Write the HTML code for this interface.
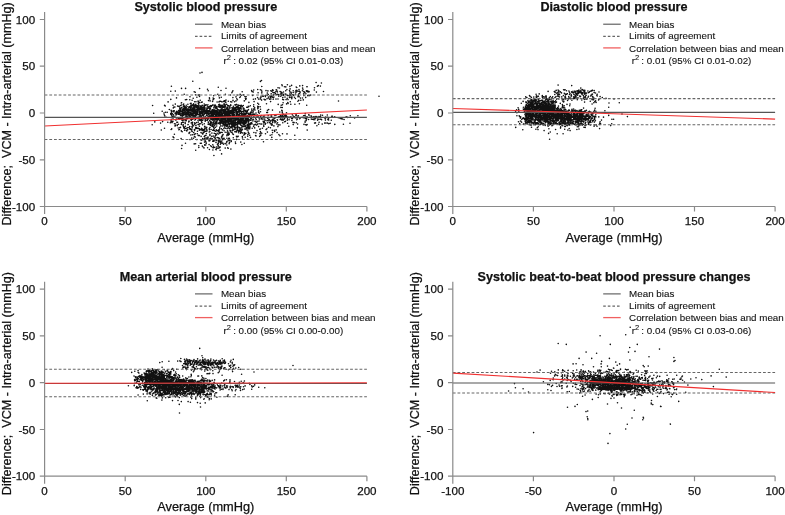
<!DOCTYPE html>
<html><head><meta charset="utf-8"><style>
html,body{margin:0;padding:0;background:#fff;}
svg{display:block;}
text{font-family:"Liberation Sans",Arial,sans-serif;fill:#111;stroke:#111;stroke-width:0.25px;}
.t{font-size:11.6px;}
.al{font-size:12.8px;}
.ti{font-size:12.6px;font-weight:bold;}
.lg{font-size:9.8px;stroke-width:0.1px;}
.yl{font-size:12.57px;}
</style></head><body>
<svg width="785" height="515" viewBox="0 0 785 515">
<rect width="785" height="515" fill="#fff"/>
<g transform="translate(0,0)">
<path d="M260.4 81.4h0M261.5 80.5h0M316.1 82.5h0M321.4 83.0h0M171.4 86.3h0M185.6 88.4h0M181.5 88.4h0M199.6 88.5h0M207.5 89.3h0M218.3 87.3h0M226.0 88.3h0M251.6 90.6h0M261.8 86.5h0M260.4 89.7h0M278.0 87.8h0M285.8 86.9h0M284.4 86.7h0M287.4 84.7h0M282.2 85.7h0M281.9 84.8h0M279.5 88.0h0M290.1 88.9h0M299.0 89.6h0M289.9 86.4h0M296.2 87.0h0M296.8 87.5h0M291.6 85.4h0M303.0 89.2h0M306.9 86.7h0M302.6 88.1h0M299.8 85.9h0M307.1 86.7h0M302.6 85.6h0M314.5 87.7h0M320.4 86.1h0M314.3 90.0h0M317.4 86.3h0M318.3 85.5h0M318.3 85.7h0M175.3 91.1h0M170.8 91.2h0M184.2 94.2h0M194.2 91.8h0M195.3 92.3h0M208.2 90.7h0M217.8 94.2h0M225.4 94.2h0M221.0 90.5h0M231.8 92.8h0M232.9 90.7h0M232.4 91.8h0M236.0 96.9h0M240.1 94.2h0M237.1 95.1h0M242.2 91.8h0M241.2 95.3h0M253.3 92.0h0M257.7 89.5h0M251.8 91.2h0M253.7 90.0h0M252.1 91.6h0M258.1 92.7h0M267.3 93.1h0M261.8 93.0h0M261.9 91.9h0M261.6 90.3h0M267.9 90.9h0M266.0 90.6h0M275.9 91.5h0M273.6 92.7h0M277.7 94.2h0M273.9 94.7h0M277.4 91.9h0M276.9 90.2h0M272.5 90.8h0M273.1 90.4h0M276.2 89.7h0M270.8 90.7h0M272.6 89.8h0M271.7 91.3h0M274.8 92.6h0M275.3 93.5h0M271.2 93.8h0M272.9 92.5h0M275.4 93.7h0M281.1 93.7h0M286.9 89.6h0M280.6 91.7h0M285.2 94.1h0M289.5 90.6h0M280.1 91.5h0M280.5 91.7h0M281.6 94.7h0M291.1 95.0h0M288.1 95.6h0M282.2 93.0h0M281.4 92.3h0M286.0 94.3h0M280.5 94.1h0M283.5 92.0h0M281.2 93.3h0M285.7 90.8h0M291.0 92.3h0M299.3 93.5h0M293.2 90.7h0M298.9 93.7h0M291.3 93.3h0M295.3 92.0h0M291.2 92.9h0M298.0 91.3h0M293.2 92.5h0M295.9 90.5h0M293.5 95.0h0M296.5 92.0h0M290.0 91.9h0M296.8 90.4h0M299.9 93.0h0M292.9 94.8h0M293.0 94.7h0M307.8 91.2h0M306.3 91.0h0M307.2 90.7h0M304.2 92.8h0M305.9 93.7h0M304.9 92.5h0M309.2 91.8h0M308.1 92.0h0M306.6 90.7h0M303.6 93.9h0M302.4 90.7h0M304.2 91.8h0M299.4 91.3h0M303.8 91.5h0M308.7 91.3h0M300.2 92.1h0M306.9 91.5h0M310.7 95.0h0M316.4 92.1h0M323.5 91.5h0M176.5 97.9h0M170.8 99.4h0M190.0 96.8h0M186.7 99.5h0M199.5 96.4h0M196.9 97.2h0M198.5 95.0h0M193.2 98.2h0M199.1 94.9h0M195.5 94.8h0M209.6 99.0h0M214.0 98.7h0M219.4 97.9h0M213.1 98.0h0M218.9 95.8h0M209.4 97.9h0M213.6 95.8h0M221.3 97.3h0M232.9 97.6h0M230.5 95.0h0M240.4 96.7h0M236.8 98.8h0M237.4 99.7h0M239.8 97.5h0M243.5 94.9h0M246.2 96.7h0M245.7 99.6h0M244.9 96.5h0M246.2 98.7h0M245.4 98.3h0M255.4 98.9h0M252.7 95.4h0M261.0 96.3h0M253.4 99.2h0M258.6 99.0h0M257.6 97.6h0M265.4 96.6h0M263.4 96.3h0M261.0 97.3h0M267.1 98.6h0M261.6 100.1h0M269.9 96.0h0M265.2 95.5h0M264.6 99.7h0M267.1 95.3h0M260.9 99.2h0M268.4 97.1h0M265.6 99.7h0M268.3 94.5h0M262.6 96.1h0M264.1 99.3h0M258.9 99.2h0M260.3 98.0h0M273.9 97.1h0M273.7 95.1h0M273.3 97.6h0M270.5 97.4h0M269.6 99.3h0M278.0 99.0h0M272.3 97.1h0M276.0 99.1h0M270.9 98.9h0M273.2 99.2h0M278.8 94.9h0M271.9 96.1h0M278.8 96.2h0M276.5 94.5h0M268.9 98.2h0M271.2 96.2h0M272.0 96.9h0M283.4 95.4h0M288.0 99.6h0M281.7 95.3h0M282.7 99.4h0M287.3 95.5h0M280.8 96.2h0M285.0 97.1h0M286.1 99.6h0M287.2 98.3h0M289.5 97.5h0M283.3 94.4h0M287.4 95.3h0M283.6 99.8h0M282.8 97.5h0M289.8 94.0h0M290.5 95.1h0M290.0 97.4h0M298.2 95.1h0M290.0 95.2h0M291.6 97.6h0M291.9 96.9h0M298.3 95.6h0M295.6 94.0h0M293.4 95.5h0M299.2 96.8h0M294.5 97.2h0M291.9 97.9h0M290.2 94.7h0M300.5 98.1h0M295.4 98.5h0M300.8 100.2h0M289.8 95.9h0M291.8 98.7h0M297.9 96.8h0M308.2 95.6h0M303.9 95.6h0M307.7 95.6h0M305.7 97.4h0M302.5 98.0h0M309.7 95.6h0M168.1 101.9h0M175.3 104.1h0M185.4 99.7h0M181.3 103.0h0M181.6 102.7h0M183.5 104.8h0M183.7 104.0h0M187.9 104.2h0M199.2 102.3h0M189.8 99.7h0M193.6 103.9h0M198.1 101.1h0M198.1 101.8h0M198.7 104.8h0M194.6 101.7h0M191.1 103.4h0M194.5 105.2h0M200.2 100.3h0M192.1 100.3h0M199.7 102.8h0M190.4 103.5h0M199.0 102.2h0M195.9 104.3h0M198.3 103.4h0M196.0 101.8h0M210.1 100.9h0M202.5 105.7h0M201.4 102.3h0M204.8 105.5h0M208.5 100.6h0M202.2 102.1h0M218.8 104.6h0M221.1 105.3h0M212.6 101.4h0M217.1 102.0h0M219.8 101.3h0M213.1 99.7h0M224.1 103.7h0M224.4 104.1h0M224.1 100.9h0M228.3 101.3h0M225.2 105.7h0M226.0 100.0h0M224.7 100.9h0M223.9 104.8h0M222.0 101.9h0M225.7 101.1h0M219.0 101.9h0M223.6 101.5h0M219.4 104.4h0M224.2 101.7h0M225.8 102.5h0M224.3 101.1h0M220.7 101.3h0M238.1 105.0h0M231.8 102.0h0M236.0 100.9h0M233.0 100.4h0M234.5 101.8h0M230.7 101.8h0M244.3 100.9h0M248.9 102.4h0M253.7 104.7h0M254.1 101.6h0M266.5 103.8h0M270.6 101.6h0M286.6 103.9h0M287.8 102.5h0M288.1 103.4h0M283.1 102.7h0M281.2 105.2h0M282.5 104.7h0M299.4 103.8h0M290.3 101.8h0M297.9 101.2h0M298.8 100.2h0M294.9 104.3h0M290.8 104.2h0M306.7 105.2h0M303.3 99.9h0M152.6 105.5h0M165.2 105.9h0M164.6 105.4h0M173.3 107.9h0M177.6 106.1h0M174.9 107.0h0M178.9 106.4h0M173.0 105.3h0M173.9 107.0h0M186.3 107.7h0M185.8 107.4h0M181.6 111.0h0M189.1 106.7h0M184.5 108.7h0M183.9 109.5h0M188.2 108.9h0M184.7 106.9h0M188.3 110.3h0M181.7 105.0h0M179.5 106.8h0M185.0 108.6h0M184.5 109.1h0M179.8 108.4h0M183.1 109.4h0M185.3 109.4h0M184.1 107.6h0M189.6 110.1h0M182.0 107.3h0M184.1 105.5h0M183.4 104.5h0M187.7 109.2h0M185.1 108.0h0M187.1 106.6h0M188.7 107.3h0M180.8 109.4h0M180.9 108.9h0M181.2 107.9h0M184.1 106.6h0M187.2 109.1h0M180.4 105.5h0M181.0 108.0h0M190.2 108.0h0M186.8 110.6h0M186.0 108.7h0M183.0 108.8h0M185.3 106.8h0M188.2 110.2h0M184.2 109.3h0M183.6 106.4h0M186.2 105.3h0M183.7 108.6h0M197.7 108.2h0M198.8 109.4h0M190.1 107.8h0M194.2 107.2h0M194.1 109.0h0M192.7 105.2h0M193.7 109.3h0M197.8 109.5h0M190.7 109.0h0M194.7 106.6h0M200.1 108.7h0M197.3 106.6h0M195.2 106.8h0M192.2 105.0h0M199.1 106.0h0M193.9 104.7h0M196.6 109.3h0M192.4 110.3h0M198.2 107.3h0M197.1 110.6h0M195.6 107.0h0M195.2 105.5h0M199.5 109.2h0M193.8 108.8h0M196.7 107.4h0M194.9 108.3h0M194.2 106.9h0M196.9 105.7h0M198.6 106.1h0M196.9 106.0h0M197.8 106.8h0M195.8 105.1h0M194.6 107.2h0M199.4 109.5h0M191.1 106.8h0M197.9 110.3h0M193.1 108.9h0M194.0 110.4h0M194.1 105.4h0M198.1 107.7h0M197.1 106.5h0M195.0 105.4h0M193.6 108.0h0M193.2 106.8h0M191.5 106.0h0M193.7 105.6h0M195.5 105.2h0M198.1 108.1h0M194.9 108.8h0M197.7 109.0h0M195.5 106.5h0M196.8 109.8h0M192.3 108.1h0M199.5 107.8h0M195.7 106.8h0M195.5 106.2h0M194.5 108.4h0M194.9 109.8h0M199.3 109.8h0M199.1 108.3h0M192.5 105.0h0M195.5 106.4h0M190.7 107.8h0M190.0 106.5h0M197.5 108.2h0M196.2 105.6h0M197.0 107.2h0M192.9 110.1h0M197.6 108.9h0M197.0 105.6h0M197.8 106.0h0M195.8 105.2h0M191.1 105.1h0M194.5 109.2h0M190.9 109.5h0M190.9 105.6h0M192.9 109.2h0M193.5 108.2h0M192.8 109.0h0M191.4 106.7h0M195.1 106.0h0M193.9 108.2h0M191.2 107.9h0M195.0 110.2h0M198.8 106.2h0M200.2 109.6h0M200.1 105.9h0M203.0 108.0h0M202.3 107.8h0M208.5 106.8h0M209.6 110.2h0M201.2 107.7h0M204.2 106.9h0M209.6 106.6h0M201.9 107.3h0M205.3 105.2h0M200.7 106.7h0M200.3 108.2h0M204.3 106.6h0M201.4 106.4h0M202.2 105.3h0M203.7 106.1h0M207.9 108.3h0M207.3 106.1h0M205.7 105.3h0M204.7 108.6h0M208.1 107.5h0M206.9 109.4h0M206.8 108.1h0M207.9 104.7h0M204.2 104.0h0M202.1 108.7h0M205.2 108.1h0M209.2 107.0h0M206.2 104.7h0M205.4 105.0h0M204.3 107.1h0M205.4 105.5h0M203.0 107.9h0M201.4 108.9h0M203.9 108.5h0M201.5 106.2h0M204.1 109.7h0M207.8 108.2h0M209.8 106.3h0M200.4 109.4h0M209.6 106.7h0M213.8 107.7h0M215.7 107.6h0M220.3 106.6h0M213.9 107.8h0M216.9 107.6h0M219.7 107.2h0M219.1 106.5h0M209.0 107.4h0M215.9 107.0h0M212.2 105.5h0M217.5 109.4h0M215.2 105.1h0M218.8 110.1h0M219.8 104.9h0M217.3 108.7h0M216.6 106.5h0M215.8 110.2h0M215.5 105.7h0M210.2 108.6h0M211.3 106.4h0M211.0 105.6h0M218.2 106.2h0M214.3 106.6h0M210.1 106.1h0M213.7 107.8h0M214.6 105.9h0M210.1 109.2h0M209.9 108.5h0M214.4 105.4h0M216.3 108.2h0M220.4 106.8h0M214.7 105.5h0M213.9 109.6h0M212.9 104.9h0M210.5 108.1h0M210.4 108.9h0M218.5 106.7h0M209.2 108.3h0M215.3 108.1h0M209.9 109.3h0M220.8 106.7h0M219.2 104.8h0M225.6 109.3h0M220.8 107.7h0M223.7 109.8h0M228.5 105.9h0M221.9 109.6h0M228.0 106.1h0M222.0 109.0h0M219.2 105.8h0M226.2 108.8h0M224.5 106.6h0M222.4 105.4h0M229.9 106.7h0M223.4 106.8h0M222.6 107.6h0M225.6 110.1h0M227.0 108.5h0M222.8 105.6h0M227.9 109.0h0M222.4 110.2h0M229.2 107.7h0M224.7 109.0h0M227.6 109.5h0M227.5 107.4h0M230.1 108.0h0M220.1 106.2h0M223.2 107.4h0M224.9 105.8h0M221.7 109.4h0M228.8 109.3h0M226.5 104.3h0M225.7 106.9h0M229.1 109.3h0M225.8 109.5h0M223.6 110.7h0M222.3 106.4h0M226.3 109.0h0M227.6 105.4h0M221.6 108.3h0M224.5 107.3h0M225.2 105.0h0M221.3 106.4h0M226.5 108.4h0M233.4 108.4h0M230.0 105.9h0M230.2 105.8h0M239.6 109.2h0M234.1 107.5h0M235.7 108.0h0M238.0 107.0h0M235.1 108.2h0M238.4 108.6h0M232.9 107.8h0M238.3 106.1h0M240.6 106.3h0M237.4 109.2h0M236.9 107.4h0M236.2 104.5h0M234.7 109.2h0M236.1 109.1h0M236.1 109.3h0M236.6 104.5h0M237.8 109.0h0M234.0 107.7h0M233.3 106.2h0M233.9 110.2h0M232.4 108.8h0M235.2 105.2h0M233.4 108.4h0M235.0 104.8h0M231.9 107.7h0M230.7 104.9h0M241.1 107.0h0M233.2 109.3h0M230.0 105.8h0M234.6 109.0h0M239.1 105.5h0M237.0 106.3h0M230.9 105.2h0M237.6 107.7h0M235.7 107.4h0M238.8 107.7h0M238.9 107.9h0M232.2 109.5h0M236.2 107.0h0M248.3 106.2h0M239.9 107.9h0M248.8 106.6h0M240.8 108.2h0M242.3 106.4h0M241.3 105.3h0M243.3 105.5h0M246.7 107.3h0M248.3 106.5h0M243.1 108.1h0M240.1 105.6h0M244.2 109.0h0M247.7 107.3h0M243.4 109.7h0M241.4 109.0h0M248.5 106.8h0M243.8 108.4h0M260.5 109.3h0M257.7 106.2h0M258.7 104.3h0M257.7 107.7h0M257.7 103.3h0M253.7 106.5h0M258.5 106.9h0M253.9 109.5h0M258.2 107.3h0M258.0 108.6h0M255.0 110.0h0M253.7 109.1h0M250.3 105.8h0M251.8 109.1h0M254.7 107.9h0M257.7 108.7h0M255.0 110.0h0M260.2 106.8h0M278.2 104.4h0M282.3 107.5h0M280.9 107.4h0M153.7 113.2h0M162.2 111.2h0M169.3 109.5h0M165.5 112.3h0M164.0 113.1h0M167.2 112.2h0M164.2 114.7h0M176.0 113.6h0M176.3 111.9h0M173.5 114.8h0M180.0 111.4h0M174.3 110.8h0M179.9 111.3h0M175.2 113.5h0M171.6 114.4h0M171.5 111.4h0M176.8 111.3h0M172.2 113.5h0M178.8 112.0h0M170.8 114.4h0M178.6 110.5h0M180.1 112.8h0M178.9 111.1h0M177.9 112.7h0M176.5 114.3h0M171.7 111.4h0M179.5 113.5h0M171.7 111.8h0M179.3 110.1h0M180.7 109.5h0M177.7 112.8h0M173.5 111.7h0M171.5 111.8h0M178.2 113.9h0M176.8 113.1h0M176.1 114.9h0M178.1 114.2h0M171.9 111.0h0M172.4 113.7h0M174.0 111.4h0M178.6 112.5h0M175.1 113.1h0M173.6 110.8h0M171.1 110.3h0M171.2 113.0h0M179.2 112.3h0M170.7 113.5h0M177.4 111.7h0M171.3 114.5h0M188.7 113.5h0M182.0 113.2h0M185.9 112.6h0M183.9 114.4h0M185.4 110.9h0M184.7 110.4h0M183.3 112.9h0M181.6 111.8h0M182.7 114.3h0M180.1 113.8h0M189.2 110.8h0M181.5 111.2h0M187.8 110.7h0M184.2 112.5h0M180.5 110.7h0M182.9 113.7h0M186.4 113.7h0M184.9 113.6h0M188.8 114.7h0M183.2 112.2h0M186.4 114.5h0M188.6 115.0h0M187.6 109.5h0M182.7 111.1h0M187.8 112.0h0M186.8 109.9h0M183.1 113.3h0M189.3 110.6h0M190.1 112.2h0M181.9 111.7h0M188.7 112.8h0M179.7 111.9h0M187.2 113.9h0M188.9 113.8h0M187.4 114.9h0M183.2 110.9h0M183.0 113.6h0M182.9 111.6h0M185.1 114.3h0M182.4 114.3h0M180.5 109.5h0M188.6 113.9h0M187.8 113.1h0M182.6 110.3h0M188.3 111.4h0M186.1 112.8h0M180.7 113.7h0M186.9 110.9h0M184.7 114.2h0M181.1 115.3h0M181.0 114.1h0M181.6 111.2h0M188.1 111.8h0M188.5 112.6h0M179.9 109.6h0M182.7 111.0h0M185.9 114.9h0M182.7 114.2h0M183.2 115.4h0M190.8 113.4h0M180.9 115.5h0M187.3 114.4h0M185.6 110.8h0M181.5 113.7h0M184.3 110.7h0M186.7 112.6h0M184.1 114.5h0M187.9 111.6h0M188.6 114.9h0M187.9 114.9h0M183.1 112.3h0M181.8 111.5h0M187.7 111.9h0M182.5 113.0h0M189.4 112.6h0M184.9 110.3h0M187.3 110.3h0M179.6 114.4h0M179.8 113.4h0M181.5 111.8h0M182.7 109.4h0M185.0 114.0h0M186.7 109.2h0M184.7 113.0h0M185.1 111.5h0M197.2 113.7h0M191.0 112.3h0M194.2 109.4h0M194.1 112.6h0M193.8 112.5h0M191.7 113.6h0M194.4 110.6h0M191.5 113.9h0M193.8 112.9h0M196.0 112.4h0M188.9 111.9h0M198.8 114.5h0M194.7 111.2h0M190.4 110.1h0M195.7 114.4h0M190.5 113.6h0M193.6 112.4h0M195.6 113.3h0M198.0 110.7h0M192.9 112.5h0M189.4 109.3h0M194.1 111.8h0M190.7 113.1h0M196.1 113.9h0M197.4 111.0h0M191.7 114.6h0M197.2 114.4h0M199.7 111.4h0M195.9 112.2h0M190.7 114.1h0M194.2 111.9h0M192.8 115.6h0M199.3 110.1h0M193.1 114.6h0M195.1 113.9h0M194.6 110.6h0M193.1 113.3h0M196.4 111.4h0M194.2 111.9h0M191.0 113.2h0M197.6 113.6h0M195.5 110.1h0M197.0 112.5h0M196.8 114.3h0M193.8 112.1h0M196.1 114.6h0M194.3 110.9h0M197.3 111.5h0M199.9 113.2h0M194.3 112.7h0M192.5 110.6h0M191.6 113.0h0M200.0 112.3h0M197.4 110.6h0M197.1 114.4h0M191.6 109.9h0M192.9 112.8h0M195.5 112.2h0M199.0 114.3h0M197.1 113.6h0M192.5 115.0h0M199.3 114.0h0M200.3 112.0h0M195.5 112.1h0M189.7 114.9h0M192.4 113.2h0M197.8 112.2h0M197.7 112.6h0M197.7 110.5h0M199.7 112.9h0M198.7 114.8h0M194.3 113.2h0M195.7 111.7h0M193.4 111.6h0M191.6 111.1h0M192.7 111.4h0M190.6 110.7h0M192.3 115.5h0M192.7 111.3h0M196.7 112.0h0M192.6 114.3h0M196.9 114.9h0M197.9 110.6h0M194.0 113.0h0M198.9 114.7h0M205.5 112.2h0M207.3 110.5h0M206.5 109.8h0M204.0 112.7h0M200.1 113.0h0M206.8 111.7h0M203.5 110.5h0M201.6 113.0h0M203.2 112.6h0M207.0 114.0h0M205.1 112.4h0M205.2 112.7h0M205.1 112.6h0M202.7 115.0h0M209.1 113.4h0M206.4 113.1h0M203.1 111.7h0M208.1 110.9h0M202.7 109.6h0M201.3 112.3h0M200.9 112.6h0M203.7 114.7h0M207.4 112.4h0M208.9 114.0h0M201.8 114.0h0M208.8 113.0h0M206.6 113.1h0M206.1 110.6h0M206.6 113.9h0M201.1 113.5h0M203.1 112.8h0M202.0 113.4h0M209.0 110.5h0M207.6 113.9h0M201.9 111.0h0M207.6 111.6h0M206.3 112.3h0M209.0 112.0h0M208.6 111.1h0M209.0 113.8h0M200.0 114.1h0M210.4 111.5h0M204.8 111.1h0M201.4 112.1h0M204.3 114.3h0M204.6 111.5h0M208.7 114.3h0M208.2 114.3h0M201.0 113.3h0M209.9 113.2h0M204.0 110.4h0M206.5 110.0h0M201.6 110.0h0M206.4 111.1h0M207.1 111.1h0M206.0 111.3h0M207.8 115.7h0M209.1 113.3h0M200.3 113.9h0M201.2 111.3h0M207.4 112.1h0M205.8 111.5h0M200.6 111.8h0M205.7 112.9h0M202.7 112.6h0M199.1 111.8h0M205.1 110.0h0M199.8 111.3h0M205.8 110.8h0M207.7 113.8h0M205.1 113.5h0M202.7 112.2h0M203.4 111.1h0M202.8 113.3h0M208.4 111.1h0M207.9 114.1h0M207.5 110.3h0M204.3 114.0h0M206.1 111.5h0M207.4 112.8h0M200.2 114.6h0M206.7 114.0h0M203.3 110.6h0M202.6 114.3h0M205.9 112.5h0M210.4 111.2h0M213.2 110.6h0M219.6 113.5h0M217.8 112.2h0M218.3 114.3h0M212.9 113.9h0M215.7 114.1h0M215.6 111.4h0M218.4 114.4h0M216.3 115.4h0M216.2 113.9h0M213.7 113.4h0M213.1 113.3h0M216.6 113.9h0M214.1 113.3h0M219.3 113.8h0M211.8 110.7h0M214.1 113.8h0M216.4 112.7h0M211.0 114.4h0M215.9 111.8h0M211.7 114.1h0M214.2 111.9h0M217.1 111.2h0M212.7 112.3h0M212.5 111.3h0M215.1 112.2h0M212.7 112.1h0M217.4 113.4h0M209.3 113.7h0M212.3 114.2h0M210.8 112.7h0M213.6 112.5h0M218.9 109.9h0M212.8 111.6h0M216.8 110.3h0M216.4 111.8h0M210.8 111.6h0M218.6 112.0h0M217.1 114.4h0M211.7 113.5h0M217.6 109.6h0M213.2 110.7h0M213.0 110.6h0M214.9 114.3h0M213.7 114.9h0M213.4 110.2h0M218.9 112.5h0M213.2 112.8h0M215.0 113.7h0M216.1 114.4h0M216.6 114.2h0M212.8 112.8h0M214.8 112.5h0M214.9 111.8h0M215.7 111.0h0M212.1 110.3h0M213.9 114.1h0M213.6 111.1h0M211.6 112.9h0M219.0 112.5h0M210.9 113.1h0M217.3 112.9h0M219.8 111.7h0M212.3 109.9h0M210.1 113.2h0M218.5 113.3h0M211.5 111.6h0M215.8 111.5h0M216.6 113.9h0M211.0 115.3h0M214.5 113.2h0M219.4 113.1h0M212.2 109.7h0M215.9 114.3h0M217.6 111.5h0M218.5 114.9h0M217.8 111.5h0M214.9 112.7h0M211.9 115.0h0M217.3 113.4h0M214.9 110.4h0M209.9 110.9h0M211.6 111.0h0M217.6 111.0h0M222.5 113.7h0M227.6 113.1h0M227.0 113.1h0M225.3 110.8h0M227.4 115.0h0M228.1 111.9h0M222.1 115.1h0M221.0 110.5h0M225.4 112.7h0M228.4 111.2h0M226.9 112.5h0M224.2 110.6h0M218.7 112.2h0M228.2 114.0h0M228.5 114.7h0M223.3 112.5h0M219.9 113.8h0M228.1 113.1h0M223.3 112.1h0M224.4 113.1h0M225.1 111.3h0M224.8 110.1h0M227.9 111.4h0M223.4 110.7h0M221.2 110.6h0M224.9 109.9h0M227.8 112.0h0M223.9 113.7h0M220.3 112.6h0M229.8 112.9h0M226.2 111.6h0M226.4 113.1h0M220.7 111.9h0M221.6 112.2h0M227.2 111.4h0M225.2 110.5h0M225.9 114.9h0M227.0 115.2h0M222.4 113.6h0M228.8 110.4h0M221.4 113.5h0M226.8 113.8h0M230.5 112.2h0M225.7 110.9h0M220.9 112.4h0M227.7 114.3h0M222.0 111.1h0M224.7 116.2h0M228.0 113.0h0M227.7 111.9h0M220.5 112.0h0M228.6 112.7h0M231.2 110.6h0M225.5 114.7h0M224.2 114.0h0M225.5 114.1h0M220.5 114.7h0M229.9 112.8h0M222.4 114.4h0M220.1 110.4h0M224.7 112.2h0M226.7 114.2h0M228.9 113.4h0M225.4 110.9h0M227.3 110.9h0M223.5 112.9h0M226.6 112.4h0M220.2 111.7h0M230.4 110.5h0M221.1 114.6h0M224.7 113.9h0M223.3 109.9h0M227.5 111.9h0M222.4 111.0h0M219.7 111.1h0M226.2 114.2h0M221.7 113.1h0M221.6 114.1h0M223.3 112.1h0M223.3 110.1h0M229.5 111.6h0M224.8 114.7h0M228.3 113.9h0M221.0 109.5h0M224.1 111.3h0M233.9 113.3h0M236.4 113.4h0M233.1 112.7h0M233.8 113.7h0M234.6 112.1h0M229.9 115.7h0M233.0 109.9h0M229.4 113.6h0M237.6 113.9h0M232.7 113.4h0M230.7 111.6h0M233.4 111.6h0M237.0 112.4h0M231.8 113.0h0M240.1 115.7h0M235.1 110.6h0M231.5 111.2h0M238.8 110.2h0M236.4 112.0h0M236.2 115.0h0M232.3 112.6h0M233.6 114.2h0M236.0 111.3h0M230.0 114.9h0M233.2 112.5h0M233.9 112.9h0M239.2 114.2h0M236.1 110.5h0M236.5 110.4h0M230.1 111.6h0M236.5 111.7h0M240.6 111.4h0M234.1 114.9h0M236.9 113.4h0M236.7 113.7h0M233.0 115.3h0M232.0 111.3h0M229.8 112.2h0M233.2 112.2h0M234.8 110.2h0M231.1 113.4h0M234.5 114.5h0M240.3 110.3h0M232.2 114.5h0M231.9 114.2h0M239.2 111.3h0M240.0 113.6h0M230.0 113.2h0M236.5 114.9h0M239.1 110.4h0M238.2 111.4h0M236.9 114.0h0M237.5 111.9h0M236.9 114.1h0M228.9 110.7h0M229.4 111.8h0M239.7 114.1h0M232.8 111.4h0M237.7 114.0h0M237.9 114.8h0M232.0 111.5h0M231.5 112.2h0M233.6 110.2h0M236.7 110.7h0M235.8 113.0h0M233.5 112.6h0M238.4 111.5h0M231.8 110.4h0M235.6 110.0h0M229.9 115.2h0M233.7 112.7h0M237.9 114.5h0M232.6 111.0h0M239.3 111.2h0M233.4 110.8h0M234.2 112.7h0M233.2 114.8h0M237.7 113.0h0M234.0 110.0h0M229.4 112.0h0M238.2 112.1h0M229.1 110.8h0M237.6 114.4h0M231.7 111.5h0M233.9 110.0h0M247.3 111.6h0M246.0 113.2h0M245.9 110.7h0M246.8 111.9h0M248.4 109.8h0M247.0 113.1h0M248.4 114.2h0M250.0 113.5h0M241.8 114.6h0M250.5 113.1h0M244.6 110.6h0M239.5 112.7h0M249.4 114.3h0M240.0 113.8h0M241.6 112.6h0M250.1 113.0h0M241.8 112.9h0M243.8 111.3h0M247.8 110.2h0M245.6 111.7h0M244.6 113.6h0M241.6 111.4h0M248.5 109.6h0M242.9 111.5h0M245.1 114.6h0M243.9 115.0h0M243.8 114.6h0M247.3 111.0h0M248.3 113.4h0M246.6 112.4h0M238.9 109.7h0M241.8 113.4h0M240.8 113.5h0M246.1 114.1h0M243.1 113.9h0M245.7 113.9h0M243.6 111.8h0M243.9 112.5h0M249.3 114.8h0M250.8 114.4h0M246.9 112.2h0M245.9 110.2h0M255.0 114.9h0M251.4 112.3h0M254.6 114.3h0M249.5 114.1h0M252.1 114.0h0M253.3 111.1h0M251.9 110.4h0M252.9 114.6h0M258.6 110.9h0M253.0 112.2h0M258.5 112.3h0M256.0 113.1h0M259.3 113.3h0M253.7 114.1h0M257.1 114.9h0M251.7 112.0h0M250.9 112.1h0M267.4 110.3h0M260.5 111.7h0M268.7 109.6h0M267.5 112.4h0M266.7 112.5h0M261.2 115.6h0M271.5 115.1h0M272.5 110.1h0M282.2 110.9h0M282.2 112.3h0M286.5 112.8h0M279.8 112.1h0M282.4 113.0h0M281.8 110.4h0M296.1 114.6h0M305.2 113.5h0M166.1 117.2h0M164.8 115.9h0M180.7 115.6h0M176.0 117.8h0M176.6 119.6h0M178.8 118.3h0M179.2 114.3h0M172.1 117.0h0M178.8 119.0h0M173.3 116.3h0M171.3 119.3h0M171.8 115.8h0M176.7 117.7h0M173.0 117.1h0M172.3 116.3h0M177.9 117.9h0M174.9 116.3h0M179.5 119.1h0M173.0 118.2h0M186.9 117.2h0M185.4 114.7h0M185.7 116.9h0M185.9 115.2h0M189.8 115.0h0M181.3 117.9h0M184.1 117.7h0M185.6 120.3h0M190.0 117.1h0M184.7 119.7h0M183.4 114.9h0M183.3 120.1h0M184.8 117.5h0M180.4 118.4h0M187.4 118.5h0M186.4 118.8h0M186.4 116.3h0M187.2 117.1h0M182.2 117.4h0M186.5 114.7h0M187.3 116.8h0M189.0 116.4h0M182.6 118.8h0M183.7 119.8h0M182.2 116.8h0M183.1 118.1h0M184.7 114.8h0M181.7 119.0h0M186.4 116.9h0M186.7 118.9h0M189.1 118.2h0M187.1 118.2h0M187.8 118.0h0M182.4 115.9h0M189.7 116.6h0M182.0 118.8h0M182.7 117.9h0M185.9 119.0h0M186.6 116.9h0M186.2 116.8h0M189.5 114.8h0M180.9 117.7h0M195.5 115.7h0M199.3 118.7h0M197.6 118.0h0M200.0 120.0h0M191.8 119.5h0M193.4 115.1h0M193.4 117.0h0M196.0 117.3h0M195.9 115.4h0M192.9 116.6h0M197.8 117.2h0M198.6 118.6h0M195.8 118.6h0M195.6 116.7h0M194.3 117.4h0M195.2 115.5h0M198.7 117.2h0M192.9 114.4h0M190.9 116.0h0M194.9 120.1h0M199.5 116.3h0M190.6 116.4h0M194.7 115.4h0M193.8 116.0h0M190.3 116.2h0M195.3 118.1h0M191.7 115.0h0M193.7 118.5h0M194.8 117.3h0M191.6 119.0h0M194.1 116.5h0M196.6 117.9h0M192.9 119.1h0M189.9 115.8h0M195.7 119.3h0M192.7 115.8h0M198.3 117.6h0M197.2 114.6h0M190.8 119.2h0M200.1 115.4h0M194.6 116.4h0M194.5 116.1h0M209.6 116.6h0M207.2 118.1h0M209.2 115.0h0M208.0 119.2h0M207.3 120.5h0M202.6 114.8h0M207.8 118.7h0M205.3 119.1h0M203.1 118.8h0M202.8 118.3h0M208.2 116.9h0M202.0 115.8h0M201.3 117.0h0M203.6 116.1h0M200.4 119.7h0M208.9 116.7h0M208.3 114.3h0M200.0 117.5h0M206.8 118.7h0M207.0 117.6h0M208.5 118.7h0M201.5 119.1h0M206.4 115.5h0M199.6 120.3h0M206.4 117.8h0M200.3 115.7h0M208.5 117.4h0M201.1 119.9h0M205.8 117.6h0M200.8 115.5h0M207.0 118.0h0M210.3 118.9h0M205.0 117.3h0M208.2 118.4h0M208.9 117.7h0M208.0 117.7h0M200.9 116.8h0M202.9 120.0h0M201.4 118.4h0M200.2 115.2h0M207.7 119.4h0M205.3 116.7h0M210.6 115.9h0M210.5 118.8h0M219.7 115.3h0M212.2 116.6h0M216.7 115.9h0M213.3 117.9h0M211.1 115.7h0M213.5 119.5h0M210.8 116.1h0M212.0 115.9h0M213.9 116.1h0M210.8 119.0h0M214.4 118.7h0M213.2 119.5h0M215.7 115.5h0M215.4 117.8h0M212.3 117.7h0M213.1 117.3h0M216.9 117.0h0M215.4 118.2h0M217.4 115.9h0M219.2 120.1h0M217.3 118.9h0M215.6 119.0h0M210.6 116.5h0M210.8 115.7h0M221.7 117.9h0M214.4 117.0h0M216.2 115.7h0M214.0 116.9h0M219.4 116.6h0M216.4 115.9h0M214.7 116.9h0M216.2 119.2h0M219.3 116.5h0M216.8 118.4h0M218.0 117.2h0M217.1 119.5h0M212.6 117.0h0M220.2 115.9h0M211.4 118.6h0M213.8 116.9h0M218.9 116.5h0M217.0 119.2h0M210.9 115.5h0M211.0 119.1h0M211.5 117.9h0M213.2 118.2h0M216.3 121.0h0M214.9 117.7h0M218.8 119.6h0M216.1 115.2h0M211.3 119.4h0M212.5 119.0h0M215.0 116.8h0M217.9 115.8h0M218.6 119.5h0M218.9 119.2h0M220.5 119.9h0M212.1 118.8h0M216.2 116.5h0M210.4 115.7h0M211.4 117.4h0M218.4 117.6h0M212.6 115.4h0M218.0 118.6h0M215.9 118.3h0M219.4 117.9h0M217.8 117.1h0M215.9 114.8h0M215.7 119.2h0M216.1 119.3h0M214.7 117.4h0M215.1 116.7h0M213.2 119.3h0M211.3 119.2h0M212.7 117.1h0M216.8 115.1h0M218.3 117.8h0M215.4 117.1h0M211.4 115.9h0M213.1 116.2h0M217.0 115.4h0M213.4 117.6h0M216.6 118.5h0M223.3 117.8h0M229.5 115.7h0M221.6 115.8h0M224.2 115.5h0M223.5 117.4h0M225.2 116.0h0M228.2 120.1h0M226.1 117.3h0M220.6 118.2h0M224.0 117.8h0M223.5 119.6h0M228.1 115.7h0M224.3 117.1h0M224.9 118.7h0M219.5 117.9h0M221.3 114.6h0M228.3 114.5h0M222.1 120.3h0M218.1 116.5h0M228.7 118.1h0M219.6 115.3h0M226.0 115.5h0M222.6 118.6h0M224.1 116.7h0M225.2 119.9h0M230.4 119.0h0M227.5 115.6h0M227.2 116.3h0M220.8 120.0h0M229.7 119.9h0M223.2 118.1h0M228.0 117.6h0M223.2 116.5h0M229.5 118.6h0M221.2 118.9h0M221.4 117.1h0M227.9 117.4h0M222.6 115.4h0M219.6 117.9h0M227.3 120.2h0M228.2 118.0h0M228.8 115.6h0M220.9 118.9h0M225.4 115.9h0M220.5 117.4h0M221.9 118.1h0M223.2 116.1h0M224.7 118.6h0M221.3 116.9h0M227.3 118.6h0M227.7 114.3h0M222.7 116.9h0M226.0 118.1h0M225.4 118.5h0M222.4 117.4h0M227.4 119.5h0M220.3 116.1h0M224.4 119.8h0M228.1 116.8h0M229.4 116.9h0M219.4 117.3h0M225.2 116.4h0M221.3 117.1h0M224.5 119.8h0M224.9 115.7h0M226.2 117.9h0M221.9 119.6h0M229.5 120.1h0M225.7 115.5h0M222.9 117.7h0M219.1 116.2h0M227.9 115.2h0M221.6 115.2h0M231.3 118.0h0M230.0 118.4h0M228.2 118.2h0M222.1 115.5h0M223.0 120.1h0M223.3 118.8h0M221.6 115.8h0M220.2 115.7h0M222.2 117.5h0M221.3 117.6h0M229.6 116.7h0M225.9 120.5h0M236.7 118.9h0M231.6 121.3h0M230.8 115.9h0M238.9 116.0h0M232.0 120.0h0M239.0 114.8h0M238.3 119.2h0M230.1 118.9h0M238.3 114.2h0M234.5 118.8h0M234.3 115.6h0M236.7 118.2h0M236.8 119.1h0M235.9 117.9h0M238.5 118.6h0M239.2 119.4h0M232.8 117.7h0M235.8 117.0h0M233.4 120.0h0M239.6 115.5h0M235.3 116.7h0M231.1 118.1h0M237.0 116.6h0M234.0 119.0h0M236.0 117.7h0M233.1 115.7h0M240.5 116.4h0M230.8 118.8h0M234.2 118.5h0M235.2 120.0h0M231.1 118.4h0M231.9 119.1h0M235.0 116.7h0M233.0 116.9h0M238.4 118.6h0M231.4 117.6h0M238.6 117.6h0M233.3 115.9h0M238.1 115.3h0M234.4 118.0h0M237.3 116.4h0M233.9 115.4h0M239.7 114.3h0M238.4 116.2h0M234.0 117.6h0M236.0 115.4h0M233.7 117.2h0M233.7 117.5h0M233.7 118.7h0M235.6 116.6h0M231.8 117.9h0M236.7 114.9h0M233.8 117.1h0M232.9 118.1h0M238.1 119.1h0M233.5 115.3h0M232.2 115.7h0M237.1 116.8h0M237.8 117.1h0M234.0 116.4h0M236.5 117.5h0M236.8 119.4h0M230.2 119.9h0M237.1 119.6h0M233.3 115.4h0M237.2 119.3h0M232.5 117.2h0M235.6 120.6h0M235.6 119.5h0M239.4 116.6h0M235.3 118.5h0M239.4 120.2h0M231.2 120.0h0M233.9 117.4h0M239.3 116.5h0M237.2 118.0h0M239.2 114.6h0M236.3 117.9h0M229.0 119.2h0M238.9 116.6h0M238.9 120.4h0M234.8 119.1h0M233.4 117.1h0M232.6 116.1h0M238.1 116.1h0M240.2 118.4h0M247.8 119.2h0M245.1 116.7h0M241.7 118.9h0M240.3 116.7h0M242.5 118.3h0M248.1 118.5h0M243.1 117.5h0M243.3 117.5h0M242.4 115.6h0M242.3 116.1h0M245.6 120.5h0M247.9 117.4h0M244.8 117.4h0M241.5 116.9h0M242.5 118.5h0M244.9 115.4h0M249.9 117.1h0M245.8 116.2h0M246.0 118.9h0M244.0 116.3h0M239.3 117.0h0M243.4 115.9h0M248.9 116.8h0M248.5 117.4h0M246.9 116.8h0M245.7 116.8h0M240.2 115.8h0M247.8 115.7h0M240.2 118.0h0M240.5 117.0h0M243.6 119.0h0M248.7 117.0h0M243.6 118.0h0M246.5 119.9h0M247.2 117.0h0M246.1 120.2h0M245.6 120.1h0M243.2 119.2h0M242.5 116.7h0M241.1 116.9h0M240.4 116.6h0M244.1 120.3h0M248.9 117.7h0M244.2 114.7h0M242.5 118.5h0M243.4 117.7h0M248.2 118.9h0M247.4 120.3h0M247.2 118.2h0M244.9 115.7h0M242.2 120.3h0M246.3 116.2h0M246.9 116.0h0M247.6 117.9h0M250.8 118.5h0M244.1 117.0h0M243.7 118.8h0M248.3 117.4h0M241.8 115.4h0M249.8 117.3h0M247.9 120.6h0M243.3 118.0h0M246.5 120.5h0M241.5 117.7h0M243.1 120.2h0M242.7 117.0h0M246.5 117.2h0M246.9 118.0h0M243.1 117.5h0M245.6 118.0h0M244.6 117.3h0M246.8 117.1h0M248.4 116.3h0M251.0 115.6h0M247.3 115.6h0M248.0 119.3h0M246.5 116.3h0M243.0 115.5h0M245.0 114.1h0M244.0 120.5h0M245.1 115.9h0M247.1 118.0h0M242.0 118.6h0M247.9 119.1h0M253.5 119.3h0M256.2 115.9h0M251.1 118.9h0M251.6 115.9h0M252.9 119.6h0M253.9 116.8h0M251.1 119.0h0M256.2 119.5h0M258.4 117.6h0M257.1 115.1h0M258.0 116.5h0M255.7 118.3h0M252.0 115.7h0M251.0 119.9h0M251.8 117.9h0M249.5 115.8h0M250.8 118.5h0M268.2 115.6h0M261.4 118.8h0M267.6 118.3h0M262.7 119.1h0M270.2 120.5h0M259.8 117.5h0M267.1 120.5h0M259.4 119.1h0M263.1 119.0h0M264.7 119.1h0M271.8 120.2h0M267.8 117.6h0M260.7 116.2h0M261.2 118.9h0M269.0 119.3h0M264.5 116.0h0M263.3 116.2h0M280.1 116.8h0M279.0 116.5h0M273.3 119.0h0M276.2 115.0h0M274.9 115.5h0M272.7 120.1h0M276.5 114.8h0M272.1 117.2h0M274.3 118.7h0M271.3 115.3h0M275.0 118.1h0M271.2 116.2h0M277.3 119.7h0M277.5 120.1h0M272.5 119.6h0M278.2 117.4h0M275.2 117.8h0M282.9 119.8h0M283.5 116.6h0M279.9 116.9h0M284.1 119.3h0M286.2 115.3h0M283.0 120.0h0M284.4 118.5h0M284.7 118.2h0M281.5 116.2h0M281.8 116.5h0M283.5 117.3h0M285.8 116.3h0M289.4 117.5h0M285.1 114.9h0M282.8 114.9h0M281.4 119.9h0M287.7 117.2h0M286.7 116.2h0M283.0 120.5h0M289.1 119.8h0M282.5 115.2h0M283.4 114.4h0M286.0 116.1h0M283.5 117.1h0M283.9 117.6h0M284.6 115.9h0M280.8 117.4h0M285.6 117.0h0M282.5 116.9h0M280.5 115.6h0M280.2 119.3h0M285.1 115.8h0M287.5 118.9h0M280.7 116.8h0M282.4 119.0h0M280.9 119.1h0M282.2 116.0h0M288.6 117.2h0M289.7 117.7h0M286.5 117.1h0M280.4 116.4h0M280.2 116.5h0M292.3 114.7h0M293.2 116.1h0M289.9 117.3h0M297.9 116.1h0M298.4 115.9h0M294.5 116.7h0M296.7 119.7h0M295.2 117.7h0M295.9 115.4h0M300.2 118.1h0M296.3 115.8h0M296.4 117.7h0M290.9 116.9h0M297.4 119.1h0M291.7 118.5h0M299.6 118.8h0M292.5 118.6h0M308.7 114.9h0M305.1 121.2h0M303.6 115.8h0M306.7 118.3h0M306.5 119.3h0M304.5 115.5h0M302.2 117.4h0M304.7 115.5h0M305.9 118.7h0M309.2 115.1h0M303.6 117.7h0M305.2 118.4h0M306.3 117.1h0M308.6 119.5h0M307.3 117.0h0M305.3 117.3h0M305.1 115.4h0M310.0 117.2h0M315.7 118.2h0M318.9 116.5h0M315.2 116.6h0M311.1 115.7h0M314.8 119.8h0M317.6 120.3h0M313.6 116.8h0M311.3 119.1h0M316.8 116.6h0M313.8 117.2h0M314.2 118.3h0M311.6 116.6h0M316.0 117.2h0M317.8 119.0h0M319.1 119.2h0M312.3 119.2h0M322.5 115.3h0M325.8 117.0h0M328.3 119.5h0M328.2 118.8h0M320.4 116.5h0M328.6 120.0h0M327.9 119.6h0M320.7 119.3h0M327.7 117.2h0M320.7 115.1h0M325.1 118.4h0M328.7 117.9h0M325.4 120.1h0M321.6 119.7h0M325.6 117.9h0M321.1 117.6h0M327.3 115.0h0M331.8 116.4h0M340.9 118.6h0M338.3 117.7h0M339.7 118.0h0M334.7 116.8h0M332.4 116.3h0M344.1 119.5h0M346.2 116.8h0M341.7 118.7h0M350.3 115.7h0M347.6 117.4h0M342.6 119.0h0M354.6 118.0h0M357.9 115.7h0M152.2 124.8h0M154.8 121.9h0M160.6 123.1h0M162.6 121.6h0M177.6 122.3h0M172.6 121.7h0M170.9 121.7h0M171.1 120.5h0M177.3 125.1h0M175.6 124.0h0M174.5 123.8h0M170.3 122.8h0M172.0 122.6h0M171.3 121.6h0M167.8 122.2h0M178.5 124.3h0M175.6 119.9h0M176.8 122.2h0M173.0 121.3h0M172.3 121.6h0M177.3 125.6h0M188.1 124.5h0M182.6 122.2h0M181.6 122.7h0M186.3 120.7h0M189.1 121.6h0M189.0 121.1h0M188.0 124.7h0M185.2 122.3h0M182.0 120.3h0M183.5 122.2h0M181.3 124.4h0M182.5 120.5h0M191.2 120.4h0M181.5 123.1h0M185.2 123.6h0M183.2 124.6h0M188.7 121.9h0M192.6 125.7h0M199.0 124.6h0M191.6 123.0h0M194.3 124.2h0M196.7 122.6h0M195.3 123.3h0M195.9 125.4h0M191.4 120.1h0M191.2 123.0h0M192.6 122.2h0M198.3 122.1h0M191.5 122.9h0M198.0 120.2h0M192.3 123.3h0M194.7 122.9h0M192.3 124.4h0M198.1 124.5h0M201.6 122.3h0M208.4 122.7h0M209.8 123.9h0M205.2 121.3h0M209.2 124.4h0M202.1 122.8h0M205.1 120.1h0M208.4 122.0h0M200.9 120.6h0M201.5 120.9h0M208.1 124.2h0M200.7 123.8h0M202.4 120.4h0M204.5 118.3h0M204.3 123.7h0M205.8 120.2h0M202.6 124.8h0M220.3 124.1h0M214.5 123.2h0M210.6 124.7h0M219.3 122.3h0M215.3 122.6h0M210.4 125.0h0M214.9 124.0h0M216.0 122.0h0M215.0 120.0h0M218.4 123.4h0M210.3 124.4h0M213.0 124.2h0M210.6 122.9h0M210.7 125.4h0M216.0 123.3h0M211.3 119.4h0M213.3 122.2h0M212.4 124.7h0M213.2 122.9h0M216.9 122.6h0M216.8 124.1h0M216.9 121.6h0M221.0 121.2h0M216.7 123.2h0M217.5 119.9h0M210.4 121.8h0M213.7 121.0h0M212.4 120.1h0M216.8 121.8h0M216.0 121.5h0M210.1 121.0h0M213.3 122.8h0M209.6 120.6h0M212.1 124.2h0M213.4 124.7h0M211.6 123.0h0M211.5 122.1h0M215.2 124.7h0M217.1 120.8h0M213.1 123.1h0M214.2 125.6h0M214.4 121.1h0M220.6 121.7h0M225.8 121.7h0M230.6 123.0h0M226.6 120.3h0M229.3 121.1h0M221.8 121.7h0M226.8 121.8h0M223.5 124.9h0M220.1 121.0h0M226.3 124.1h0M227.0 124.6h0M220.4 121.5h0M229.2 121.8h0M223.5 124.9h0M223.9 123.1h0M228.1 120.8h0M228.0 124.1h0M223.4 122.7h0M225.8 121.7h0M224.9 124.6h0M223.3 123.7h0M223.1 123.3h0M220.9 122.9h0M224.5 121.3h0M223.3 121.7h0M228.9 122.6h0M229.5 124.2h0M225.0 124.2h0M228.1 121.4h0M228.7 122.6h0M226.3 124.5h0M225.2 125.1h0M226.3 120.3h0M224.2 122.6h0M225.7 123.2h0M227.0 120.8h0M224.8 121.8h0M220.4 122.7h0M224.8 124.2h0M221.8 122.5h0M224.4 121.5h0M222.6 120.9h0M224.3 121.6h0M225.5 123.0h0M220.3 122.9h0M222.7 122.8h0M225.6 119.3h0M227.6 122.3h0M224.6 119.0h0M224.2 121.6h0M221.9 119.8h0M220.2 123.6h0M226.1 121.8h0M224.3 121.8h0M229.4 123.5h0M219.9 124.0h0M219.5 122.7h0M230.1 123.7h0M223.1 123.9h0M226.4 121.8h0M225.8 125.2h0M223.6 119.9h0M226.1 122.5h0M231.3 122.5h0M227.9 125.1h0M223.0 120.6h0M223.4 124.8h0M225.9 120.5h0M225.0 120.7h0M220.8 125.9h0M220.1 124.2h0M224.7 122.0h0M225.6 121.4h0M221.2 121.3h0M224.1 121.7h0M224.8 125.5h0M228.3 121.2h0M229.5 124.7h0M227.1 125.0h0M223.2 119.9h0M221.5 122.9h0M229.1 123.4h0M222.5 123.8h0M228.1 123.4h0M226.0 124.5h0M240.0 122.6h0M233.6 124.3h0M237.6 119.2h0M230.9 121.9h0M238.3 122.7h0M239.0 123.0h0M233.0 121.2h0M237.7 121.2h0M234.7 123.1h0M233.9 123.9h0M236.4 124.1h0M233.5 122.6h0M230.9 123.2h0M230.6 121.5h0M231.2 120.6h0M234.9 126.0h0M234.5 122.6h0M232.8 124.5h0M235.6 119.9h0M239.6 121.3h0M230.5 121.2h0M238.8 123.7h0M230.1 123.9h0M233.6 122.3h0M234.4 120.8h0M232.0 120.7h0M232.1 123.8h0M239.2 120.9h0M238.7 123.0h0M230.3 124.0h0M237.5 124.9h0M233.7 123.7h0M238.8 122.0h0M232.6 125.1h0M240.4 123.6h0M233.3 122.9h0M236.1 124.4h0M239.3 120.2h0M233.5 123.7h0M235.1 123.3h0M233.7 121.3h0M229.1 121.5h0M239.6 120.3h0M230.8 121.3h0M237.6 121.8h0M237.3 119.6h0M237.6 123.3h0M235.1 120.9h0M232.7 122.2h0M238.3 123.5h0M240.3 124.5h0M238.6 120.5h0M236.6 119.9h0M232.2 123.3h0M233.2 121.5h0M235.8 125.0h0M237.1 122.2h0M230.5 121.4h0M233.2 123.1h0M231.7 124.0h0M229.0 123.7h0M234.9 124.5h0M232.0 119.6h0M232.9 122.4h0M238.8 121.3h0M230.3 120.3h0M236.1 122.8h0M240.6 122.3h0M233.8 124.2h0M238.1 120.9h0M231.5 123.5h0M235.3 122.0h0M231.1 123.5h0M231.7 124.5h0M231.7 120.7h0M233.2 121.5h0M233.4 123.6h0M230.4 120.5h0M240.7 123.4h0M237.2 122.3h0M232.4 122.8h0M232.8 122.3h0M237.4 121.9h0M238.5 120.8h0M230.4 121.6h0M246.1 122.8h0M248.8 121.7h0M241.9 123.0h0M244.4 121.1h0M248.7 121.1h0M250.6 124.0h0M244.0 125.2h0M242.8 123.4h0M249.6 123.9h0M248.2 122.9h0M241.2 121.1h0M250.3 124.8h0M244.1 122.8h0M250.9 123.3h0M241.3 119.9h0M244.7 124.6h0M245.5 122.3h0M246.2 122.4h0M251.0 120.2h0M247.1 125.0h0M243.3 122.2h0M244.5 120.7h0M245.4 119.1h0M246.3 122.3h0M247.5 120.8h0M240.8 121.0h0M245.9 121.7h0M246.5 122.3h0M246.1 120.3h0M243.5 121.4h0M241.8 121.0h0M246.5 121.7h0M242.2 122.0h0M241.6 122.5h0M249.3 119.9h0M244.3 121.3h0M242.5 120.1h0M241.5 120.3h0M248.9 123.9h0M245.9 121.8h0M244.0 123.8h0M244.4 122.9h0M241.6 120.1h0M246.2 122.9h0M248.1 121.2h0M247.2 125.3h0M241.9 120.9h0M240.6 122.3h0M240.7 125.1h0M244.1 123.4h0M241.0 119.4h0M240.5 124.1h0M240.5 123.0h0M247.7 120.3h0M240.7 121.4h0M243.7 123.9h0M249.7 123.9h0M241.1 123.3h0M240.9 125.3h0M243.9 123.9h0M240.5 119.7h0M244.6 120.6h0M249.9 123.9h0M242.1 122.4h0M247.2 119.5h0M242.1 120.2h0M244.7 122.9h0M244.1 121.5h0M245.4 120.8h0M244.2 123.4h0M247.4 124.5h0M244.6 121.4h0M244.6 123.9h0M244.0 120.8h0M243.2 123.5h0M244.0 124.3h0M243.2 123.3h0M244.7 123.6h0M250.2 120.3h0M239.9 123.7h0M242.8 122.1h0M245.5 122.2h0M245.4 123.4h0M244.4 120.3h0M243.6 123.8h0M254.0 124.9h0M250.8 120.3h0M252.0 124.0h0M255.5 121.8h0M251.3 122.6h0M257.7 121.2h0M256.0 121.3h0M255.4 124.4h0M252.9 120.9h0M256.7 122.5h0M259.2 123.7h0M250.3 123.2h0M254.9 121.2h0M251.9 123.1h0M250.7 123.5h0M259.1 121.0h0M257.6 124.1h0M263.1 121.2h0M267.0 120.7h0M263.6 122.2h0M263.7 125.1h0M265.7 123.2h0M265.1 120.4h0M263.9 123.1h0M268.4 120.7h0M267.7 122.7h0M261.8 124.0h0M264.2 121.6h0M265.3 124.2h0M268.8 119.4h0M269.6 122.4h0M269.4 119.8h0M260.8 124.0h0M264.4 122.6h0M277.6 122.7h0M274.2 120.7h0M270.4 123.7h0M276.0 121.7h0M274.4 121.2h0M270.6 121.8h0M271.8 123.9h0M279.9 124.7h0M274.9 122.8h0M273.5 120.2h0M275.2 120.9h0M278.3 124.9h0M279.9 125.0h0M271.5 125.1h0M276.8 124.0h0M272.7 122.5h0M272.6 121.2h0M284.7 121.8h0M285.4 121.4h0M287.3 120.3h0M287.6 123.3h0M282.8 119.8h0M282.8 122.7h0M293.2 124.6h0M293.0 122.4h0M296.3 122.7h0M297.7 124.1h0M294.1 122.6h0M291.9 120.5h0M305.1 122.2h0M306.2 120.6h0M306.7 125.1h0M304.0 124.4h0M307.1 124.5h0M305.7 124.7h0M314.6 123.1h0M316.9 125.8h0M313.4 119.6h0M318.6 124.2h0M315.5 122.9h0M319.1 122.3h0M326.0 123.1h0M328.8 123.7h0M327.6 123.1h0M322.2 124.1h0M330.2 123.3h0M324.7 123.1h0M334.8 124.4h0M331.3 120.3h0M343.4 124.3h0M350.0 123.2h0M161.3 130.0h0M164.5 128.2h0M171.7 128.9h0M175.0 125.9h0M171.1 129.5h0M175.5 125.7h0M179.4 129.5h0M178.2 128.0h0M184.6 127.6h0M183.7 127.9h0M190.8 129.4h0M187.7 129.8h0M183.1 124.9h0M183.1 125.8h0M184.5 127.2h0M185.0 128.8h0M185.4 126.2h0M187.5 129.7h0M179.8 127.7h0M186.7 128.2h0M183.3 126.2h0M187.5 127.7h0M189.0 127.5h0M180.5 127.4h0M185.3 128.5h0M191.9 129.8h0M198.4 128.2h0M196.7 127.5h0M189.8 126.6h0M189.6 128.9h0M199.3 128.9h0M192.2 127.4h0M196.0 125.2h0M197.2 128.4h0M192.1 128.0h0M195.7 128.7h0M192.0 126.5h0M190.4 128.7h0M193.6 125.7h0M199.4 126.2h0M195.7 127.5h0M199.4 123.8h0M204.6 126.9h0M202.3 129.1h0M204.8 128.7h0M200.9 129.4h0M209.4 129.7h0M204.8 126.4h0M205.2 127.0h0M209.3 128.8h0M205.1 128.9h0M204.2 129.4h0M202.1 130.4h0M206.8 129.4h0M201.5 128.4h0M206.8 127.3h0M206.4 128.0h0M203.4 129.7h0M202.0 129.6h0M212.9 126.6h0M209.9 127.6h0M212.3 125.7h0M216.7 126.0h0M218.9 129.7h0M213.8 127.9h0M215.1 123.5h0M212.0 126.2h0M215.5 127.2h0M216.3 129.8h0M213.8 126.8h0M211.1 129.5h0M213.8 129.5h0M214.4 128.2h0M219.7 128.9h0M213.8 126.8h0M214.4 130.6h0M222.5 129.9h0M227.1 128.8h0M227.5 126.1h0M229.3 128.6h0M223.9 128.6h0M228.2 127.7h0M226.2 126.4h0M225.6 128.2h0M230.4 127.7h0M222.4 126.0h0M228.0 127.1h0M219.7 127.2h0M224.4 127.1h0M230.0 123.5h0M221.4 128.8h0M228.0 126.5h0M230.0 130.4h0M237.7 129.1h0M235.3 127.4h0M237.4 128.1h0M237.1 127.2h0M234.5 125.8h0M234.6 127.8h0M234.8 126.2h0M239.8 131.0h0M231.0 127.7h0M234.7 127.0h0M237.6 124.6h0M234.3 125.7h0M234.8 125.1h0M235.9 129.1h0M239.9 127.9h0M232.6 129.1h0M234.1 126.9h0M236.1 124.8h0M235.4 128.7h0M240.0 128.9h0M233.3 129.9h0M233.2 129.7h0M232.8 126.6h0M231.2 126.9h0M239.1 130.5h0M230.8 127.4h0M237.7 126.8h0M232.0 127.6h0M236.9 127.6h0M231.8 125.7h0M233.5 125.5h0M237.6 126.8h0M238.0 130.3h0M239.8 128.2h0M237.4 130.3h0M239.1 127.8h0M229.7 126.4h0M237.4 125.8h0M237.1 127.2h0M238.8 127.2h0M237.6 129.8h0M236.7 127.3h0M244.8 129.0h0M247.2 126.9h0M246.7 127.5h0M242.5 129.2h0M245.5 126.8h0M247.6 127.9h0M241.9 125.4h0M249.8 128.8h0M249.0 125.2h0M249.6 127.3h0M244.2 126.4h0M249.0 128.4h0M243.4 124.4h0M249.1 126.6h0M247.8 126.3h0M242.2 126.2h0M248.0 126.4h0M248.8 126.9h0M240.7 129.5h0M240.0 129.6h0M242.0 129.9h0M250.2 127.0h0M248.0 128.1h0M249.4 128.2h0M248.3 127.8h0M240.3 129.2h0M246.2 128.8h0M247.6 125.5h0M249.2 128.7h0M241.4 130.6h0M241.4 128.0h0M246.2 128.4h0M242.1 126.9h0M249.0 125.8h0M245.7 129.1h0M247.1 130.0h0M241.9 126.3h0M246.6 128.5h0M248.5 124.9h0M243.2 126.5h0M245.7 125.7h0M241.6 130.5h0M253.6 126.4h0M259.7 129.3h0M258.6 126.6h0M256.7 125.1h0M252.2 128.3h0M254.7 127.9h0M268.5 127.2h0M263.8 126.4h0M262.4 128.3h0M266.1 129.6h0M260.4 129.0h0M266.9 128.8h0M272.3 130.3h0M272.3 124.9h0M274.3 130.4h0M277.9 126.6h0M273.9 125.9h0M270.4 127.7h0M288.8 126.2h0M297.3 127.9h0M307.2 130.1h0M174.4 134.2h0M178.8 129.8h0M186.8 131.0h0M189.1 132.8h0M184.6 130.3h0M186.4 130.6h0M181.3 130.9h0M182.2 131.8h0M197.5 131.2h0M189.8 132.3h0M191.7 131.0h0M193.7 132.6h0M194.3 134.5h0M200.1 129.9h0M192.2 131.6h0M195.4 133.7h0M194.6 134.2h0M192.4 134.7h0M189.1 133.4h0M194.6 130.6h0M199.4 130.3h0M194.4 129.6h0M194.2 134.8h0M198.2 135.4h0M197.3 133.8h0M204.4 129.6h0M202.8 134.1h0M201.0 132.6h0M202.2 133.3h0M204.2 131.9h0M206.1 131.2h0M204.1 130.6h0M209.9 131.5h0M203.4 130.1h0M204.4 131.9h0M203.0 130.4h0M203.4 132.7h0M206.4 133.5h0M205.5 131.3h0M206.9 130.2h0M207.0 131.0h0M209.2 132.0h0M215.5 133.8h0M220.1 133.1h0M212.7 130.2h0M218.6 134.0h0M219.3 132.9h0M216.6 130.6h0M214.2 133.3h0M216.7 134.8h0M221.0 132.3h0M217.7 130.6h0M215.6 131.2h0M210.0 134.3h0M218.5 131.2h0M214.0 130.5h0M211.9 133.1h0M218.7 130.4h0M217.2 133.2h0M219.2 132.6h0M227.5 130.9h0M222.2 132.5h0M229.1 133.8h0M224.1 130.8h0M228.7 133.9h0M225.2 132.2h0M227.5 134.6h0M228.8 132.2h0M222.3 135.3h0M227.2 132.2h0M227.9 133.8h0M226.8 135.0h0M219.2 130.9h0M228.7 133.8h0M227.0 132.6h0M229.3 134.3h0M233.4 134.5h0M236.4 131.0h0M236.4 131.8h0M230.7 130.7h0M232.8 133.9h0M230.7 131.8h0M235.6 131.7h0M239.4 131.3h0M232.4 130.8h0M238.4 131.3h0M234.4 129.5h0M231.3 132.2h0M236.6 132.0h0M234.8 131.7h0M232.1 132.7h0M241.0 132.6h0M238.7 132.7h0M244.5 134.4h0M249.0 133.4h0M245.8 133.4h0M242.5 133.0h0M248.4 132.8h0M240.7 131.0h0M241.5 132.5h0M248.2 132.0h0M247.9 134.6h0M244.4 132.9h0M243.8 135.1h0M248.0 130.1h0M240.5 133.2h0M240.8 132.3h0M244.2 133.1h0M244.6 133.8h0M241.0 131.1h0M255.9 132.9h0M257.0 130.6h0M256.0 135.9h0M249.7 135.3h0M260.4 131.6h0M253.9 132.5h0M260.9 132.7h0M259.9 133.6h0M260.6 135.2h0M267.4 132.1h0M265.5 133.7h0M261.8 133.2h0M271.9 134.7h0M277.1 132.6h0M274.7 131.4h0M276.1 129.9h0M272.6 132.6h0M270.2 135.2h0M287.0 133.9h0M282.5 133.7h0M294.8 135.3h0M173.1 136.9h0M173.9 137.7h0M181.1 138.5h0M190.8 135.0h0M196.9 139.6h0M194.4 136.8h0M191.7 138.1h0M195.2 137.1h0M193.5 138.3h0M206.4 138.0h0M202.7 138.5h0M205.9 135.4h0M199.4 135.6h0M201.1 136.4h0M204.3 139.1h0M208.0 137.1h0M205.0 138.0h0M206.9 138.9h0M209.4 139.0h0M204.9 135.7h0M207.2 138.4h0M207.1 139.2h0M204.3 136.5h0M208.0 137.9h0M206.7 138.2h0M204.8 138.4h0M210.8 138.4h0M215.8 135.3h0M215.3 138.4h0M212.3 138.9h0M214.2 137.4h0M219.4 138.9h0M210.0 135.6h0M215.2 136.1h0M211.8 136.4h0M214.2 140.3h0M217.3 137.5h0M214.0 140.0h0M213.3 136.0h0M218.4 137.9h0M209.8 135.1h0M216.1 140.4h0M215.6 138.0h0M221.6 136.9h0M219.7 138.2h0M223.2 139.2h0M224.1 138.4h0M221.8 137.9h0M228.7 138.4h0M222.3 135.5h0M229.4 138.4h0M222.6 139.4h0M228.5 135.1h0M226.9 138.2h0M223.2 138.5h0M226.9 135.8h0M228.2 139.5h0M223.1 134.6h0M222.5 135.9h0M223.9 139.4h0M236.5 139.4h0M236.4 136.2h0M236.9 136.9h0M238.1 136.4h0M238.0 136.2h0M233.3 137.8h0M242.5 137.9h0M247.7 136.3h0M245.2 137.2h0M250.5 137.4h0M247.5 139.3h0M242.3 136.5h0M259.7 136.4h0M255.6 135.5h0M260.9 135.0h0M278.9 134.6h0M271.8 137.4h0M279.9 135.8h0M190.0 139.6h0M185.5 143.2h0M195.6 143.7h0M194.2 143.9h0M208.9 140.3h0M204.5 142.1h0M206.1 142.3h0M201.2 140.3h0M201.4 143.3h0M209.1 140.9h0M209.4 139.8h0M205.6 141.3h0M209.1 144.6h0M200.3 143.2h0M209.9 140.6h0M205.0 140.2h0M209.2 139.6h0M204.7 144.7h0M205.7 145.0h0M206.2 143.5h0M202.9 139.7h0M218.3 143.4h0M218.3 140.3h0M216.6 140.2h0M213.9 141.2h0M218.3 140.3h0M213.7 140.6h0M218.2 145.5h0M212.7 141.2h0M219.3 140.9h0M216.0 142.4h0M213.0 140.7h0M213.6 140.6h0M217.9 144.9h0M218.4 141.9h0M217.4 144.3h0M220.0 142.3h0M212.8 144.7h0M220.5 141.1h0M221.9 141.0h0M222.8 143.1h0M226.8 141.6h0M229.7 142.3h0M222.1 143.1h0M229.3 143.0h0M220.4 142.2h0M225.4 143.8h0M226.6 142.7h0M220.7 142.7h0M228.1 140.7h0M223.5 144.2h0M225.1 143.5h0M220.9 142.1h0M229.2 143.8h0M221.1 143.1h0M229.6 140.5h0M231.3 141.4h0M240.8 142.1h0M231.2 140.9h0M235.6 143.5h0M235.4 142.0h0M244.3 143.2h0M241.9 144.5h0M263.5 141.8h0M182.0 145.4h0M181.6 148.5h0M198.8 147.5h0M195.7 150.3h0M207.6 147.8h0M202.9 146.8h0M204.0 147.9h0M204.8 145.2h0M198.8 145.7h0M202.3 146.0h0M216.2 149.8h0M216.8 148.3h0M212.9 147.6h0M220.2 147.1h0M219.5 147.8h0M213.6 147.7h0M218.2 148.3h0M218.9 146.8h0M209.4 149.5h0M212.9 150.0h0M214.9 147.2h0M216.9 146.9h0M210.7 145.8h0M220.4 144.3h0M215.8 149.2h0M213.4 146.2h0M211.4 146.6h0M227.7 147.9h0M226.8 145.0h0M230.9 149.1h0M228.3 148.2h0M225.2 148.1h0M220.1 150.3h0M213.9 155.5h0M221.6 153.9h0M200.0 73.0h0M202.0 72.4h0M192.8 81.2h0M338.5 101.0h0M379.0 96.3h0" stroke="#111" stroke-width="1.6" stroke-linecap="round" fill="none"/>
<path d="M44.6 95.0H366.9M44.6 139.5H366.9" stroke="#666" stroke-width="1.1" stroke-dasharray="2.8 1.9" fill="none"/>
<path d="M44.6 117.4H366.9" stroke="#555" stroke-width="1.1" fill="none"/>
<path d="M44.6 126.0L366.9 110.0" stroke="#f03030" stroke-width="1.1" fill="none"/>
<path d="M44.6 12V214M39.8 206.5H366.9M39.8 19.5H44.6M39.8 66.2H44.6M39.8 113H44.6M39.8 159.8H44.6M125.2 206.5V211.6M205.8 206.5V211.6M286.3 206.5V211.6M366.9 206.5V211.6" stroke="#8a8a8a" stroke-width="1.2" fill="none"/>
<text x="35.2" y="23.6" class="t" text-anchor="end">100</text>
<text x="35.2" y="70.4" class="t" text-anchor="end">50</text>
<text x="35.2" y="117.2" class="t" text-anchor="end">0</text>
<text x="35.2" y="163.9" class="t" text-anchor="end">-50</text>
<text x="35.2" y="210.7" class="t" text-anchor="end">-100</text>
<text x="44.6" y="224.9" class="t" text-anchor="middle">0</text>
<text x="125.2" y="224.9" class="t" text-anchor="middle">50</text>
<text x="205.8" y="224.9" class="t" text-anchor="middle">100</text>
<text x="286.3" y="224.9" class="t" text-anchor="middle">150</text>
<text x="366.9" y="224.9" class="t" text-anchor="middle">200</text>
<text x="205.8" y="241.5" class="al" text-anchor="middle">Average (mmHg)</text>
<text transform="translate(10.6,113.9) rotate(-90)" class="al yl" text-anchor="middle" xml:space="preserve">Difference;  VCM - Intra-arterial (mmHg)</text>
<text x="205.8" y="10.8" class="ti" text-anchor="middle">Systolic blood pressure</text>
<path d="M195 24.2H212.5" stroke="#555" stroke-width="1.1"/>
<path d="M195 36.4H212.5" stroke="#666" stroke-width="1.1" stroke-dasharray="2.6 2"/>
<path d="M195 47.9H212.5" stroke="#f06060" stroke-width="1.3"/>
<text x="220.9" y="27.8" class="lg">Mean bias</text>
<text x="220.9" y="39.3" class="lg">Limits of agreement</text>
<text x="220.9" y="51.5" class="lg">Correlation between bias and mean</text>
<text x="223.6" y="64" class="lg">r<tspan dy="-4" font-size="7.5">2</tspan><tspan dy="4" dx="-0.6"> : 0.02 (95% CI 0.01-0.03)</tspan></text>
</g>
<g transform="translate(408.2,0)">
<path d="M149.9 85.1h0M149.9 90.0h0M163.5 85.6h0M172.6 88.1h0M182.9 90.7h0M139.9 91.4h0M146.7 91.4h0M149.3 94.1h0M156.9 89.7h0M153.3 92.9h0M156.6 93.8h0M150.5 94.3h0M156.1 93.3h0M146.8 92.3h0M151.4 94.8h0M150.9 91.0h0M152.2 91.9h0M149.6 92.5h0M150.3 91.3h0M150.8 93.0h0M146.1 91.6h0M148.1 93.1h0M156.2 90.0h0M148.0 90.4h0M146.6 94.5h0M160.7 91.0h0M165.9 94.5h0M164.8 91.2h0M165.7 94.4h0M161.3 94.5h0M159.1 93.8h0M155.4 89.7h0M161.8 93.5h0M163.9 92.7h0M164.4 92.5h0M157.7 94.4h0M163.4 91.9h0M161.3 92.3h0M158.3 90.8h0M165.4 92.8h0M158.9 93.8h0M167.5 93.7h0M158.5 94.3h0M172.7 90.4h0M174.8 92.7h0M169.8 93.3h0M171.9 92.4h0M167.9 95.0h0M166.9 95.7h0M168.8 94.4h0M174.0 89.6h0M176.4 91.4h0M170.7 90.0h0M170.7 92.8h0M176.3 92.3h0M173.2 93.5h0M170.8 90.9h0M176.1 93.8h0M172.0 91.3h0M173.0 91.8h0M167.3 92.3h0M169.9 91.3h0M167.0 91.6h0M167.9 93.2h0M169.4 95.3h0M176.4 92.2h0M170.0 90.5h0M170.3 93.5h0M167.7 91.9h0M169.6 91.4h0M169.6 92.1h0M175.7 90.3h0M173.0 92.9h0M176.3 94.3h0M175.8 91.6h0M171.0 92.2h0M173.9 94.6h0M166.5 91.9h0M174.0 94.1h0M168.9 93.7h0M170.3 91.6h0M174.4 92.6h0M166.7 91.0h0M168.5 94.4h0M173.2 92.2h0M174.9 90.2h0M168.8 90.8h0M176.2 90.9h0M169.5 95.1h0M170.7 92.8h0M176.6 93.5h0M169.7 92.6h0M169.6 90.9h0M183.0 91.1h0M181.0 92.3h0M181.6 91.5h0M176.6 90.4h0M187.3 93.0h0M186.0 90.6h0M182.9 95.1h0M176.9 92.2h0M184.3 90.4h0M179.7 91.0h0M178.3 93.1h0M177.2 93.7h0M184.2 94.3h0M184.0 90.6h0M180.1 92.7h0M185.9 92.6h0M184.0 94.0h0M184.0 90.2h0M189.0 94.2h0M190.8 92.0h0M121.3 95.5h0M123.2 97.4h0M117.5 96.9h0M121.9 96.4h0M125.6 97.1h0M118.7 97.6h0M135.0 96.7h0M134.6 100.6h0M128.3 95.9h0M129.9 99.2h0M134.2 97.6h0M133.7 100.3h0M131.0 93.9h0M135.8 96.9h0M129.8 96.4h0M138.1 96.9h0M130.2 96.2h0M127.9 97.1h0M127.9 94.3h0M131.4 98.5h0M128.5 97.2h0M134.1 95.6h0M134.0 96.8h0M130.1 99.6h0M138.2 98.4h0M141.4 97.9h0M142.1 96.5h0M143.7 97.9h0M141.4 99.3h0M138.2 98.2h0M139.3 99.3h0M136.3 98.2h0M137.9 99.6h0M137.8 95.7h0M144.5 96.8h0M137.4 96.9h0M140.7 98.2h0M142.9 99.3h0M141.4 99.2h0M141.0 99.8h0M137.5 99.3h0M139.0 99.7h0M155.5 99.5h0M149.5 96.1h0M157.2 96.2h0M148.4 99.3h0M150.0 96.2h0M150.7 99.0h0M155.2 95.6h0M146.8 97.6h0M157.4 98.9h0M157.3 94.6h0M147.8 96.6h0M153.6 96.9h0M149.9 94.9h0M156.9 98.4h0M150.4 96.5h0M156.7 96.9h0M151.3 97.0h0M154.1 99.9h0M159.4 100.4h0M163.3 96.1h0M160.7 98.0h0M160.7 98.7h0M163.7 100.2h0M167.5 95.5h0M165.9 97.1h0M157.4 97.8h0M162.8 96.0h0M165.4 97.1h0M160.5 98.9h0M163.1 94.9h0M161.0 97.8h0M162.4 98.7h0M162.5 98.1h0M165.5 98.8h0M157.1 97.4h0M160.5 96.5h0M165.4 98.6h0M165.6 96.8h0M166.8 97.5h0M167.2 96.3h0M175.2 95.6h0M171.9 96.8h0M176.6 97.0h0M172.3 96.4h0M173.6 100.0h0M169.1 99.8h0M169.8 97.7h0M175.7 97.1h0M175.7 97.9h0M171.4 96.0h0M168.2 97.0h0M166.3 98.5h0M175.1 98.2h0M169.5 98.7h0M186.0 98.2h0M177.8 99.3h0M178.0 95.3h0M185.0 99.8h0M184.9 97.1h0M183.5 94.9h0M177.5 97.9h0M176.1 99.5h0M185.4 99.7h0M177.2 96.4h0M178.1 98.5h0M183.8 99.6h0M180.3 96.3h0M179.8 97.3h0M182.5 96.0h0M184.3 96.5h0M178.9 98.9h0M184.7 98.1h0M190.7 99.4h0M188.6 95.3h0M197.8 98.4h0M189.0 96.0h0M194.1 97.5h0M191.9 96.6h0M113.1 103.3h0M114.9 101.4h0M123.3 104.4h0M121.2 102.7h0M126.9 103.2h0M122.7 100.6h0M126.7 101.4h0M122.2 104.7h0M121.7 103.3h0M127.3 100.2h0M124.4 104.9h0M121.4 101.1h0M123.1 101.9h0M124.3 103.6h0M126.4 103.0h0M125.1 103.0h0M126.1 104.3h0M120.1 101.4h0M121.3 104.7h0M119.7 100.5h0M121.8 102.8h0M124.9 102.1h0M120.8 102.5h0M124.1 103.1h0M120.9 101.2h0M126.1 100.2h0M124.1 100.9h0M123.6 99.5h0M124.3 102.1h0M118.1 102.1h0M126.2 103.5h0M124.4 102.1h0M124.7 100.8h0M123.3 100.2h0M124.0 102.8h0M122.5 102.4h0M117.5 102.0h0M122.8 103.4h0M120.6 105.0h0M125.3 100.1h0M124.5 103.2h0M127.1 102.0h0M124.0 104.0h0M123.6 100.2h0M125.3 101.2h0M122.9 102.7h0M119.9 101.9h0M122.7 99.8h0M122.3 103.8h0M119.6 103.4h0M118.1 102.5h0M122.5 102.0h0M132.3 105.0h0M128.1 100.9h0M129.7 105.9h0M133.6 103.1h0M136.9 101.3h0M135.4 102.4h0M128.0 105.2h0M134.2 104.3h0M131.6 100.7h0M135.1 102.4h0M135.3 103.1h0M130.6 100.9h0M135.8 101.8h0M126.6 99.4h0M127.5 103.3h0M132.6 103.2h0M127.7 104.3h0M129.3 101.5h0M128.0 99.3h0M131.3 103.8h0M130.0 102.9h0M129.6 105.5h0M134.2 102.0h0M135.9 105.2h0M133.5 102.5h0M134.4 103.0h0M131.3 104.7h0M130.2 99.6h0M131.5 104.1h0M135.8 102.2h0M134.2 103.2h0M128.4 102.7h0M131.9 100.9h0M130.2 102.2h0M135.2 101.8h0M131.6 103.1h0M130.5 102.1h0M131.1 101.3h0M133.0 100.6h0M128.4 104.0h0M133.9 102.4h0M134.3 100.5h0M128.7 104.1h0M129.7 103.6h0M126.8 101.1h0M136.5 103.7h0M133.1 104.2h0M128.5 101.0h0M129.8 103.0h0M136.2 103.2h0M141.7 104.5h0M144.1 101.8h0M146.1 101.9h0M144.9 101.1h0M146.4 101.7h0M139.4 105.0h0M142.3 101.2h0M139.2 106.2h0M145.0 103.3h0M137.8 103.6h0M140.2 104.5h0M141.0 103.6h0M139.2 100.1h0M144.6 102.6h0M145.5 102.0h0M138.0 104.9h0M139.6 101.4h0M138.2 104.1h0M137.5 104.1h0M140.9 102.2h0M136.4 102.5h0M140.6 103.9h0M145.1 102.8h0M144.4 102.4h0M147.6 102.5h0M140.3 104.4h0M146.3 101.8h0M138.0 99.6h0M143.7 103.8h0M145.8 105.8h0M136.1 102.4h0M143.9 103.5h0M140.3 100.1h0M138.9 105.4h0M143.3 101.1h0M144.9 104.4h0M140.6 101.3h0M139.5 101.8h0M142.9 102.8h0M146.7 104.0h0M142.1 104.2h0M136.9 100.5h0M138.8 103.5h0M137.6 102.4h0M137.4 103.1h0M138.5 101.6h0M139.8 102.8h0M139.1 105.2h0M142.9 102.5h0M144.9 100.2h0M154.8 101.5h0M155.4 102.0h0M147.4 100.9h0M152.1 103.4h0M148.3 102.1h0M155.7 101.2h0M158.8 104.4h0M161.8 104.1h0M176.4 102.1h0M187.4 100.7h0M182.1 101.3h0M185.6 102.7h0M183.9 104.0h0M186.6 101.6h0M187.9 102.4h0M190.4 100.0h0M211.1 102.7h0M115.1 109.1h0M110.5 109.4h0M115.2 107.2h0M108.4 109.7h0M109.9 107.7h0M115.8 109.7h0M119.6 107.0h0M122.4 105.6h0M122.8 108.0h0M121.9 109.5h0M116.4 109.6h0M120.0 105.9h0M125.6 110.2h0M127.0 107.7h0M126.1 107.0h0M122.5 104.9h0M124.2 108.2h0M120.7 105.3h0M122.5 105.4h0M119.8 108.5h0M125.3 105.3h0M123.5 105.1h0M119.1 109.9h0M118.7 108.0h0M119.1 109.4h0M117.2 107.2h0M118.2 108.6h0M122.1 108.3h0M120.9 106.3h0M121.5 106.6h0M123.8 107.7h0M119.7 109.7h0M126.4 107.8h0M121.7 108.3h0M118.3 107.3h0M122.0 106.4h0M122.0 106.4h0M121.7 105.5h0M124.4 107.5h0M124.3 109.3h0M117.7 109.6h0M128.4 105.7h0M127.2 108.2h0M120.3 105.8h0M120.5 109.8h0M118.8 107.3h0M120.5 106.8h0M124.8 105.5h0M123.1 106.2h0M123.5 108.8h0M120.6 108.6h0M127.7 107.5h0M125.7 105.6h0M125.1 105.2h0M122.5 108.4h0M119.3 105.4h0M117.4 107.2h0M122.6 105.7h0M121.4 109.2h0M120.3 107.4h0M124.5 110.7h0M122.4 108.7h0M120.2 108.7h0M120.6 105.9h0M120.6 109.1h0M120.9 107.0h0M123.2 105.0h0M123.2 105.1h0M120.5 104.5h0M117.8 106.8h0M124.2 106.3h0M118.8 105.5h0M125.5 106.5h0M124.8 108.1h0M121.7 108.3h0M122.9 105.7h0M118.1 104.2h0M127.2 107.0h0M121.1 111.0h0M121.4 107.5h0M120.4 110.7h0M126.5 108.3h0M118.9 109.4h0M123.4 107.5h0M122.4 106.1h0M118.4 107.3h0M119.5 106.1h0M123.9 106.8h0M117.9 105.2h0M124.8 106.3h0M118.6 109.1h0M127.5 108.4h0M122.8 105.8h0M117.2 106.3h0M118.7 107.8h0M122.2 108.4h0M122.5 105.7h0M116.5 108.3h0M117.4 108.9h0M122.1 105.1h0M119.2 108.1h0M125.0 106.9h0M120.3 108.8h0M120.4 107.0h0M120.5 107.5h0M126.2 106.6h0M123.6 109.1h0M123.2 106.8h0M117.4 106.3h0M120.1 108.8h0M120.6 109.4h0M124.7 107.5h0M124.8 105.6h0M124.2 109.0h0M119.6 108.1h0M122.3 110.1h0M136.6 105.9h0M128.8 107.9h0M132.2 109.8h0M136.7 107.9h0M131.3 109.3h0M125.8 105.8h0M137.4 104.9h0M135.2 104.9h0M134.2 105.8h0M132.4 105.0h0M132.2 107.9h0M132.2 106.7h0M129.9 105.5h0M135.3 109.3h0M135.9 108.9h0M131.5 109.3h0M132.9 106.0h0M128.3 108.0h0M129.7 107.2h0M129.8 108.0h0M137.1 105.2h0M131.6 105.8h0M135.1 104.5h0M128.3 105.9h0M130.7 109.7h0M135.2 108.0h0M130.3 108.6h0M129.0 107.8h0M130.4 105.3h0M128.6 108.5h0M129.1 104.4h0M126.4 106.5h0M132.8 106.1h0M133.7 107.8h0M126.2 108.6h0M137.2 108.9h0M134.7 108.6h0M131.1 109.0h0M129.7 105.7h0M130.9 107.3h0M133.3 108.0h0M132.4 106.1h0M132.0 105.2h0M128.6 107.1h0M133.1 108.8h0M129.1 105.9h0M129.0 108.9h0M137.4 106.9h0M136.8 106.4h0M135.6 105.3h0M131.4 105.2h0M132.8 107.3h0M133.7 105.9h0M136.1 105.8h0M131.5 107.5h0M134.8 109.6h0M136.0 105.1h0M130.9 105.8h0M129.9 108.3h0M128.2 107.2h0M134.8 107.4h0M133.8 108.0h0M133.7 106.9h0M127.4 108.4h0M136.3 106.8h0M132.1 106.2h0M133.5 109.3h0M136.0 108.3h0M133.0 107.7h0M128.6 110.2h0M129.4 107.8h0M135.6 106.2h0M132.3 108.4h0M138.0 109.7h0M133.7 107.3h0M137.1 108.1h0M130.9 106.6h0M135.7 107.1h0M127.4 106.6h0M128.0 106.1h0M133.4 106.6h0M134.2 107.3h0M129.4 105.7h0M133.5 104.3h0M132.5 107.0h0M129.1 105.6h0M126.8 106.7h0M129.0 108.1h0M135.6 105.6h0M131.2 106.1h0M130.2 106.2h0M133.7 106.7h0M126.7 108.3h0M128.4 109.7h0M127.4 109.8h0M130.6 108.7h0M133.3 109.6h0M134.5 105.8h0M135.6 107.3h0M136.3 107.8h0M134.9 107.3h0M131.0 106.3h0M132.1 109.5h0M133.2 107.7h0M132.2 108.5h0M136.5 106.5h0M131.9 107.8h0M130.1 110.1h0M131.7 107.6h0M131.1 109.7h0M138.8 105.2h0M137.1 109.4h0M146.2 108.7h0M144.8 108.1h0M144.6 105.9h0M142.8 106.5h0M138.4 106.5h0M146.3 109.2h0M143.9 109.8h0M138.1 107.9h0M143.0 108.7h0M144.8 106.3h0M138.5 107.4h0M139.6 108.6h0M142.5 107.1h0M138.8 107.2h0M136.9 107.9h0M137.8 109.0h0M144.3 105.6h0M142.5 105.9h0M138.9 107.0h0M145.3 107.0h0M145.8 107.7h0M147.0 107.5h0M142.7 108.1h0M147.2 105.9h0M139.0 107.1h0M137.1 106.1h0M141.0 107.2h0M142.0 109.4h0M145.0 105.1h0M137.4 105.9h0M140.8 109.1h0M142.8 107.2h0M137.1 106.3h0M144.4 106.4h0M143.6 106.3h0M139.2 107.9h0M140.6 106.4h0M139.5 109.6h0M140.6 106.1h0M142.1 107.4h0M144.1 109.3h0M143.6 108.1h0M145.9 106.7h0M143.6 106.3h0M137.1 105.6h0M138.7 108.4h0M136.5 109.2h0M138.5 106.9h0M144.4 107.5h0M138.5 107.8h0M142.3 109.8h0M140.4 107.6h0M138.3 106.0h0M138.7 107.2h0M139.6 105.5h0M145.5 105.8h0M139.5 107.3h0M144.7 108.5h0M135.7 108.3h0M139.8 104.6h0M141.3 106.5h0M140.4 105.2h0M143.0 108.6h0M142.6 105.7h0M141.0 105.2h0M140.8 107.1h0M137.3 108.1h0M145.0 109.2h0M144.0 110.3h0M140.3 109.1h0M140.1 109.1h0M139.6 108.8h0M146.1 108.4h0M141.6 108.0h0M146.9 107.8h0M146.9 108.6h0M139.6 109.5h0M146.4 110.4h0M143.5 107.4h0M143.3 107.1h0M138.0 107.6h0M145.2 110.0h0M142.9 108.2h0M143.0 104.7h0M140.5 108.2h0M141.8 109.0h0M145.2 108.2h0M142.0 106.6h0M144.2 107.5h0M142.4 110.6h0M136.4 107.9h0M138.2 107.7h0M138.5 107.4h0M139.3 106.6h0M138.6 105.2h0M136.4 108.5h0M142.6 106.3h0M137.4 105.9h0M144.6 107.2h0M141.7 109.2h0M144.9 108.1h0M146.7 105.0h0M141.4 106.4h0M145.1 107.6h0M139.2 108.6h0M142.0 107.7h0M142.2 110.0h0M138.6 105.8h0M149.2 109.3h0M157.5 109.6h0M149.8 108.2h0M154.0 107.5h0M150.3 106.1h0M148.4 108.5h0M146.9 106.4h0M149.5 107.5h0M154.3 106.6h0M155.6 107.3h0M156.0 105.7h0M152.1 109.8h0M154.2 104.6h0M154.4 105.5h0M154.9 107.9h0M152.6 108.6h0M150.5 108.2h0M156.6 108.0h0M161.5 105.8h0M165.4 109.1h0M173.6 109.7h0M175.4 108.1h0M186.9 108.3h0M200.5 107.3h0M110.5 111.1h0M108.7 112.8h0M116.3 111.4h0M111.0 115.8h0M111.0 112.3h0M107.4 111.9h0M125.8 109.4h0M122.7 111.1h0M122.1 109.9h0M123.4 111.5h0M120.4 114.8h0M119.9 113.6h0M118.8 111.7h0M120.2 111.7h0M116.8 112.2h0M120.9 111.8h0M120.9 111.3h0M118.6 113.2h0M118.1 110.4h0M123.2 114.1h0M122.8 114.2h0M119.4 112.5h0M122.3 113.9h0M117.8 110.0h0M124.4 112.4h0M122.8 112.9h0M126.2 110.9h0M119.7 111.7h0M125.0 111.1h0M116.2 111.8h0M123.1 111.3h0M117.0 110.7h0M119.5 112.5h0M117.3 112.7h0M123.3 112.3h0M119.3 110.9h0M121.8 113.7h0M122.1 114.9h0M126.2 110.2h0M118.9 112.0h0M118.2 112.3h0M119.5 110.0h0M118.6 114.3h0M125.5 113.3h0M125.4 115.3h0M119.4 114.3h0M125.5 113.9h0M119.4 113.0h0M117.8 114.1h0M121.5 110.9h0M121.4 113.8h0M119.5 112.5h0M118.4 114.0h0M125.2 111.9h0M125.4 113.0h0M123.6 112.5h0M122.0 111.8h0M120.6 113.5h0M125.1 111.8h0M125.8 110.7h0M123.9 114.4h0M120.1 113.0h0M121.6 111.9h0M118.1 114.8h0M124.1 114.5h0M116.7 114.2h0M117.4 115.6h0M121.6 113.1h0M116.9 110.1h0M124.5 109.6h0M125.8 114.8h0M118.6 110.1h0M124.3 111.9h0M122.7 110.5h0M123.5 110.9h0M124.3 110.5h0M127.4 110.0h0M120.2 112.8h0M121.7 112.1h0M125.9 115.4h0M121.8 113.6h0M122.1 110.7h0M120.8 110.6h0M117.7 110.4h0M124.2 115.8h0M124.3 114.8h0M121.4 113.5h0M122.7 111.5h0M120.5 111.7h0M118.9 113.4h0M123.6 111.6h0M127.6 112.2h0M120.0 110.6h0M121.6 110.1h0M126.9 111.2h0M123.0 112.6h0M123.8 115.7h0M126.5 109.8h0M124.6 114.2h0M122.1 111.5h0M118.7 110.0h0M124.6 113.4h0M126.4 112.5h0M120.6 111.0h0M126.7 109.7h0M121.5 113.6h0M120.5 111.6h0M122.4 113.9h0M126.4 110.2h0M119.2 115.7h0M123.0 114.8h0M125.6 112.9h0M118.9 109.4h0M123.6 115.1h0M124.3 115.0h0M121.6 113.6h0M129.6 112.1h0M127.0 114.7h0M133.4 111.7h0M135.9 109.9h0M131.8 110.8h0M129.6 115.2h0M127.7 114.3h0M131.5 114.3h0M137.3 111.1h0M131.2 114.9h0M131.3 114.3h0M127.6 112.2h0M135.8 110.7h0M132.2 111.5h0M131.2 112.5h0M133.3 109.4h0M130.3 115.6h0M136.3 114.2h0M134.6 110.8h0M128.4 112.7h0M130.7 115.3h0M132.4 114.5h0M127.7 112.0h0M135.4 113.1h0M127.9 110.0h0M135.2 113.2h0M131.7 114.3h0M134.4 111.8h0M131.6 112.6h0M135.8 113.4h0M127.3 114.3h0M130.6 112.0h0M131.4 110.2h0M131.0 113.4h0M133.1 112.3h0M129.0 115.0h0M135.9 114.2h0M135.6 112.3h0M129.2 113.4h0M127.4 114.2h0M134.9 110.9h0M135.6 112.6h0M133.7 110.5h0M127.3 113.3h0M128.4 109.4h0M131.4 111.6h0M135.2 111.4h0M128.7 111.5h0M133.7 112.3h0M128.6 112.3h0M134.4 112.1h0M131.7 110.7h0M137.4 110.8h0M137.3 111.3h0M135.0 115.0h0M133.3 113.7h0M130.2 112.0h0M137.2 113.4h0M131.9 112.1h0M132.5 113.5h0M133.5 113.6h0M136.0 110.7h0M127.4 113.0h0M137.4 111.6h0M134.3 113.4h0M131.4 111.9h0M129.8 110.5h0M134.0 111.8h0M128.8 113.3h0M127.1 111.0h0M135.4 111.3h0M133.7 112.7h0M132.6 112.8h0M135.4 109.9h0M130.6 114.1h0M128.4 113.8h0M132.1 111.8h0M133.1 113.2h0M133.5 112.9h0M133.8 112.9h0M131.9 110.6h0M132.1 109.1h0M128.6 114.0h0M126.2 112.0h0M134.1 113.2h0M135.6 111.7h0M131.7 112.6h0M128.8 112.1h0M136.5 114.1h0M127.6 113.9h0M137.2 113.9h0M131.4 111.9h0M135.4 112.5h0M130.9 111.3h0M134.3 112.2h0M129.5 112.6h0M127.3 114.4h0M131.8 114.3h0M128.2 113.7h0M131.0 110.2h0M128.8 114.5h0M128.3 114.0h0M131.5 110.3h0M132.3 113.1h0M131.7 113.5h0M132.2 111.4h0M131.0 114.6h0M129.1 115.2h0M135.3 110.7h0M128.0 111.5h0M147.1 111.3h0M137.7 112.6h0M140.2 113.5h0M143.9 114.3h0M145.8 112.5h0M138.4 111.0h0M144.4 111.1h0M144.6 109.2h0M147.7 111.5h0M139.9 111.5h0M142.8 114.4h0M138.6 110.7h0M144.4 113.6h0M147.5 113.9h0M143.7 111.5h0M146.0 110.8h0M145.2 111.8h0M142.8 113.8h0M137.3 110.2h0M141.8 111.4h0M141.2 109.8h0M144.4 113.1h0M144.7 112.7h0M139.6 111.7h0M142.5 113.8h0M144.5 109.8h0M145.6 115.2h0M138.1 115.4h0M138.8 114.6h0M139.2 115.2h0M141.7 111.5h0M136.5 110.7h0M140.1 115.5h0M144.8 112.1h0M137.9 114.3h0M138.9 109.7h0M137.3 112.8h0M145.3 112.6h0M139.7 109.9h0M142.4 112.6h0M144.6 111.3h0M143.4 109.8h0M144.4 114.2h0M138.6 111.8h0M147.1 110.5h0M136.7 112.6h0M139.3 112.2h0M146.2 110.2h0M144.5 113.1h0M138.3 110.4h0M138.7 114.8h0M140.6 111.3h0M137.2 111.7h0M139.5 113.2h0M139.6 112.5h0M144.1 111.6h0M145.4 113.8h0M140.7 112.0h0M137.8 110.7h0M141.6 112.6h0M136.7 113.7h0M140.3 113.0h0M147.3 110.8h0M137.5 111.7h0M142.4 110.9h0M146.6 112.3h0M144.0 113.0h0M138.5 112.4h0M143.3 114.7h0M138.6 112.3h0M144.1 114.9h0M144.5 114.3h0M136.5 109.8h0M138.9 113.3h0M142.5 111.2h0M139.6 114.9h0M144.8 113.5h0M139.9 110.0h0M146.1 112.5h0M138.3 111.6h0M138.8 115.1h0M144.5 113.6h0M137.5 115.9h0M139.7 112.3h0M138.0 115.3h0M146.5 110.3h0M142.1 114.2h0M144.8 112.9h0M146.2 112.8h0M147.1 114.7h0M138.5 112.0h0M143.2 112.4h0M141.1 110.2h0M144.7 112.7h0M143.9 110.5h0M144.8 110.4h0M145.8 113.9h0M145.3 114.8h0M146.2 112.3h0M139.3 111.0h0M144.0 114.4h0M141.2 114.1h0M137.8 111.6h0M142.7 110.6h0M137.8 112.0h0M137.6 111.5h0M143.3 112.6h0M140.1 114.3h0M137.4 110.4h0M146.7 110.0h0M155.9 111.5h0M147.8 115.2h0M147.6 115.0h0M153.3 109.6h0M149.1 112.4h0M149.2 111.3h0M156.4 112.0h0M155.9 113.6h0M153.8 115.1h0M149.1 113.6h0M150.9 111.6h0M153.8 113.0h0M155.9 111.2h0M148.0 110.0h0M150.1 113.5h0M153.7 113.1h0M154.1 111.0h0M154.9 113.3h0M149.0 114.8h0M154.9 110.8h0M148.9 115.0h0M151.5 110.6h0M149.4 111.0h0M148.3 115.3h0M147.1 112.5h0M155.5 111.8h0M154.3 113.0h0M146.7 110.4h0M150.8 109.4h0M149.6 111.9h0M156.5 110.1h0M148.5 111.9h0M155.5 112.4h0M150.4 113.6h0M149.4 113.3h0M150.9 114.6h0M149.6 114.0h0M153.6 111.9h0M157.2 113.4h0M149.6 110.3h0M152.7 113.7h0M152.9 114.2h0M151.7 112.6h0M154.2 110.7h0M156.8 115.0h0M148.1 114.0h0M150.2 110.4h0M149.5 112.2h0M152.8 114.0h0M155.5 111.2h0M152.9 109.3h0M148.6 113.8h0M151.8 112.1h0M149.7 115.3h0M146.9 111.2h0M156.4 113.6h0M149.1 113.4h0M146.4 114.4h0M152.4 113.0h0M154.5 110.8h0M153.0 110.5h0M149.2 114.7h0M154.1 112.2h0M152.2 111.0h0M155.0 111.1h0M155.9 112.8h0M151.0 112.9h0M153.7 113.9h0M151.3 113.1h0M147.7 110.9h0M148.4 111.2h0M150.1 114.1h0M148.3 112.2h0M153.5 113.2h0M156.4 112.0h0M156.2 113.3h0M146.1 110.9h0M152.4 110.6h0M150.6 113.4h0M153.9 114.4h0M154.1 111.4h0M149.1 110.8h0M154.7 112.8h0M154.0 114.3h0M151.3 112.5h0M149.7 113.5h0M154.7 110.8h0M150.1 111.4h0M150.5 115.4h0M154.0 113.9h0M152.1 111.6h0M152.1 111.4h0M155.9 109.5h0M155.9 111.5h0M150.3 115.1h0M156.1 113.7h0M153.0 114.8h0M154.4 112.7h0M155.6 111.8h0M156.0 112.6h0M149.8 114.4h0M147.5 110.7h0M154.4 111.5h0M153.0 111.1h0M154.3 113.6h0M154.4 111.4h0M148.6 111.1h0M154.6 112.4h0M148.9 112.7h0M149.9 114.1h0M164.9 112.9h0M163.5 110.3h0M157.0 109.9h0M166.8 114.3h0M166.9 110.0h0M157.7 113.5h0M159.2 113.3h0M160.6 115.0h0M162.0 112.6h0M167.5 111.7h0M158.4 114.4h0M161.4 114.8h0M158.6 111.1h0M160.4 113.3h0M157.3 115.2h0M160.0 113.5h0M163.3 112.0h0M166.4 113.3h0M164.5 110.8h0M162.9 112.0h0M165.5 113.4h0M159.7 111.0h0M156.0 112.1h0M161.3 110.4h0M162.7 114.3h0M164.8 110.9h0M158.3 114.4h0M164.1 112.2h0M158.3 112.4h0M160.4 115.4h0M165.6 115.0h0M166.1 112.4h0M166.9 110.6h0M161.5 112.7h0M163.2 113.7h0M157.5 111.6h0M160.6 110.1h0M160.0 113.1h0M158.4 111.9h0M164.3 111.2h0M165.8 110.9h0M163.7 112.6h0M163.8 109.4h0M163.9 111.6h0M160.8 113.5h0M160.4 112.2h0M164.8 114.6h0M159.8 115.1h0M163.3 112.1h0M159.1 114.0h0M174.9 114.0h0M169.4 113.7h0M172.0 113.1h0M174.5 112.9h0M171.8 111.4h0M168.3 110.8h0M167.0 112.5h0M169.8 111.8h0M173.1 109.8h0M172.1 110.4h0M176.8 111.1h0M174.0 111.8h0M171.9 114.7h0M168.8 113.9h0M168.8 113.6h0M166.8 114.4h0M168.4 111.0h0M172.1 115.4h0M172.3 113.0h0M170.7 114.0h0M172.4 114.3h0M169.9 112.6h0M172.7 112.3h0M171.3 111.8h0M171.7 113.4h0M175.0 111.9h0M175.8 113.6h0M169.2 112.8h0M172.9 111.3h0M169.8 111.4h0M177.0 111.6h0M172.1 111.9h0M170.6 112.6h0M167.0 110.3h0M178.2 110.4h0M173.6 113.5h0M172.5 113.0h0M173.6 111.9h0M171.1 110.3h0M172.5 112.8h0M167.8 112.8h0M168.7 110.6h0M167.5 110.8h0M171.3 111.4h0M171.6 113.4h0M175.8 111.7h0M166.9 115.5h0M169.0 114.7h0M173.0 111.0h0M175.6 112.8h0M180.3 113.0h0M184.7 113.4h0M186.5 110.1h0M178.5 114.6h0M179.1 114.2h0M176.7 110.9h0M180.3 112.1h0M175.8 111.8h0M182.8 114.3h0M184.6 114.0h0M178.6 114.3h0M183.8 113.7h0M179.7 114.0h0M185.7 111.9h0M185.5 112.4h0M185.8 111.3h0M181.2 111.4h0M182.5 112.1h0M187.7 111.3h0M196.7 110.7h0M112.5 116.9h0M113.6 119.4h0M114.3 118.3h0M112.1 118.1h0M108.7 115.8h0M111.3 116.5h0M123.1 115.9h0M125.8 119.3h0M127.1 117.2h0M126.0 115.6h0M122.3 116.1h0M117.1 118.3h0M122.9 117.1h0M122.4 118.7h0M118.1 116.6h0M118.3 115.9h0M118.1 118.2h0M116.4 119.6h0M117.7 116.6h0M125.5 115.0h0M121.8 115.2h0M124.4 118.6h0M123.9 119.3h0M121.6 114.9h0M121.7 116.5h0M118.8 116.0h0M120.4 119.8h0M118.1 120.1h0M120.1 118.2h0M123.3 119.3h0M123.7 115.4h0M123.2 117.9h0M121.3 118.5h0M119.1 117.5h0M125.5 116.0h0M123.1 117.0h0M118.0 117.2h0M118.6 115.4h0M124.5 117.7h0M125.0 116.7h0M124.2 118.9h0M121.4 118.6h0M120.9 117.3h0M117.7 117.7h0M122.9 116.0h0M115.6 118.5h0M117.5 118.4h0M118.9 115.8h0M126.5 116.8h0M119.6 117.2h0M121.5 115.3h0M123.3 114.9h0M115.5 117.8h0M120.5 115.2h0M124.6 115.1h0M126.3 115.1h0M122.5 117.6h0M118.2 115.9h0M118.8 119.1h0M117.2 115.9h0M121.3 114.8h0M123.3 117.6h0M119.9 118.6h0M123.7 117.6h0M125.2 116.2h0M123.8 119.1h0M120.7 116.8h0M117.7 118.2h0M120.1 117.1h0M122.5 117.5h0M119.3 118.1h0M121.1 115.8h0M124.8 119.1h0M118.5 119.3h0M120.0 117.2h0M121.6 116.7h0M123.4 119.7h0M123.9 116.8h0M119.0 118.9h0M118.4 115.9h0M118.0 117.0h0M118.7 119.2h0M127.7 114.6h0M124.5 116.7h0M124.3 118.8h0M125.4 119.0h0M118.0 119.5h0M123.1 119.0h0M119.8 119.2h0M120.8 117.1h0M121.4 114.9h0M121.5 116.8h0M122.2 116.0h0M121.6 116.4h0M123.4 116.0h0M125.0 115.9h0M119.5 119.0h0M120.7 117.1h0M125.8 114.8h0M122.7 116.1h0M120.2 116.8h0M118.1 115.6h0M123.4 116.6h0M118.6 114.5h0M127.2 119.5h0M124.3 119.4h0M120.8 117.0h0M126.0 116.6h0M123.6 118.6h0M118.6 115.6h0M121.4 120.0h0M124.0 116.2h0M117.1 119.8h0M120.4 115.5h0M121.0 116.3h0M119.0 118.4h0M136.2 119.7h0M137.2 119.6h0M135.1 115.5h0M131.6 116.8h0M133.1 116.9h0M136.0 118.7h0M135.7 117.3h0M132.3 117.8h0M136.3 117.6h0M136.2 116.6h0M134.8 115.9h0M134.5 117.4h0M136.5 119.4h0M127.4 117.6h0M133.0 117.1h0M129.3 119.6h0M128.6 114.8h0M130.0 119.0h0M130.2 116.5h0M130.8 120.5h0M129.2 119.5h0M130.0 116.4h0M129.3 117.8h0M133.7 118.1h0M130.7 117.5h0M129.7 117.7h0M132.8 120.3h0M134.6 120.1h0M129.6 116.1h0M131.1 116.5h0M134.7 116.0h0M127.5 117.2h0M131.9 119.6h0M133.1 118.9h0M133.0 117.9h0M135.7 116.1h0M133.8 117.7h0M129.9 117.1h0M128.5 114.1h0M129.9 118.1h0M130.6 117.8h0M127.7 116.3h0M132.5 114.8h0M128.3 118.1h0M130.1 116.8h0M135.4 117.2h0M130.4 118.0h0M132.2 117.6h0M131.8 115.3h0M130.5 119.6h0M136.3 118.5h0M130.3 118.4h0M130.2 120.1h0M132.0 119.9h0M128.5 115.6h0M127.2 117.7h0M129.9 116.2h0M134.1 119.5h0M126.3 115.9h0M131.6 117.9h0M134.8 118.4h0M132.4 120.7h0M135.8 115.1h0M132.2 119.2h0M135.4 118.8h0M131.9 117.6h0M133.1 118.6h0M132.2 119.1h0M130.0 117.7h0M128.8 117.8h0M130.7 114.9h0M128.3 117.1h0M127.5 119.4h0M131.5 120.0h0M134.6 118.2h0M128.4 117.4h0M132.1 116.4h0M135.8 118.1h0M132.5 117.5h0M133.6 115.8h0M135.1 114.9h0M130.5 117.5h0M135.2 118.8h0M134.7 117.1h0M136.7 115.8h0M134.1 118.0h0M136.1 116.3h0M129.8 116.6h0M131.3 117.7h0M133.1 120.1h0M135.0 116.5h0M132.6 115.8h0M130.6 120.4h0M134.2 117.8h0M133.4 117.4h0M129.4 116.1h0M127.9 119.2h0M134.7 114.7h0M137.4 116.8h0M132.6 116.6h0M133.2 117.9h0M132.6 115.9h0M129.3 115.8h0M135.7 117.7h0M129.8 119.5h0M126.8 117.3h0M126.8 115.1h0M127.4 118.4h0M128.8 115.9h0M132.6 116.4h0M145.0 115.3h0M136.2 121.3h0M141.7 118.7h0M144.6 115.8h0M141.1 119.5h0M143.4 114.9h0M137.9 115.7h0M140.6 118.0h0M144.4 116.8h0M142.9 118.3h0M141.4 119.8h0M141.3 116.8h0M138.5 116.8h0M145.8 115.5h0M135.6 116.8h0M136.4 116.7h0M144.8 119.6h0M142.4 118.6h0M146.8 116.3h0M144.0 115.7h0M138.3 118.6h0M141.7 117.3h0M137.3 116.3h0M139.7 116.3h0M137.7 116.3h0M136.5 115.1h0M142.5 120.1h0M141.1 116.4h0M137.4 119.6h0M143.0 118.8h0M137.0 119.2h0M140.8 116.1h0M139.5 118.2h0M138.1 117.4h0M140.8 119.7h0M145.0 114.1h0M141.5 118.7h0M139.0 117.4h0M139.3 119.1h0M144.0 115.5h0M142.8 116.6h0M139.6 117.9h0M144.5 114.5h0M136.9 118.3h0M140.5 115.5h0M139.8 120.3h0M146.3 116.6h0M141.9 117.1h0M146.6 117.7h0M143.5 115.7h0M141.9 116.5h0M139.7 117.9h0M137.3 116.9h0M139.1 114.3h0M145.3 115.6h0M146.8 117.2h0M137.2 120.1h0M141.2 116.6h0M139.8 117.1h0M145.1 117.4h0M143.4 115.4h0M139.4 120.3h0M143.7 114.8h0M137.3 116.2h0M141.7 117.0h0M137.5 115.3h0M141.5 117.5h0M138.8 119.0h0M141.8 116.7h0M141.4 115.2h0M140.4 117.6h0M136.3 118.7h0M142.7 116.9h0M141.6 119.2h0M138.8 116.9h0M145.7 116.6h0M137.9 117.1h0M138.0 114.8h0M141.4 117.9h0M145.4 114.5h0M144.4 118.9h0M140.5 119.6h0M143.5 118.2h0M140.3 115.5h0M138.4 115.8h0M139.9 119.6h0M138.4 119.9h0M145.7 115.2h0M146.0 114.4h0M137.4 115.1h0M144.8 120.1h0M141.8 115.7h0M142.8 119.0h0M138.7 118.6h0M147.1 118.0h0M147.2 119.5h0M141.3 116.3h0M143.4 121.0h0M143.4 117.4h0M145.9 118.1h0M147.6 114.9h0M139.9 116.7h0M138.1 115.5h0M144.4 115.4h0M146.1 115.6h0M145.1 118.7h0M146.0 116.8h0M138.2 116.4h0M138.9 117.4h0M143.2 116.3h0M157.4 116.1h0M155.8 118.7h0M150.0 117.0h0M145.9 116.2h0M151.7 117.1h0M148.2 120.2h0M150.0 116.3h0M152.2 116.4h0M151.6 117.5h0M151.4 115.9h0M154.6 118.8h0M150.1 119.3h0M156.1 116.3h0M150.4 118.0h0M150.6 116.2h0M152.4 115.2h0M148.8 116.2h0M151.1 118.6h0M152.3 114.9h0M156.5 119.8h0M149.6 120.3h0M150.3 119.2h0M151.1 115.3h0M151.8 114.9h0M148.2 119.6h0M150.4 115.6h0M153.0 118.4h0M157.2 118.5h0M147.6 120.0h0M152.4 119.3h0M149.6 114.6h0M147.8 119.8h0M147.4 116.5h0M146.2 115.8h0M150.4 117.7h0M156.1 117.5h0M147.9 114.8h0M153.7 118.7h0M150.7 117.9h0M154.2 118.3h0M154.4 118.2h0M148.5 119.4h0M148.8 118.2h0M156.0 115.6h0M153.9 117.0h0M149.0 115.8h0M149.4 120.8h0M150.5 117.8h0M153.2 118.5h0M148.9 115.8h0M156.6 118.4h0M149.8 117.7h0M146.5 115.2h0M154.9 115.0h0M153.9 118.9h0M148.6 120.7h0M152.7 118.8h0M151.1 117.7h0M153.2 115.1h0M148.6 118.2h0M148.6 117.9h0M154.1 114.6h0M152.6 118.4h0M153.1 118.5h0M155.1 118.9h0M147.3 116.4h0M148.1 119.4h0M149.9 117.6h0M153.7 116.8h0M151.0 115.7h0M155.9 119.2h0M153.5 116.3h0M150.8 115.2h0M148.1 120.2h0M154.0 115.8h0M155.7 117.5h0M154.0 119.8h0M149.5 115.9h0M153.3 116.1h0M149.1 118.8h0M151.0 115.9h0M153.8 119.1h0M153.8 117.0h0M152.9 118.0h0M148.0 117.1h0M158.0 117.4h0M155.1 117.4h0M153.9 114.1h0M152.5 117.4h0M153.3 118.5h0M146.5 115.8h0M147.5 119.7h0M154.3 116.8h0M148.4 117.1h0M151.0 116.0h0M148.6 119.7h0M153.8 118.3h0M152.1 119.1h0M153.1 120.6h0M150.5 118.6h0M149.4 117.6h0M148.4 119.4h0M148.0 118.8h0M150.4 118.0h0M147.9 114.9h0M148.9 116.5h0M150.3 119.2h0M149.1 115.9h0M147.7 117.1h0M156.9 116.1h0M164.8 119.5h0M163.3 117.5h0M165.6 114.1h0M165.6 116.1h0M162.0 118.8h0M157.6 116.0h0M167.0 116.5h0M161.3 117.1h0M157.9 116.2h0M159.9 117.3h0M159.9 116.7h0M158.0 118.1h0M160.6 119.7h0M165.8 118.4h0M165.3 116.8h0M160.5 116.1h0M160.6 116.0h0M155.8 119.9h0M161.8 114.9h0M159.3 119.0h0M160.0 120.6h0M163.6 117.2h0M161.8 116.6h0M165.7 118.1h0M166.6 119.0h0M158.4 116.8h0M157.7 118.6h0M157.8 116.8h0M162.8 114.8h0M164.1 116.9h0M157.2 116.0h0M166.7 116.1h0M165.6 115.8h0M162.3 118.1h0M158.5 119.9h0M163.4 119.8h0M166.2 115.2h0M162.5 118.0h0M164.0 117.3h0M160.1 115.9h0M166.3 115.9h0M160.6 118.7h0M165.5 115.6h0M160.5 117.9h0M155.8 115.9h0M161.0 116.0h0M156.4 114.6h0M160.0 115.1h0M162.8 116.1h0M159.3 117.1h0M166.1 119.4h0M161.6 115.3h0M160.3 116.0h0M164.4 116.4h0M158.9 118.2h0M166.9 118.4h0M165.5 119.2h0M159.7 118.3h0M162.0 116.6h0M159.0 119.6h0M158.8 118.9h0M157.0 119.3h0M159.2 117.5h0M159.0 120.0h0M167.1 117.0h0M162.9 118.9h0M165.5 116.1h0M167.6 118.5h0M165.1 117.6h0M162.2 117.9h0M159.3 120.4h0M163.2 115.4h0M160.9 116.3h0M164.9 116.7h0M159.6 119.3h0M160.4 116.3h0M159.3 120.0h0M162.7 116.4h0M158.1 116.8h0M161.5 118.7h0M159.6 114.5h0M159.9 118.8h0M160.5 115.2h0M157.0 115.2h0M161.2 116.6h0M159.0 115.5h0M160.3 117.1h0M162.8 119.4h0M159.0 116.4h0M160.9 118.4h0M166.6 116.1h0M161.0 116.9h0M158.1 116.6h0M158.8 119.7h0M160.5 118.7h0M157.9 116.3h0M159.3 116.9h0M166.3 115.7h0M162.8 117.3h0M162.1 120.5h0M163.5 116.4h0M159.2 118.9h0M161.3 116.6h0M160.8 116.4h0M161.9 117.9h0M162.2 118.7h0M158.0 119.6h0M162.9 117.2h0M164.3 117.3h0M166.0 117.7h0M171.4 115.4h0M176.5 116.3h0M167.7 117.0h0M169.7 119.5h0M171.0 115.5h0M176.9 119.2h0M174.9 118.3h0M178.1 114.8h0M167.4 119.2h0M176.8 117.0h0M169.3 117.7h0M175.1 118.4h0M176.0 116.0h0M170.4 120.3h0M168.8 118.3h0M169.7 119.4h0M167.6 116.6h0M171.0 117.7h0M169.7 119.5h0M169.1 117.5h0M173.6 118.7h0M169.1 117.4h0M171.4 116.8h0M170.7 117.2h0M170.5 118.5h0M175.7 119.1h0M166.9 115.6h0M172.2 115.9h0M169.8 119.6h0M173.7 117.5h0M174.1 116.8h0M169.2 119.6h0M167.8 118.9h0M173.6 120.0h0M170.2 116.3h0M168.0 116.6h0M170.8 116.9h0M166.4 119.3h0M171.3 117.9h0M177.3 116.5h0M175.6 118.6h0M169.9 116.8h0M174.2 117.7h0M176.6 117.7h0M169.9 118.3h0M175.3 116.2h0M168.0 114.8h0M175.5 118.7h0M175.9 118.4h0M169.4 115.6h0M173.7 116.1h0M173.9 115.6h0M176.7 117.3h0M170.1 119.7h0M171.0 116.5h0M172.2 117.3h0M167.6 115.8h0M173.2 115.1h0M171.4 119.3h0M169.6 117.0h0M171.1 117.9h0M170.7 117.5h0M172.6 115.9h0M167.9 119.5h0M167.7 116.6h0M166.2 118.2h0M177.4 115.9h0M167.5 119.0h0M173.4 115.6h0M170.4 119.6h0M169.3 116.2h0M169.7 117.3h0M169.1 115.6h0M169.5 119.6h0M168.0 118.4h0M176.8 116.5h0M166.9 116.5h0M173.2 117.8h0M175.7 116.0h0M174.4 118.4h0M173.4 120.6h0M172.5 118.0h0M173.1 118.7h0M172.7 116.5h0M173.3 119.2h0M176.4 116.7h0M167.2 117.7h0M170.4 117.5h0M175.1 118.7h0M176.0 118.7h0M165.6 119.5h0M169.5 115.7h0M174.6 115.3h0M174.6 118.6h0M171.2 119.4h0M168.4 116.2h0M168.5 115.5h0M171.4 118.3h0M171.9 116.6h0M167.5 116.3h0M172.3 118.6h0M175.7 116.1h0M166.7 116.9h0M173.7 114.4h0M167.7 118.7h0M177.7 118.3h0M172.7 118.1h0M169.5 116.0h0M175.5 118.4h0M169.4 119.5h0M186.7 119.1h0M177.6 116.8h0M180.8 115.1h0M178.4 115.4h0M187.6 116.9h0M186.9 116.4h0M179.9 120.4h0M177.4 116.8h0M180.5 119.1h0M177.9 114.3h0M179.8 119.0h0M179.4 115.7h0M180.8 115.6h0M175.8 118.8h0M179.3 115.8h0M184.6 116.1h0M178.3 118.2h0M182.2 116.9h0M178.4 116.4h0M183.7 118.6h0M183.0 115.8h0M187.2 120.7h0M184.5 120.5h0M179.8 118.5h0M181.2 116.5h0M186.0 116.8h0M176.3 118.2h0M179.6 119.4h0M177.2 119.1h0M180.5 117.4h0M183.8 117.5h0M182.8 119.3h0M175.7 119.6h0M184.2 118.3h0M181.2 117.3h0M177.5 118.2h0M175.7 118.8h0M181.6 118.1h0M183.7 115.3h0M178.3 118.6h0M180.3 117.2h0M185.6 116.4h0M178.1 119.4h0M185.4 120.3h0M183.2 118.8h0M178.7 118.6h0M177.7 119.9h0M181.5 117.9h0M183.4 118.5h0M179.9 116.8h0M187.6 114.7h0M195.3 117.3h0M186.1 119.2h0M186.2 117.9h0M190.6 116.9h0M195.3 117.1h0M200.5 115.4h0M203.7 119.3h0M205.4 119.2h0M219.2 116.6h0M112.3 121.0h0M111.5 123.5h0M113.4 122.2h0M113.3 122.0h0M110.3 121.7h0M115.1 124.2h0M119.6 122.0h0M125.8 124.7h0M125.2 123.3h0M122.9 121.3h0M123.2 125.0h0M122.9 123.1h0M117.5 123.1h0M125.8 120.7h0M117.0 121.6h0M123.3 123.0h0M121.2 122.6h0M120.0 122.6h0M127.4 124.8h0M117.3 119.9h0M121.2 122.1h0M117.1 121.3h0M124.2 120.0h0M126.0 122.6h0M119.4 122.8h0M122.0 120.2h0M127.2 124.0h0M117.5 123.3h0M126.6 121.8h0M126.1 121.4h0M124.5 122.8h0M118.3 122.8h0M126.0 121.1h0M121.4 120.8h0M126.1 122.1h0M121.4 124.6h0M120.3 120.9h0M123.6 121.7h0M117.3 122.0h0M118.9 124.1h0M119.5 121.3h0M125.0 123.7h0M118.4 122.4h0M121.5 124.3h0M117.8 122.0h0M127.6 124.0h0M122.8 121.2h0M122.5 121.8h0M122.9 122.3h0M125.5 123.3h0M122.1 124.9h0M118.9 122.9h0M120.8 121.5h0M115.7 123.7h0M123.8 122.7h0M118.9 120.9h0M131.4 122.1h0M135.2 124.5h0M134.9 120.9h0M129.5 122.6h0M134.9 124.2h0M135.1 124.9h0M132.2 122.4h0M130.2 123.4h0M128.2 122.8h0M132.5 121.7h0M127.8 122.8h0M128.2 123.6h0M131.4 124.3h0M129.1 120.1h0M133.0 123.1h0M130.5 121.2h0M128.5 119.8h0M132.3 124.4h0M131.8 121.1h0M129.9 119.6h0M129.9 120.7h0M134.6 119.9h0M129.9 123.0h0M133.0 123.6h0M137.4 120.5h0M131.3 124.5h0M137.8 121.7h0M129.2 123.5h0M128.3 119.8h0M133.0 122.0h0M135.1 123.4h0M127.2 124.6h0M133.9 123.1h0M133.1 123.7h0M129.6 120.1h0M127.1 120.6h0M135.1 123.2h0M127.1 123.4h0M136.6 124.4h0M130.7 124.2h0M126.4 122.3h0M132.9 122.6h0M130.5 124.5h0M132.9 123.5h0M133.2 122.8h0M127.7 122.7h0M127.0 121.2h0M132.2 121.3h0M128.9 124.1h0M130.7 124.6h0M142.5 124.3h0M138.0 120.5h0M146.8 122.3h0M138.2 120.6h0M145.1 121.6h0M145.4 122.2h0M144.9 123.2h0M140.5 122.1h0M140.1 124.3h0M144.9 124.1h0M146.1 120.7h0M146.0 121.5h0M139.5 125.0h0M143.3 123.8h0M141.6 124.3h0M141.3 122.7h0M144.4 125.5h0M145.7 123.5h0M143.8 120.3h0M141.1 122.8h0M141.2 119.1h0M137.0 125.5h0M141.8 121.8h0M142.0 120.8h0M142.2 122.9h0M141.8 124.5h0M139.0 121.9h0M141.4 125.0h0M144.5 121.4h0M140.8 123.3h0M145.2 123.2h0M141.0 124.8h0M145.1 121.2h0M137.4 122.4h0M137.5 121.9h0M136.6 120.5h0M143.0 122.9h0M145.8 120.3h0M146.8 122.5h0M142.6 121.0h0M139.7 124.4h0M142.2 120.4h0M145.0 122.9h0M143.9 120.7h0M139.9 123.5h0M140.0 122.7h0M140.3 121.5h0M145.7 124.2h0M139.9 121.6h0M137.0 122.7h0M151.7 124.3h0M155.5 120.9h0M153.5 122.1h0M157.2 119.9h0M153.2 123.9h0M153.9 123.5h0M153.8 121.6h0M153.1 122.0h0M154.0 123.0h0M150.8 122.6h0M149.0 119.7h0M147.9 122.3h0M151.9 124.4h0M157.3 121.5h0M147.2 120.7h0M155.2 120.6h0M149.0 120.6h0M154.6 122.7h0M156.4 123.5h0M151.5 124.8h0M153.5 124.8h0M152.8 120.2h0M153.8 122.8h0M151.3 123.6h0M157.0 119.7h0M147.3 123.7h0M156.4 123.4h0M151.8 121.9h0M155.4 123.4h0M153.7 121.1h0M148.0 123.2h0M152.1 121.3h0M156.5 122.1h0M149.3 123.9h0M155.5 121.1h0M155.2 120.5h0M149.6 123.7h0M153.4 124.9h0M153.9 122.5h0M152.0 123.2h0M150.6 124.2h0M153.2 119.8h0M155.4 123.4h0M148.3 122.0h0M150.1 120.6h0M152.2 120.9h0M148.4 123.7h0M156.1 121.4h0M153.3 121.7h0M149.6 124.1h0M159.9 121.4h0M161.9 122.4h0M160.6 124.0h0M157.4 122.7h0M163.1 121.0h0M157.8 124.1h0M163.8 122.8h0M166.5 124.5h0M159.9 124.9h0M160.9 121.0h0M162.7 121.5h0M166.9 124.8h0M159.2 122.9h0M165.4 121.7h0M157.5 123.4h0M158.0 124.8h0M161.7 123.7h0M162.0 122.2h0M161.6 124.0h0M164.9 121.7h0M161.9 122.7h0M159.3 122.1h0M160.6 120.8h0M160.1 122.4h0M162.8 121.8h0M157.1 120.8h0M167.3 121.7h0M164.9 121.4h0M164.8 123.2h0M164.4 121.1h0M165.5 123.9h0M157.7 124.0h0M161.5 125.1h0M165.6 121.7h0M156.6 124.2h0M164.6 120.8h0M160.4 121.9h0M160.6 122.1h0M161.5 124.8h0M159.0 122.9h0M157.6 122.8h0M155.2 121.7h0M160.4 119.6h0M164.1 123.6h0M159.8 124.3h0M161.4 119.9h0M158.7 125.4h0M162.5 123.4h0M155.5 123.5h0M160.3 124.1h0M171.7 120.2h0M174.7 120.1h0M167.7 122.1h0M172.4 118.4h0M169.1 121.9h0M177.0 123.8h0M167.2 123.1h0M175.0 124.4h0M170.5 123.4h0M172.6 123.9h0M167.6 122.4h0M172.7 121.7h0M173.0 122.3h0M174.9 121.8h0M169.9 121.8h0M167.2 121.1h0M169.4 123.9h0M170.8 121.0h0M171.8 124.0h0M169.1 124.1h0M173.7 123.7h0M175.3 122.1h0M168.9 124.6h0M168.2 122.4h0M169.0 122.3h0M169.0 124.1h0M173.7 120.3h0M171.9 121.5h0M168.3 120.7h0M174.1 125.1h0M168.1 124.7h0M176.9 123.1h0M170.1 123.7h0M170.3 125.1h0M168.1 122.1h0M171.5 124.9h0M170.0 122.4h0M170.6 122.9h0M172.6 123.3h0M169.4 121.1h0M173.6 121.3h0M169.4 120.8h0M173.9 123.9h0M175.5 121.8h0M172.7 120.0h0M167.4 121.6h0M175.7 121.5h0M177.5 122.6h0M166.7 124.2h0M172.6 124.8h0M181.2 122.4h0M176.9 120.2h0M188.8 126.3h0M180.4 123.4h0M180.6 124.4h0M182.7 122.4h0M177.7 120.7h0M177.8 124.9h0M181.5 121.0h0M184.5 121.8h0M186.0 124.9h0M186.2 122.1h0M180.1 124.2h0M182.6 120.4h0M181.5 121.7h0M182.4 122.1h0M179.7 121.9h0M182.2 125.0h0M192.3 123.9h0M187.9 124.9h0M191.9 121.7h0M191.5 123.1h0M192.4 123.9h0M193.3 120.1h0M202.5 125.6h0M203.5 123.8h0M107.5 127.4h0M114.6 129.7h0M123.3 127.3h0M134.4 124.5h0M129.8 129.6h0M127.7 129.2h0M130.0 126.8h0M129.1 127.7h0M135.9 130.6h0M140.8 124.8h0M140.7 128.8h0M143.7 125.8h0M139.9 126.3h0M136.9 125.0h0M140.5 124.8h0M147.4 129.5h0M154.5 125.7h0M156.5 129.3h0M152.5 126.9h0M153.7 125.0h0M152.3 128.1h0M161.0 128.5h0M159.0 125.7h0M156.6 126.4h0M161.9 130.6h0M159.7 130.1h0M157.2 126.5h0M170.8 129.1h0M176.8 125.5h0M168.7 129.5h0M175.7 127.2h0M170.4 126.7h0M169.1 126.7h0M177.0 127.4h0M185.9 126.2h0M191.2 124.4h0M191.4 128.6h0M142.1 132.0h0M140.4 133.4h0M154.9 133.7h0M149.0 133.7h0M141.4 139.2h0M200.8 103.0h0M213.8 114.0h0M205.8 99.0h0" stroke="#111" stroke-width="1.6" stroke-linecap="round" fill="none"/>
<path d="M44.6 98.6H366.9M44.6 124.7H366.9" stroke="#666" stroke-width="1.1" stroke-dasharray="2.8 1.9" fill="none"/>
<path d="M44.6 112.4H366.9" stroke="#555" stroke-width="1.1" fill="none"/>
<path d="M44.6 108.5L366.9 119.1" stroke="#f03030" stroke-width="1.1" fill="none"/>
<path d="M44.6 12V214M39.8 206.5H366.9M39.8 19.5H44.6M39.8 66.2H44.6M39.8 113H44.6M39.8 159.8H44.6M125.2 206.5V211.6M205.8 206.5V211.6M286.3 206.5V211.6M366.9 206.5V211.6" stroke="#8a8a8a" stroke-width="1.2" fill="none"/>
<text x="35.2" y="23.6" class="t" text-anchor="end">100</text>
<text x="35.2" y="70.4" class="t" text-anchor="end">50</text>
<text x="35.2" y="117.2" class="t" text-anchor="end">0</text>
<text x="35.2" y="163.9" class="t" text-anchor="end">-50</text>
<text x="35.2" y="210.7" class="t" text-anchor="end">-100</text>
<text x="44.6" y="224.9" class="t" text-anchor="middle">0</text>
<text x="125.2" y="224.9" class="t" text-anchor="middle">50</text>
<text x="205.8" y="224.9" class="t" text-anchor="middle">100</text>
<text x="286.3" y="224.9" class="t" text-anchor="middle">150</text>
<text x="366.9" y="224.9" class="t" text-anchor="middle">200</text>
<text x="205.8" y="241.5" class="al" text-anchor="middle">Average (mmHg)</text>
<text transform="translate(10.6,113.9) rotate(-90)" class="al yl" text-anchor="middle" xml:space="preserve">Difference;  VCM - Intra-arterial (mmHg)</text>
<text x="205.8" y="10.8" class="ti" text-anchor="middle">Diastolic blood pressure</text>
<path d="M195 24.2H212.5" stroke="#555" stroke-width="1.1"/>
<path d="M195 36.4H212.5" stroke="#666" stroke-width="1.1" stroke-dasharray="2.6 2"/>
<path d="M195 47.9H212.5" stroke="#f06060" stroke-width="1.3"/>
<text x="220.9" y="27.8" class="lg">Mean bias</text>
<text x="220.9" y="39.3" class="lg">Limits of agreement</text>
<text x="220.9" y="51.5" class="lg">Correlation between bias and mean</text>
<text x="223.6" y="64" class="lg">r<tspan dy="-4" font-size="7.5">2</tspan><tspan dy="4" dx="-0.6"> : 0.01 (95% CI 0.01-0.02)</tspan></text>
</g>
<g transform="translate(0,269.7)">
<path d="M202.7 88.0h0M202.0 86.0h0M210.9 89.4h0M222.2 89.0h0M159.8 92.9h0M162.2 92.1h0M168.9 91.5h0M177.7 91.4h0M179.9 91.2h0M180.8 88.8h0M183.7 94.1h0M185.2 92.4h0M181.0 91.9h0M192.5 92.9h0M195.7 92.3h0M193.8 95.2h0M189.0 91.8h0M194.0 94.9h0M187.9 91.8h0M192.9 91.8h0M193.9 90.7h0M190.4 91.9h0M187.9 92.3h0M192.0 94.0h0M187.3 90.0h0M187.5 93.3h0M187.3 91.4h0M193.5 91.4h0M188.5 90.3h0M185.3 93.5h0M190.4 93.7h0M185.6 92.1h0M194.0 89.8h0M190.1 93.2h0M189.0 92.3h0M188.6 94.0h0M185.3 92.3h0M194.0 94.7h0M194.4 92.3h0M190.1 92.4h0M185.2 94.2h0M190.6 95.1h0M185.9 90.9h0M187.3 95.3h0M185.1 93.2h0M186.5 93.6h0M191.6 94.5h0M184.5 89.7h0M190.1 92.7h0M189.8 91.7h0M185.4 91.5h0M186.5 94.8h0M184.5 93.5h0M193.6 96.2h0M192.0 94.5h0M191.9 90.9h0M184.7 91.5h0M194.2 94.2h0M194.6 94.2h0M190.6 91.2h0M188.3 94.2h0M186.6 89.3h0M189.7 90.1h0M197.1 95.0h0M204.4 93.7h0M202.6 90.1h0M197.7 92.7h0M200.8 95.0h0M199.1 95.0h0M203.3 94.0h0M204.1 91.6h0M200.2 90.3h0M196.9 93.7h0M196.2 92.1h0M205.0 89.3h0M201.1 94.7h0M200.6 92.5h0M202.1 91.4h0M202.7 93.4h0M195.9 92.0h0M203.6 93.4h0M197.2 92.3h0M197.6 89.2h0M198.8 91.7h0M197.0 91.0h0M196.6 91.1h0M196.5 91.0h0M205.9 90.5h0M201.1 92.6h0M195.5 91.0h0M204.4 93.3h0M202.8 90.7h0M202.8 91.7h0M198.6 95.4h0M199.2 93.1h0M196.3 94.6h0M202.5 90.9h0M199.5 94.8h0M200.0 90.7h0M202.6 92.5h0M201.3 92.8h0M203.9 90.3h0M202.9 91.9h0M198.6 93.1h0M195.1 92.4h0M203.3 92.5h0M199.1 91.6h0M197.5 93.5h0M200.3 93.6h0M194.7 93.0h0M205.3 93.4h0M197.0 91.3h0M195.7 92.7h0M208.4 91.4h0M206.0 92.5h0M207.9 91.1h0M208.0 93.5h0M213.9 92.5h0M213.6 94.3h0M206.1 92.2h0M207.7 92.9h0M208.0 92.2h0M205.0 94.4h0M211.4 93.2h0M214.0 92.6h0M211.3 94.0h0M212.4 94.2h0M207.1 93.8h0M213.0 92.6h0M205.0 92.7h0M210.3 94.7h0M208.1 90.2h0M207.2 93.0h0M209.0 92.2h0M208.7 93.3h0M208.8 94.5h0M208.7 95.5h0M212.6 94.4h0M210.8 91.2h0M215.3 93.0h0M209.6 92.8h0M205.7 94.3h0M206.0 91.3h0M209.2 92.6h0M213.8 96.1h0M213.5 90.4h0M207.2 94.5h0M212.7 93.4h0M212.1 94.1h0M205.3 94.8h0M208.7 93.7h0M210.1 93.3h0M215.0 91.2h0M210.6 95.8h0M208.5 94.5h0M210.2 90.9h0M211.2 95.0h0M212.6 92.7h0M210.7 93.3h0M212.7 93.8h0M209.7 92.0h0M204.2 93.4h0M214.6 92.9h0M225.3 93.6h0M220.3 90.7h0M222.0 93.9h0M215.3 93.9h0M217.1 93.3h0M216.0 94.3h0M221.7 94.0h0M216.5 90.5h0M219.0 91.5h0M224.7 93.8h0M216.4 93.9h0M217.0 94.0h0M224.0 91.1h0M222.3 93.4h0M223.0 91.3h0M219.8 93.7h0M221.8 94.2h0M223.4 92.6h0M217.7 93.0h0M216.6 93.3h0M220.3 94.5h0M223.4 93.0h0M217.3 96.3h0M215.8 94.6h0M219.3 92.5h0M218.1 94.4h0M220.6 93.3h0M224.4 91.0h0M219.5 93.2h0M224.8 91.7h0M215.7 93.3h0M215.6 94.2h0M223.9 93.2h0M215.4 94.1h0M219.8 92.8h0M215.6 91.6h0M220.3 92.0h0M225.5 92.7h0M219.3 94.3h0M216.4 94.7h0M223.0 92.6h0M215.9 94.5h0M221.3 92.5h0M224.4 90.4h0M220.1 93.8h0M215.8 93.3h0M215.2 93.5h0M217.9 93.2h0M218.4 91.3h0M217.8 93.6h0M233.3 89.7h0M228.5 94.0h0M230.4 92.2h0M232.2 92.7h0M232.3 94.0h0M231.0 90.6h0M162.1 97.6h0M172.8 99.3h0M172.5 98.8h0M182.7 98.3h0M185.1 97.4h0M176.7 99.6h0M183.6 97.4h0M182.5 95.9h0M183.7 97.4h0M191.4 100.4h0M186.8 98.5h0M192.2 97.2h0M195.6 98.9h0M194.0 101.0h0M187.9 96.0h0M194.3 99.9h0M190.2 95.5h0M194.5 99.1h0M193.3 97.6h0M188.0 97.7h0M185.3 95.1h0M186.6 99.9h0M185.8 98.7h0M193.5 95.6h0M187.1 97.6h0M184.7 97.3h0M192.1 99.8h0M202.9 97.8h0M201.4 100.1h0M204.5 97.5h0M205.9 98.6h0M204.0 95.1h0M196.4 97.1h0M202.0 96.2h0M203.7 97.1h0M197.8 98.9h0M201.7 99.9h0M202.1 95.7h0M200.1 95.5h0M194.2 98.0h0M204.3 96.9h0M202.8 96.6h0M201.2 98.2h0M200.1 99.0h0M200.8 94.7h0M212.8 98.2h0M210.5 95.5h0M207.4 98.0h0M212.3 95.0h0M206.3 98.5h0M208.5 97.7h0M214.6 97.6h0M207.0 100.0h0M205.9 96.8h0M205.1 99.8h0M210.3 100.0h0M205.8 97.7h0M207.8 100.6h0M207.9 95.4h0M206.7 99.7h0M209.8 98.5h0M207.3 97.8h0M211.9 97.3h0M221.2 96.7h0M222.0 96.4h0M224.2 98.1h0M221.5 98.6h0M221.1 97.6h0M219.5 100.2h0M218.8 97.0h0M218.4 98.5h0M216.2 97.5h0M220.5 99.4h0M221.7 97.1h0M223.8 98.8h0M221.3 97.0h0M218.0 97.7h0M221.8 97.1h0M220.0 98.2h0M217.4 96.2h0M218.2 94.8h0M229.5 99.5h0M225.0 98.0h0M228.4 100.0h0M229.2 96.0h0M229.6 96.3h0M233.6 95.4h0M234.7 95.0h0M230.7 98.0h0M229.6 96.5h0M230.8 97.6h0M232.9 96.5h0M234.0 95.7h0M233.3 98.9h0M233.5 98.5h0M230.7 95.5h0M235.8 98.4h0M232.3 100.1h0M226.1 99.6h0M238.7 97.8h0M131.7 102.7h0M138.1 100.8h0M138.9 103.4h0M134.8 101.6h0M144.1 103.3h0M138.1 102.6h0M141.9 104.8h0M150.6 104.7h0M151.6 101.1h0M145.6 104.5h0M146.4 103.6h0M148.9 103.0h0M146.7 104.4h0M148.5 104.3h0M146.7 101.9h0M148.4 101.3h0M153.6 104.1h0M150.8 102.2h0M151.8 102.4h0M153.5 100.6h0M151.3 104.6h0M152.4 103.3h0M152.3 99.2h0M154.2 102.7h0M154.2 103.2h0M152.7 102.6h0M147.1 104.0h0M149.8 104.9h0M152.3 103.0h0M148.3 101.8h0M148.2 101.4h0M152.5 104.0h0M153.9 103.4h0M147.2 105.7h0M146.3 101.7h0M146.2 104.2h0M148.0 99.4h0M149.8 101.2h0M153.6 103.7h0M150.0 104.1h0M150.1 101.6h0M145.2 103.6h0M152.6 100.4h0M149.9 100.5h0M148.2 100.9h0M146.2 101.5h0M152.1 103.2h0M149.6 100.5h0M149.8 102.1h0M151.3 103.8h0M147.1 104.7h0M148.6 101.1h0M153.6 101.4h0M147.1 105.0h0M146.9 101.2h0M150.1 101.5h0M146.0 104.9h0M161.1 104.3h0M155.3 102.9h0M161.9 102.2h0M163.2 102.6h0M158.2 101.1h0M165.9 101.5h0M155.2 100.1h0M163.2 105.4h0M161.5 102.2h0M161.9 101.8h0M165.3 102.3h0M156.7 102.3h0M160.3 103.1h0M160.0 104.1h0M155.1 101.5h0M162.6 105.1h0M156.9 103.5h0M156.8 100.0h0M157.0 102.7h0M155.5 103.9h0M162.1 104.3h0M156.9 103.1h0M155.0 103.2h0M156.5 101.7h0M157.9 99.9h0M159.2 103.8h0M158.7 103.8h0M155.6 101.0h0M159.2 104.0h0M158.0 104.6h0M162.9 102.8h0M155.9 102.7h0M155.2 102.9h0M159.2 102.2h0M164.3 100.1h0M155.8 101.0h0M162.2 103.6h0M161.8 105.1h0M163.0 102.3h0M156.2 103.0h0M159.9 104.0h0M161.8 101.4h0M163.2 104.8h0M156.3 101.0h0M159.8 105.4h0M161.0 102.8h0M161.6 106.1h0M160.0 101.6h0M164.3 103.5h0M155.8 103.0h0M171.1 102.0h0M170.9 104.3h0M167.2 103.5h0M173.7 100.9h0M167.7 100.4h0M171.6 99.8h0M170.7 103.1h0M167.2 100.5h0M170.6 101.9h0M167.9 101.8h0M170.7 104.2h0M175.6 102.4h0M166.3 104.0h0M173.8 105.5h0M169.8 102.7h0M169.9 104.3h0M168.7 102.8h0M169.9 103.4h0M176.3 104.0h0M193.4 102.1h0M204.8 101.4h0M212.8 101.1h0M207.0 104.1h0M208.0 103.9h0M209.2 104.1h0M213.0 103.9h0M209.8 103.6h0M219.3 102.0h0M218.2 103.0h0M232.6 101.9h0M241.6 104.5h0M240.8 99.6h0M134.0 106.3h0M143.2 108.0h0M142.5 108.4h0M141.2 110.4h0M135.6 107.9h0M140.8 109.2h0M141.3 107.7h0M141.3 107.8h0M145.4 108.0h0M137.7 107.3h0M143.0 108.9h0M143.8 109.9h0M141.2 106.9h0M143.2 107.0h0M139.9 110.1h0M140.0 106.7h0M136.4 109.3h0M135.4 107.2h0M141.7 108.3h0M141.6 108.5h0M137.5 108.6h0M141.0 109.5h0M136.8 109.7h0M134.6 109.9h0M136.8 110.1h0M137.6 110.1h0M135.4 107.1h0M143.5 109.8h0M136.6 107.3h0M141.2 106.3h0M139.2 107.3h0M140.5 107.2h0M138.8 106.5h0M137.0 109.6h0M141.6 109.3h0M143.0 110.2h0M144.8 106.3h0M139.9 105.9h0M141.9 107.3h0M142.7 108.3h0M141.9 106.3h0M139.5 107.0h0M137.4 110.2h0M140.3 108.1h0M137.0 109.5h0M140.4 107.1h0M142.9 108.2h0M140.0 107.0h0M142.9 109.3h0M136.2 109.6h0M137.1 109.5h0M154.1 110.1h0M152.5 105.7h0M153.0 106.7h0M147.1 106.5h0M149.3 108.8h0M148.2 108.7h0M155.8 109.4h0M147.4 108.0h0M155.7 108.2h0M150.8 106.4h0M151.0 108.8h0M153.1 106.3h0M149.3 109.7h0M144.4 107.5h0M149.9 108.8h0M151.1 108.4h0M148.0 107.5h0M146.7 107.8h0M148.1 106.0h0M146.2 110.2h0M152.6 105.9h0M147.9 109.6h0M148.6 108.8h0M147.0 109.0h0M155.2 105.8h0M144.6 104.4h0M151.0 105.0h0M152.2 108.8h0M145.3 108.4h0M150.8 105.5h0M144.2 109.3h0M154.5 107.8h0M147.9 109.0h0M149.5 105.4h0M149.5 105.3h0M146.1 107.0h0M148.2 105.8h0M154.1 110.0h0M153.2 104.3h0M148.8 110.8h0M148.3 107.2h0M153.3 105.0h0M151.7 107.2h0M149.2 106.4h0M146.4 109.6h0M155.2 106.5h0M154.0 105.4h0M150.0 109.7h0M154.1 108.2h0M151.5 106.9h0M145.5 107.5h0M145.3 107.8h0M153.2 108.3h0M147.3 106.9h0M153.4 110.0h0M149.6 108.9h0M148.5 107.9h0M154.0 110.2h0M148.4 106.7h0M153.3 106.1h0M153.7 108.3h0M152.1 110.4h0M152.0 105.3h0M154.2 106.8h0M151.1 107.7h0M149.3 105.8h0M150.3 108.8h0M145.9 108.9h0M146.7 108.1h0M146.3 106.1h0M151.6 105.9h0M150.5 105.3h0M148.2 106.5h0M145.2 109.5h0M154.6 105.2h0M148.4 106.2h0M152.3 105.6h0M150.0 108.1h0M152.3 107.4h0M150.6 105.1h0M150.5 107.4h0M145.6 107.7h0M145.0 109.2h0M151.5 109.2h0M152.1 107.2h0M147.7 108.8h0M145.4 110.4h0M154.2 107.6h0M151.5 109.9h0M146.7 103.9h0M153.4 106.0h0M150.7 110.2h0M145.7 105.1h0M149.9 108.5h0M153.9 107.0h0M153.5 108.0h0M145.6 107.0h0M149.6 107.8h0M152.0 106.0h0M150.2 106.3h0M150.7 106.0h0M145.4 109.0h0M150.4 105.5h0M150.6 108.7h0M154.8 109.7h0M147.1 109.0h0M152.9 109.3h0M151.2 111.2h0M148.0 107.5h0M152.1 107.1h0M162.3 108.6h0M162.5 107.6h0M164.5 105.8h0M164.9 105.9h0M159.3 106.2h0M159.1 108.1h0M163.4 109.1h0M156.1 105.7h0M162.1 104.4h0M161.0 108.6h0M162.6 108.4h0M158.7 107.1h0M164.0 107.6h0M163.8 105.2h0M163.2 106.2h0M163.6 107.7h0M162.8 110.2h0M163.5 106.7h0M156.0 108.2h0M162.4 107.4h0M157.1 107.2h0M156.7 109.2h0M164.5 105.5h0M164.3 107.2h0M155.7 105.9h0M161.6 108.3h0M158.7 107.8h0M157.3 108.7h0M159.2 107.4h0M160.8 107.3h0M155.2 108.1h0M161.0 107.1h0M162.2 110.5h0M158.2 109.1h0M163.8 105.9h0M160.5 107.0h0M162.9 107.5h0M156.1 108.0h0M160.4 109.2h0M156.5 107.2h0M159.2 109.6h0M163.9 106.1h0M157.2 106.4h0M157.5 108.5h0M159.4 109.6h0M159.6 105.4h0M159.8 107.3h0M161.3 105.9h0M154.5 106.0h0M155.9 109.2h0M156.8 109.6h0M154.1 105.4h0M159.6 108.2h0M155.8 107.9h0M164.6 108.4h0M157.3 109.2h0M162.2 108.2h0M156.7 106.6h0M158.6 109.2h0M158.1 109.9h0M155.8 107.5h0M161.3 106.6h0M162.1 109.8h0M162.7 106.7h0M161.3 107.3h0M163.6 108.0h0M156.9 108.7h0M157.0 108.3h0M156.4 107.0h0M163.3 106.7h0M162.5 107.9h0M165.6 109.1h0M156.7 105.3h0M164.0 108.2h0M155.4 108.8h0M164.2 109.2h0M155.2 105.3h0M160.3 107.9h0M163.5 106.9h0M155.8 108.3h0M154.4 105.7h0M164.2 108.4h0M158.0 106.8h0M159.0 108.9h0M157.5 108.7h0M159.4 107.7h0M155.2 109.8h0M159.5 105.4h0M162.5 105.6h0M156.2 108.2h0M159.6 109.1h0M158.8 108.0h0M161.0 106.7h0M162.9 109.4h0M159.4 108.7h0M155.9 109.2h0M160.7 105.4h0M159.8 109.5h0M161.2 110.1h0M158.5 106.6h0M156.7 107.6h0M157.5 107.4h0M165.9 105.8h0M162.5 107.7h0M162.9 107.6h0M162.6 107.0h0M162.2 109.5h0M162.1 105.6h0M162.7 109.5h0M164.4 108.5h0M174.9 104.6h0M174.6 105.7h0M173.0 108.1h0M168.4 106.9h0M165.7 110.4h0M168.4 105.0h0M169.1 109.1h0M174.5 108.4h0M168.6 107.5h0M170.6 107.0h0M168.8 105.2h0M171.3 106.8h0M172.8 107.4h0M166.6 110.0h0M173.7 108.8h0M173.6 108.1h0M169.9 105.7h0M167.9 105.9h0M174.0 105.2h0M170.1 107.4h0M173.9 109.4h0M169.0 105.3h0M169.6 106.7h0M166.9 106.6h0M171.8 109.6h0M169.3 104.1h0M171.0 107.9h0M173.8 110.2h0M172.9 108.0h0M173.6 108.5h0M170.0 107.8h0M167.6 107.1h0M171.2 109.4h0M170.1 110.8h0M170.8 109.6h0M167.2 109.1h0M172.8 108.8h0M169.6 107.8h0M169.1 108.5h0M172.8 110.8h0M168.9 108.4h0M172.4 107.2h0M173.4 109.1h0M175.9 105.8h0M166.8 107.7h0M167.1 105.7h0M175.8 108.6h0M172.1 108.3h0M172.6 107.9h0M174.2 109.6h0M179.4 107.5h0M181.9 110.1h0M182.7 106.3h0M177.9 107.4h0M177.2 107.6h0M174.9 107.9h0M176.8 109.4h0M178.3 105.1h0M180.1 109.8h0M179.7 107.5h0M183.6 109.4h0M178.2 109.2h0M178.7 109.2h0M179.4 105.9h0M176.5 109.9h0M180.0 110.2h0M175.6 106.3h0M174.8 106.3h0M191.3 105.7h0M186.3 109.1h0M191.2 104.7h0M185.8 108.2h0M188.9 107.3h0M190.9 107.1h0M202.0 109.4h0M198.6 106.3h0M202.6 107.8h0M203.9 108.7h0M197.9 106.4h0M201.8 106.2h0M207.7 110.3h0M205.9 108.8h0M222.1 105.6h0M134.6 111.1h0M128.4 116.1h0M137.6 111.7h0M142.6 112.3h0M142.8 111.5h0M141.9 110.7h0M142.3 115.6h0M138.5 109.1h0M140.2 114.9h0M138.0 111.6h0M134.8 113.7h0M138.8 115.0h0M135.6 110.5h0M143.2 110.4h0M144.3 115.2h0M146.7 113.3h0M139.3 111.9h0M146.5 112.5h0M136.2 113.5h0M136.4 112.3h0M150.1 114.7h0M146.9 112.3h0M152.8 114.5h0M150.7 114.7h0M151.4 115.0h0M153.1 112.8h0M151.9 112.1h0M148.0 113.0h0M153.0 112.9h0M150.9 114.3h0M144.7 112.9h0M152.7 111.4h0M152.8 114.6h0M150.3 111.9h0M152.7 113.8h0M152.2 113.6h0M147.3 111.3h0M150.3 113.7h0M146.5 112.9h0M148.8 114.4h0M144.9 113.9h0M149.8 115.2h0M154.3 112.9h0M149.6 110.9h0M152.0 112.4h0M152.6 111.7h0M145.3 114.2h0M146.2 115.2h0M145.9 110.4h0M145.3 113.6h0M146.9 112.9h0M148.2 110.4h0M153.8 114.4h0M152.6 114.8h0M150.8 114.4h0M147.9 114.5h0M145.5 114.0h0M149.3 111.7h0M149.0 111.0h0M145.9 111.0h0M149.7 113.1h0M145.6 112.6h0M153.5 110.2h0M152.3 111.7h0M153.0 114.8h0M153.6 114.2h0M151.0 114.2h0M154.4 115.1h0M152.3 112.9h0M147.0 114.7h0M152.3 113.8h0M145.7 114.2h0M150.1 110.5h0M154.2 110.1h0M152.8 113.2h0M153.8 113.0h0M149.9 111.6h0M146.5 112.8h0M156.0 112.0h0M152.7 112.3h0M150.3 111.9h0M145.4 111.1h0M149.4 111.9h0M150.4 114.8h0M151.2 114.7h0M148.6 111.4h0M147.3 113.7h0M153.3 115.0h0M149.3 111.8h0M151.9 113.7h0M146.1 111.8h0M148.8 113.0h0M148.8 110.6h0M146.5 113.7h0M146.6 110.6h0M145.4 113.9h0M149.2 113.5h0M152.1 114.1h0M150.9 113.7h0M151.5 110.8h0M146.9 112.6h0M153.2 112.3h0M150.1 111.8h0M149.6 111.4h0M146.2 112.5h0M144.9 114.7h0M153.3 112.7h0M148.7 110.6h0M154.5 111.5h0M155.2 115.7h0M152.6 111.9h0M150.5 111.0h0M151.1 114.5h0M150.5 113.4h0M153.4 112.5h0M151.8 113.4h0M154.4 112.7h0M149.9 111.7h0M150.4 110.9h0M150.8 113.1h0M149.7 112.9h0M147.2 113.3h0M150.5 110.6h0M149.0 111.2h0M145.2 115.4h0M152.8 112.1h0M148.1 111.4h0M146.9 110.8h0M153.9 113.5h0M146.0 112.6h0M156.5 113.9h0M163.0 111.4h0M162.6 112.4h0M162.8 112.4h0M165.0 114.8h0M157.0 115.8h0M160.3 113.2h0M157.9 111.6h0M158.5 112.9h0M158.1 112.3h0M157.8 110.4h0M160.9 112.0h0M164.3 112.7h0M154.4 111.8h0M155.7 114.0h0M165.4 112.4h0M160.7 115.1h0M164.1 113.9h0M162.3 116.9h0M163.0 110.7h0M159.3 114.3h0M163.3 111.0h0M159.7 112.7h0M164.8 114.7h0M156.8 113.0h0M163.2 114.8h0M155.8 111.6h0M162.1 113.0h0M158.8 114.2h0M156.0 110.6h0M161.3 112.9h0M164.2 111.9h0M164.8 115.7h0M162.3 114.7h0M155.9 110.9h0M161.4 114.1h0M157.2 109.7h0M159.9 114.7h0M161.0 113.3h0M161.1 114.0h0M158.9 112.5h0M156.1 110.9h0M160.1 111.8h0M165.7 113.0h0M164.7 111.9h0M162.8 110.4h0M159.8 115.0h0M157.6 109.7h0M161.5 111.3h0M159.1 112.2h0M161.9 114.4h0M160.3 112.6h0M156.6 112.6h0M162.6 111.8h0M162.9 110.0h0M165.7 111.6h0M157.6 112.4h0M159.4 110.2h0M162.9 115.8h0M159.7 114.2h0M157.2 114.8h0M159.8 112.8h0M155.9 115.2h0M158.2 114.4h0M159.9 115.0h0M163.8 110.1h0M159.9 114.5h0M161.2 113.5h0M158.6 113.9h0M160.3 111.6h0M159.7 114.2h0M159.2 113.0h0M157.0 113.4h0M163.1 114.9h0M154.2 114.1h0M162.7 116.2h0M162.2 111.2h0M156.9 110.2h0M163.8 110.4h0M157.9 110.8h0M161.5 114.3h0M158.0 114.2h0M164.0 110.7h0M164.1 112.1h0M163.2 113.6h0M163.8 111.1h0M158.3 114.4h0M164.1 113.0h0M159.6 112.1h0M157.8 112.9h0M165.3 112.2h0M155.6 113.0h0M155.5 112.8h0M162.7 114.7h0M163.7 111.6h0M155.3 114.2h0M160.7 113.5h0M162.1 112.7h0M164.2 113.6h0M164.8 113.0h0M155.9 114.3h0M160.0 110.7h0M158.2 113.9h0M158.9 115.2h0M158.0 114.4h0M157.4 111.4h0M156.7 113.9h0M155.5 111.5h0M157.6 114.2h0M159.0 112.1h0M164.9 110.7h0M171.5 110.7h0M166.4 113.0h0M170.6 109.9h0M170.6 111.4h0M170.9 112.2h0M171.9 114.9h0M170.8 110.8h0M167.0 110.1h0M168.0 113.4h0M172.9 110.3h0M172.4 113.3h0M169.1 110.8h0M168.5 113.3h0M167.2 112.5h0M170.5 114.2h0M168.6 113.0h0M168.5 112.0h0M166.9 111.3h0M170.7 111.4h0M169.7 112.1h0M166.3 114.0h0M166.2 113.6h0M171.5 113.8h0M165.9 111.4h0M165.5 114.4h0M164.7 110.8h0M170.6 112.5h0M166.1 112.6h0M172.4 113.8h0M172.1 110.3h0M171.0 111.8h0M167.8 111.5h0M168.3 111.0h0M174.2 113.5h0M166.3 111.2h0M170.9 111.7h0M172.8 114.9h0M173.3 112.8h0M172.6 113.6h0M169.7 110.8h0M169.3 114.8h0M168.3 111.8h0M172.5 114.4h0M172.6 112.3h0M168.1 115.4h0M170.5 113.6h0M168.2 114.7h0M169.5 114.6h0M170.8 111.4h0M173.3 115.0h0M164.1 113.4h0M167.0 114.2h0M172.9 114.7h0M167.0 114.5h0M172.3 110.3h0M167.9 114.8h0M167.3 110.3h0M170.1 111.6h0M170.1 112.3h0M172.3 113.0h0M168.4 110.5h0M173.4 113.9h0M165.0 112.7h0M171.3 112.9h0M164.7 111.1h0M164.8 114.0h0M172.1 114.7h0M172.8 115.3h0M167.4 113.1h0M171.1 114.9h0M168.4 114.1h0M173.6 111.1h0M169.1 111.2h0M171.8 113.2h0M167.3 114.8h0M169.6 114.4h0M168.8 111.2h0M168.0 112.3h0M171.9 114.5h0M165.8 110.9h0M166.9 112.1h0M175.4 114.1h0M171.9 111.6h0M172.5 113.1h0M165.2 114.2h0M167.1 111.9h0M172.7 114.3h0M171.7 112.7h0M169.0 113.6h0M169.4 112.4h0M173.4 113.4h0M172.0 114.0h0M170.6 114.1h0M165.4 113.5h0M166.8 112.0h0M171.7 112.1h0M171.5 114.3h0M168.9 111.7h0M170.2 114.9h0M174.1 112.9h0M172.3 113.7h0M169.4 113.6h0M167.4 113.4h0M173.5 114.8h0M172.3 108.6h0M166.8 112.0h0M170.0 113.9h0M166.6 114.5h0M167.7 112.4h0M174.1 113.7h0M180.9 110.2h0M176.7 109.6h0M184.3 110.8h0M180.4 111.2h0M181.0 113.0h0M181.9 110.4h0M175.9 113.3h0M177.6 113.9h0M178.4 113.7h0M186.3 113.6h0M181.9 111.9h0M179.1 112.6h0M175.3 114.5h0M182.6 113.9h0M177.5 114.5h0M185.5 112.4h0M178.0 111.0h0M183.9 112.6h0M180.5 113.1h0M182.5 110.3h0M175.1 115.3h0M177.3 112.8h0M178.7 113.8h0M183.3 111.1h0M177.8 111.7h0M178.4 111.2h0M178.6 114.3h0M174.8 114.9h0M176.2 113.4h0M185.4 112.5h0M178.7 112.0h0M180.8 114.2h0M176.0 115.0h0M177.4 113.0h0M176.2 113.4h0M175.4 112.2h0M182.0 109.8h0M184.2 112.1h0M184.2 112.1h0M181.5 112.7h0M181.1 112.3h0M175.3 112.8h0M180.4 114.6h0M178.7 112.0h0M177.4 112.2h0M184.7 113.4h0M177.3 112.2h0M183.3 111.6h0M179.4 112.3h0M181.8 110.3h0M184.4 110.4h0M176.6 115.4h0M182.6 112.8h0M181.4 115.0h0M183.0 113.6h0M177.7 113.5h0M182.5 110.7h0M184.4 115.5h0M181.8 113.4h0M179.7 112.3h0M180.0 114.8h0M180.2 110.8h0M182.7 113.6h0M180.5 110.6h0M182.9 111.3h0M181.6 112.7h0M178.9 110.5h0M182.1 111.9h0M182.4 112.6h0M181.9 114.2h0M186.1 112.7h0M181.5 114.1h0M179.3 111.2h0M182.3 111.8h0M176.9 109.8h0M180.4 110.9h0M184.2 110.4h0M181.2 112.6h0M176.0 111.6h0M175.4 111.5h0M183.0 114.9h0M183.8 109.5h0M183.2 112.6h0M183.3 111.2h0M176.6 112.1h0M176.4 110.6h0M182.0 113.4h0M178.2 115.5h0M181.8 111.4h0M180.2 114.5h0M175.7 116.0h0M179.3 113.2h0M181.7 113.1h0M182.0 113.2h0M177.8 113.7h0M181.3 110.0h0M182.5 112.0h0M181.1 111.5h0M183.1 113.6h0M183.5 110.5h0M177.3 111.0h0M182.9 111.2h0M177.0 111.2h0M176.4 114.6h0M175.4 112.3h0M179.5 110.7h0M176.1 110.2h0M182.8 111.1h0M184.0 114.4h0M194.0 113.2h0M187.3 115.1h0M185.8 111.9h0M192.3 114.3h0M186.1 114.6h0M190.0 112.1h0M186.0 113.5h0M194.5 115.0h0M188.0 113.4h0M188.9 111.3h0M193.1 113.3h0M190.3 113.1h0M192.3 112.5h0M190.4 112.1h0M185.8 110.6h0M194.4 115.6h0M188.5 111.3h0M192.2 114.1h0M184.2 112.0h0M193.4 111.7h0M190.9 115.5h0M191.7 116.1h0M188.2 114.5h0M190.5 112.3h0M193.4 116.5h0M192.7 112.8h0M185.8 115.0h0M188.0 115.1h0M192.0 111.5h0M191.6 111.1h0M189.8 114.0h0M186.2 112.2h0M194.0 110.6h0M187.7 115.6h0M190.6 114.7h0M191.6 114.8h0M193.9 112.9h0M190.6 113.3h0M191.0 110.2h0M188.8 113.4h0M193.0 114.4h0M190.6 112.9h0M191.3 112.0h0M186.3 114.5h0M191.5 110.9h0M185.4 111.8h0M185.6 113.5h0M192.7 114.0h0M190.6 111.7h0M193.5 113.0h0M187.4 108.8h0M190.9 110.8h0M189.3 112.6h0M191.4 113.8h0M189.3 111.5h0M189.6 115.5h0M192.6 115.4h0M186.0 114.0h0M194.7 113.2h0M194.0 113.9h0M192.0 113.4h0M193.1 111.6h0M192.6 113.1h0M190.0 111.8h0M192.6 113.0h0M193.9 111.7h0M193.9 114.5h0M192.3 110.4h0M186.0 113.2h0M186.7 112.8h0M188.3 113.7h0M186.2 115.0h0M189.6 111.2h0M184.0 111.6h0M191.8 114.9h0M188.2 112.5h0M186.8 110.6h0M189.8 111.4h0M189.6 111.1h0M194.4 113.8h0M190.7 110.3h0M192.7 115.9h0M193.4 114.5h0M190.3 114.9h0M188.2 110.5h0M190.1 110.7h0M195.1 110.6h0M184.4 113.9h0M189.6 114.9h0M194.3 112.4h0M192.2 111.9h0M186.1 114.3h0M190.1 113.6h0M184.8 114.5h0M185.3 115.5h0M186.6 113.4h0M192.1 113.9h0M185.8 112.1h0M188.0 113.1h0M191.5 112.6h0M191.4 113.7h0M189.6 110.3h0M195.1 113.7h0M192.4 110.2h0M187.5 115.0h0M187.0 114.7h0M184.6 114.7h0M194.2 113.4h0M190.4 116.0h0M189.8 111.7h0M198.1 115.2h0M200.2 112.5h0M197.4 111.9h0M201.5 114.4h0M203.6 115.9h0M203.6 110.9h0M197.6 112.3h0M201.6 113.1h0M200.7 110.8h0M195.6 114.0h0M204.4 110.6h0M202.6 110.6h0M200.4 113.6h0M200.5 110.9h0M196.8 113.0h0M198.1 112.6h0M195.9 113.5h0M203.5 115.2h0M203.4 113.0h0M207.0 111.6h0M203.7 111.5h0M201.7 114.4h0M195.9 114.1h0M202.1 113.5h0M199.9 111.3h0M199.3 113.2h0M200.2 114.5h0M203.5 113.3h0M204.9 112.4h0M196.2 113.2h0M203.2 110.5h0M203.2 114.0h0M195.7 111.5h0M201.7 110.1h0M203.9 114.9h0M201.9 115.0h0M202.2 113.5h0M197.2 114.4h0M196.0 114.7h0M198.6 114.8h0M201.6 110.4h0M201.6 111.2h0M197.7 111.9h0M198.7 111.7h0M197.6 114.1h0M195.2 114.7h0M203.2 111.8h0M203.6 114.3h0M200.1 115.6h0M204.1 110.4h0M206.8 110.9h0M214.2 112.6h0M212.5 115.9h0M214.9 113.9h0M213.7 113.3h0M209.8 111.6h0M207.3 114.4h0M213.6 114.9h0M214.6 110.2h0M207.0 112.3h0M209.3 110.5h0M212.2 110.7h0M209.2 112.2h0M207.1 111.8h0M209.9 115.1h0M210.6 111.5h0M210.0 110.9h0M205.2 110.8h0M221.8 113.4h0M224.6 110.4h0M224.8 114.5h0M217.3 114.6h0M223.7 111.2h0M219.8 114.1h0M230.0 111.6h0M234.5 111.8h0M230.0 110.2h0M230.3 113.7h0M226.4 110.0h0M229.7 112.7h0M244.0 113.7h0M240.9 113.8h0M243.2 112.9h0M244.4 111.3h0M239.3 112.5h0M241.2 111.5h0M249.3 113.6h0M134.2 116.1h0M134.2 115.7h0M145.1 116.7h0M141.0 117.6h0M138.3 118.0h0M140.7 117.4h0M137.8 118.5h0M138.0 117.8h0M137.8 117.7h0M144.3 117.8h0M136.6 118.2h0M139.0 117.8h0M143.8 115.6h0M143.4 120.5h0M142.7 120.0h0M136.0 118.0h0M139.6 116.6h0M136.7 116.9h0M140.7 119.7h0M143.7 116.9h0M150.1 118.6h0M144.9 119.6h0M146.3 116.8h0M145.5 115.8h0M147.1 120.3h0M148.9 119.4h0M150.5 118.6h0M147.2 115.1h0M152.4 120.5h0M150.9 119.9h0M152.6 119.5h0M149.5 117.4h0M149.9 118.1h0M150.5 118.2h0M149.6 117.3h0M148.4 118.8h0M144.2 119.5h0M153.6 116.2h0M149.8 118.1h0M150.3 118.7h0M145.6 117.8h0M145.8 119.3h0M146.1 120.5h0M145.8 119.6h0M152.0 116.6h0M153.0 116.8h0M150.9 116.9h0M148.5 117.3h0M146.3 117.1h0M147.9 118.4h0M144.5 117.7h0M150.7 115.6h0M150.5 115.7h0M153.8 120.1h0M150.8 119.5h0M147.5 120.7h0M148.2 118.9h0M148.0 117.6h0M151.6 120.1h0M155.2 115.8h0M146.4 116.8h0M151.4 119.3h0M154.1 119.1h0M145.1 119.2h0M147.6 117.7h0M148.2 118.2h0M151.4 117.8h0M153.1 118.7h0M147.7 119.3h0M148.9 116.9h0M162.8 120.8h0M164.3 118.3h0M156.6 114.8h0M161.4 117.1h0M159.4 117.9h0M164.7 116.5h0M160.8 117.8h0M163.9 119.3h0M158.1 116.0h0M159.5 117.1h0M162.5 119.8h0M161.8 117.9h0M160.1 120.9h0M160.6 117.7h0M164.0 117.3h0M163.0 119.8h0M162.0 120.0h0M160.6 115.3h0M161.6 115.1h0M159.0 119.1h0M159.9 120.1h0M160.9 117.0h0M162.9 116.2h0M155.2 116.4h0M160.0 117.9h0M158.9 118.5h0M163.9 116.2h0M159.9 119.8h0M159.1 116.2h0M165.2 117.4h0M159.5 115.4h0M161.8 118.8h0M156.3 116.5h0M156.7 118.1h0M161.0 117.9h0M157.6 117.7h0M163.7 121.2h0M155.5 116.1h0M162.8 116.1h0M164.1 118.3h0M162.2 118.6h0M164.1 116.3h0M156.5 119.1h0M159.5 117.4h0M162.0 118.4h0M160.0 117.9h0M162.0 119.3h0M159.2 117.5h0M158.6 117.6h0M156.0 118.9h0M162.3 118.4h0M159.7 117.3h0M160.7 118.3h0M157.8 118.1h0M156.8 118.3h0M165.3 117.2h0M156.0 119.4h0M160.2 117.2h0M162.4 118.8h0M164.8 116.1h0M154.3 118.4h0M164.0 116.3h0M163.6 117.6h0M164.6 118.7h0M162.8 120.5h0M159.3 115.7h0M162.0 118.8h0M163.6 119.3h0M161.6 117.1h0M156.6 118.6h0M161.8 118.8h0M157.3 118.6h0M161.7 117.6h0M159.5 119.1h0M157.9 117.7h0M161.5 116.8h0M161.0 117.5h0M164.7 115.0h0M157.2 119.3h0M160.2 116.7h0M163.7 114.4h0M160.9 115.2h0M162.5 116.1h0M163.7 119.4h0M157.0 117.4h0M158.4 119.3h0M157.6 118.9h0M162.9 117.2h0M164.0 116.5h0M156.3 115.6h0M159.4 120.7h0M164.7 117.0h0M155.7 120.3h0M162.3 118.1h0M162.5 118.5h0M157.6 118.7h0M159.6 117.6h0M163.9 118.5h0M158.0 116.6h0M159.9 117.0h0M164.8 120.1h0M159.6 115.7h0M163.4 117.5h0M161.1 117.0h0M157.7 119.3h0M161.1 118.8h0M164.8 117.0h0M158.3 119.4h0M160.3 114.9h0M159.6 117.2h0M166.6 120.3h0M173.5 116.5h0M172.1 117.3h0M165.2 118.1h0M173.9 116.1h0M173.0 117.2h0M174.7 119.4h0M166.6 116.4h0M165.6 117.5h0M173.3 117.5h0M166.2 118.0h0M166.2 120.5h0M168.4 117.9h0M165.2 116.2h0M168.0 119.3h0M173.9 115.6h0M166.1 116.7h0M174.7 119.1h0M166.8 120.4h0M169.3 117.8h0M168.5 118.0h0M171.8 120.0h0M172.5 117.8h0M172.9 114.5h0M171.6 116.9h0M168.1 118.3h0M167.5 116.0h0M166.4 115.2h0M168.3 115.5h0M172.4 116.9h0M169.1 120.0h0M170.5 120.3h0M166.7 116.5h0M171.4 116.5h0M169.1 118.2h0M170.3 117.8h0M171.6 118.9h0M167.7 115.0h0M167.6 120.7h0M170.1 116.0h0M173.0 118.6h0M170.4 119.1h0M174.1 117.0h0M171.2 117.0h0M169.2 116.2h0M174.6 115.3h0M166.7 117.5h0M166.2 118.3h0M165.4 115.4h0M165.0 117.4h0M165.6 119.0h0M172.2 116.7h0M166.8 118.6h0M168.9 116.5h0M167.4 119.9h0M164.7 117.0h0M166.0 116.7h0M167.0 120.3h0M174.3 119.5h0M167.0 115.8h0M168.2 116.0h0M173.5 116.2h0M173.6 116.0h0M167.8 115.5h0M173.5 116.5h0M165.6 118.2h0M166.5 115.3h0M172.8 119.9h0M165.6 117.2h0M167.6 115.2h0M169.2 119.0h0M175.6 115.6h0M168.9 118.5h0M168.2 116.0h0M163.3 118.6h0M169.9 115.6h0M169.2 117.6h0M166.5 119.5h0M166.4 115.2h0M170.3 119.4h0M174.7 119.5h0M171.0 119.8h0M167.2 118.3h0M173.9 119.2h0M173.5 119.8h0M170.9 118.4h0M169.2 116.3h0M171.9 117.1h0M165.1 117.9h0M170.2 115.6h0M172.5 116.8h0M166.5 119.5h0M171.7 115.4h0M172.3 117.5h0M170.7 117.4h0M169.3 115.7h0M168.4 119.9h0M173.2 119.1h0M168.2 117.0h0M174.6 117.2h0M173.7 118.8h0M168.3 115.4h0M172.3 118.7h0M170.5 120.7h0M169.6 117.1h0M169.9 118.2h0M170.1 120.9h0M165.5 119.0h0M174.7 116.6h0M170.1 119.9h0M176.9 118.3h0M182.2 117.5h0M175.6 118.1h0M178.1 119.3h0M176.8 116.2h0M176.6 118.6h0M177.5 118.2h0M177.7 115.9h0M180.1 115.8h0M175.6 115.7h0M178.4 118.5h0M180.4 120.3h0M174.7 116.4h0M180.5 119.8h0M182.9 116.3h0M181.4 116.6h0M184.1 119.4h0M176.7 121.3h0M179.9 115.1h0M182.9 118.4h0M180.7 117.6h0M177.5 116.5h0M174.1 120.4h0M176.6 120.3h0M176.9 115.4h0M176.7 120.1h0M181.5 117.5h0M179.3 120.2h0M181.5 120.0h0M179.1 120.7h0M176.0 116.9h0M183.6 120.3h0M181.0 118.5h0M178.3 116.4h0M177.1 119.2h0M185.9 115.3h0M183.6 117.9h0M182.9 118.2h0M179.8 115.8h0M176.2 118.5h0M180.9 114.6h0M179.2 118.1h0M176.7 116.3h0M175.9 116.4h0M184.7 114.8h0M175.1 118.4h0M180.0 118.1h0M180.3 116.7h0M183.6 115.4h0M177.2 118.3h0M184.0 119.5h0M179.0 119.1h0M180.5 119.9h0M178.6 119.6h0M176.4 120.3h0M176.1 119.1h0M179.4 118.0h0M175.2 119.5h0M181.0 119.3h0M177.9 120.2h0M183.1 120.5h0M180.9 116.8h0M184.1 115.8h0M182.4 116.8h0M178.4 115.3h0M184.3 116.8h0M186.2 119.7h0M181.1 117.8h0M181.2 117.0h0M181.0 118.3h0M182.2 116.4h0M184.7 119.2h0M185.0 115.9h0M182.9 116.1h0M183.2 116.2h0M175.7 118.8h0M177.9 120.8h0M181.6 116.3h0M177.7 120.2h0M182.0 118.8h0M179.5 119.9h0M176.1 120.2h0M176.9 118.1h0M173.7 116.4h0M182.6 117.2h0M180.2 116.0h0M176.2 120.1h0M179.7 117.1h0M181.9 119.3h0M175.7 119.7h0M177.0 119.5h0M182.9 118.0h0M177.2 118.7h0M180.8 114.7h0M184.1 120.2h0M179.9 119.7h0M178.9 117.2h0M178.9 120.8h0M184.5 115.7h0M179.6 114.9h0M178.4 120.2h0M181.2 118.2h0M181.5 118.3h0M175.5 117.7h0M179.6 115.6h0M177.0 118.7h0M182.8 119.2h0M180.5 115.5h0M182.2 118.9h0M176.7 118.7h0M194.1 117.1h0M194.8 118.6h0M194.1 116.8h0M188.8 116.3h0M191.9 119.4h0M187.0 119.4h0M187.4 119.1h0M186.6 118.3h0M188.4 118.0h0M188.9 117.7h0M192.4 120.2h0M186.7 119.9h0M188.9 116.0h0M195.5 116.9h0M191.1 118.2h0M194.7 117.8h0M188.4 116.9h0M188.2 118.6h0M190.6 118.6h0M184.8 114.5h0M188.3 116.4h0M186.7 117.8h0M194.5 115.8h0M186.6 117.9h0M191.1 119.3h0M185.9 117.6h0M194.5 116.7h0M194.8 117.8h0M189.3 117.0h0M187.6 118.1h0M186.3 116.9h0M192.2 120.3h0M186.0 118.5h0M186.6 118.6h0M188.0 116.7h0M190.5 119.2h0M188.9 118.0h0M194.6 118.4h0M196.4 119.3h0M189.5 120.1h0M193.2 119.0h0M194.1 115.4h0M189.1 120.8h0M186.6 118.1h0M189.9 116.8h0M188.8 118.5h0M189.4 118.2h0M192.3 116.4h0M191.3 119.0h0M187.3 116.4h0M188.4 116.4h0M191.0 117.9h0M189.8 119.1h0M195.5 116.1h0M190.5 114.8h0M193.6 119.0h0M186.7 118.4h0M187.1 118.6h0M190.0 115.8h0M192.9 120.5h0M191.8 116.6h0M190.5 117.3h0M187.5 118.6h0M185.5 119.2h0M194.6 116.7h0M194.2 118.6h0M192.2 118.2h0M189.8 116.8h0M193.3 116.5h0M186.6 116.9h0M190.1 116.6h0M191.3 119.2h0M193.6 115.5h0M194.3 115.9h0M192.8 118.0h0M192.3 119.1h0M187.0 119.1h0M190.1 117.7h0M186.7 114.3h0M191.9 118.2h0M191.6 118.0h0M186.4 114.2h0M189.1 117.2h0M189.4 118.2h0M190.7 119.1h0M192.6 119.4h0M189.5 119.4h0M193.3 121.0h0M190.0 120.7h0M189.7 117.6h0M193.3 118.3h0M186.9 116.9h0M187.2 117.3h0M189.8 115.2h0M186.0 115.8h0M192.4 119.9h0M188.4 119.2h0M195.3 116.8h0M186.1 114.1h0M189.9 119.6h0M191.2 115.4h0M188.1 117.0h0M192.9 115.4h0M189.1 118.6h0M187.0 118.1h0M192.0 119.9h0M185.0 119.0h0M185.2 119.5h0M186.5 117.7h0M187.4 118.9h0M203.1 118.9h0M201.2 121.6h0M200.4 117.2h0M203.7 117.1h0M205.1 116.5h0M201.8 117.3h0M201.8 117.4h0M196.5 118.1h0M201.7 116.9h0M203.8 116.0h0M195.3 119.8h0M204.0 118.0h0M196.1 120.3h0M199.9 120.5h0M203.9 119.5h0M203.7 120.0h0M197.8 118.0h0M194.7 119.3h0M196.3 117.6h0M197.5 117.6h0M199.3 117.5h0M198.7 115.3h0M197.8 117.5h0M201.8 118.1h0M196.7 118.0h0M202.8 116.2h0M196.4 119.5h0M203.6 118.8h0M203.0 119.6h0M204.1 118.7h0M197.2 116.8h0M201.4 119.1h0M202.4 118.7h0M195.9 117.6h0M199.5 119.6h0M203.5 117.4h0M205.8 118.5h0M199.3 118.5h0M202.7 120.0h0M205.4 115.7h0M194.6 119.0h0M203.2 118.5h0M201.0 119.4h0M205.4 118.9h0M205.1 118.4h0M204.6 115.0h0M202.1 116.0h0M195.2 117.5h0M193.9 115.6h0M197.8 118.6h0M203.7 115.4h0M203.5 120.3h0M198.9 115.8h0M202.5 117.4h0M199.8 119.3h0M199.9 117.3h0M195.5 118.0h0M202.5 116.0h0M202.5 119.1h0M198.5 118.1h0M202.9 117.9h0M205.1 117.2h0M200.9 113.7h0M199.7 115.6h0M203.9 119.8h0M198.8 120.6h0M201.6 118.4h0M204.6 118.8h0M198.2 119.0h0M198.2 117.6h0M201.5 116.2h0M196.9 119.0h0M199.6 119.9h0M198.2 117.3h0M201.6 118.6h0M202.3 116.9h0M197.7 117.9h0M197.9 117.6h0M199.9 116.1h0M196.7 119.9h0M203.8 116.7h0M200.4 119.8h0M201.6 119.9h0M202.1 117.7h0M197.0 117.1h0M199.4 119.4h0M197.0 119.4h0M204.0 117.9h0M197.2 120.3h0M198.8 119.6h0M198.2 115.4h0M203.6 118.4h0M197.2 118.9h0M200.9 116.9h0M201.3 120.7h0M199.5 115.2h0M197.2 115.8h0M195.3 119.7h0M199.7 118.5h0M206.2 117.5h0M198.2 114.5h0M197.6 119.4h0M197.7 116.4h0M202.9 117.0h0M201.0 117.0h0M197.1 115.8h0M205.1 116.7h0M196.9 118.1h0M196.5 119.6h0M201.9 117.2h0M214.2 118.6h0M213.1 118.4h0M210.3 117.7h0M206.3 119.0h0M210.3 118.0h0M212.6 120.6h0M206.3 115.7h0M212.5 115.7h0M209.5 119.3h0M208.2 115.3h0M211.8 117.0h0M204.9 117.3h0M212.7 115.9h0M212.1 115.1h0M206.8 116.3h0M209.1 117.8h0M211.8 116.9h0M213.9 118.3h0M211.5 115.1h0M205.7 118.8h0M212.0 116.4h0M210.8 120.0h0M208.6 118.0h0M215.0 119.4h0M208.4 117.5h0M206.8 119.6h0M214.3 117.5h0M215.0 116.2h0M208.8 119.8h0M207.2 121.2h0M213.1 116.6h0M205.4 116.1h0M212.7 118.1h0M212.9 118.5h0M203.6 115.5h0M211.3 117.5h0M206.7 119.2h0M211.6 116.9h0M213.6 116.3h0M210.3 116.8h0M208.3 118.7h0M209.1 117.9h0M206.3 119.1h0M212.0 118.1h0M205.8 116.6h0M211.3 119.6h0M207.0 118.9h0M209.0 114.7h0M213.8 116.4h0M214.9 118.0h0M217.8 115.9h0M224.2 115.7h0M219.4 118.3h0M223.0 118.5h0M219.8 116.4h0M220.1 120.3h0M219.3 117.6h0M216.5 118.3h0M220.2 118.4h0M216.8 118.1h0M218.7 116.0h0M220.8 115.5h0M220.8 117.4h0M222.5 116.3h0M221.4 119.6h0M223.0 119.8h0M218.7 117.1h0M215.3 117.7h0M230.1 117.2h0M230.4 116.5h0M229.0 119.9h0M235.2 115.7h0M227.1 117.8h0M233.2 117.0h0M226.3 116.0h0M230.2 118.2h0M225.8 118.4h0M230.5 117.9h0M224.6 117.4h0M232.2 121.1h0M232.0 116.8h0M227.5 116.3h0M233.2 117.7h0M226.8 116.8h0M231.8 119.9h0M224.9 117.9h0M238.2 117.4h0M242.7 119.9h0M244.2 119.3h0M240.5 120.7h0M240.2 118.7h0M237.0 115.7h0M240.8 117.1h0M236.0 119.8h0M235.8 117.4h0M243.5 117.1h0M237.3 115.7h0M235.8 115.8h0M236.8 116.8h0M245.1 116.2h0M238.0 116.5h0M239.2 115.4h0M239.7 117.4h0M237.7 117.4h0M251.7 119.5h0M254.7 115.2h0M252.0 117.0h0M251.7 116.0h0M252.4 117.2h0M249.9 114.8h0M143.3 124.4h0M138.1 125.3h0M147.0 120.6h0M146.9 121.6h0M153.6 123.4h0M154.8 123.0h0M152.4 125.7h0M151.8 122.1h0M147.1 124.2h0M147.3 122.2h0M150.6 124.4h0M146.8 121.3h0M149.2 123.4h0M150.2 122.7h0M145.9 120.2h0M152.8 124.1h0M149.3 124.0h0M155.6 121.0h0M153.9 123.0h0M146.0 121.3h0M160.4 122.3h0M161.6 123.9h0M162.0 120.9h0M164.6 123.7h0M156.3 120.3h0M155.9 123.1h0M155.0 121.9h0M163.4 122.6h0M159.9 125.6h0M163.4 122.4h0M160.9 123.9h0M165.8 122.2h0M156.1 121.6h0M155.3 122.6h0M161.9 125.0h0M163.2 124.8h0M159.9 123.9h0M161.8 125.4h0M156.2 124.9h0M160.0 121.2h0M160.4 123.2h0M164.7 125.1h0M159.7 124.9h0M162.3 123.5h0M164.5 122.8h0M160.6 120.7h0M159.7 121.8h0M155.4 125.4h0M156.8 121.3h0M165.0 122.5h0M159.5 122.4h0M157.8 121.7h0M158.0 124.2h0M162.0 124.6h0M162.3 124.5h0M157.3 120.7h0M160.4 125.7h0M157.9 123.5h0M164.8 120.0h0M158.1 123.4h0M157.6 123.3h0M157.2 121.8h0M158.1 122.7h0M160.9 125.2h0M156.6 119.3h0M161.6 125.0h0M161.0 124.8h0M156.3 122.0h0M163.1 125.5h0M164.1 123.4h0M169.2 123.1h0M167.8 121.8h0M171.7 123.7h0M167.5 123.0h0M170.2 120.3h0M168.5 121.1h0M166.1 124.8h0M173.5 124.1h0M174.9 122.4h0M173.7 121.1h0M172.9 121.7h0M168.3 123.9h0M169.9 126.3h0M171.0 125.0h0M165.6 124.4h0M169.0 122.5h0M173.5 121.4h0M169.8 121.8h0M168.9 122.0h0M169.3 123.0h0M166.4 123.9h0M166.5 123.2h0M167.5 121.9h0M173.1 120.0h0M173.8 121.8h0M173.2 121.2h0M167.4 124.2h0M171.1 122.0h0M171.7 124.0h0M165.6 123.8h0M167.6 120.5h0M170.3 124.5h0M168.0 124.3h0M164.8 122.2h0M171.4 122.5h0M168.3 120.8h0M173.8 123.1h0M166.6 124.3h0M175.0 122.3h0M167.2 120.6h0M171.6 120.9h0M169.4 124.1h0M166.8 120.8h0M172.5 123.2h0M172.5 123.2h0M171.4 122.4h0M164.9 121.3h0M167.9 124.5h0M166.2 120.2h0M171.7 124.5h0M175.8 120.8h0M182.0 124.9h0M180.5 123.5h0M176.5 122.1h0M183.6 122.1h0M174.9 123.5h0M176.4 119.6h0M176.1 122.9h0M179.3 122.2h0M185.0 123.0h0M180.1 124.4h0M177.5 122.9h0M182.9 123.4h0M183.7 123.3h0M182.2 125.0h0M176.2 122.3h0M176.6 124.1h0M173.3 121.3h0M177.8 124.4h0M175.3 124.4h0M181.5 120.3h0M181.7 122.9h0M182.7 121.4h0M178.4 122.6h0M180.7 120.6h0M175.9 121.9h0M178.4 121.0h0M179.4 123.7h0M180.3 125.6h0M177.5 124.2h0M184.5 123.8h0M180.4 124.5h0M180.4 121.7h0M177.6 124.0h0M177.1 125.5h0M176.0 122.1h0M178.5 124.1h0M179.6 122.8h0M184.4 123.8h0M181.1 123.5h0M178.1 124.5h0M182.2 120.2h0M175.7 120.7h0M183.7 121.8h0M179.6 122.7h0M184.3 121.8h0M182.9 124.1h0M175.9 120.5h0M178.8 122.0h0M183.8 125.7h0M190.3 123.9h0M187.2 120.2h0M188.3 122.1h0M189.2 124.5h0M188.7 124.2h0M191.8 123.3h0M185.2 122.7h0M194.1 119.9h0M194.1 124.7h0M186.6 121.4h0M189.9 123.1h0M191.1 122.2h0M188.1 121.8h0M192.0 120.7h0M192.6 121.1h0M193.8 121.4h0M185.4 121.8h0M189.3 124.8h0M188.3 121.3h0M191.8 125.1h0M189.9 123.9h0M196.7 123.0h0M188.7 120.7h0M192.3 124.0h0M186.1 122.5h0M192.7 121.9h0M186.9 125.2h0M187.0 122.0h0M191.4 124.4h0M193.1 124.0h0M185.0 124.6h0M193.6 123.3h0M189.9 124.2h0M191.1 123.4h0M193.5 124.3h0M191.0 122.3h0M191.9 123.8h0M191.3 124.1h0M187.6 124.0h0M185.4 121.8h0M188.7 120.8h0M191.6 123.5h0M186.8 121.7h0M188.9 121.7h0M191.3 122.7h0M192.1 120.0h0M191.4 119.4h0M185.6 123.9h0M192.1 124.0h0M194.6 121.3h0M195.2 120.8h0M195.4 121.9h0M197.1 121.5h0M197.9 125.3h0M196.6 121.7h0M203.3 125.0h0M198.3 124.4h0M198.4 122.1h0M198.5 122.9h0M200.4 125.4h0M201.7 121.6h0M198.8 122.1h0M199.7 123.5h0M202.7 120.9h0M205.6 125.4h0M197.1 121.1h0M201.5 121.1h0M202.7 122.7h0M203.0 124.7h0M201.7 122.0h0M204.0 120.8h0M199.4 122.9h0M203.4 123.0h0M194.5 124.3h0M201.9 122.4h0M201.7 122.8h0M200.0 122.5h0M200.5 124.2h0M203.0 122.2h0M199.3 121.8h0M204.6 122.6h0M199.6 121.5h0M195.9 123.4h0M197.6 123.5h0M204.7 122.3h0M198.9 124.1h0M201.4 119.7h0M202.4 121.8h0M203.3 120.3h0M196.4 122.5h0M199.0 124.2h0M204.0 122.2h0M203.2 121.9h0M203.8 123.1h0M200.9 122.7h0M197.4 125.1h0M197.5 125.7h0M200.1 122.3h0M199.8 122.5h0M203.4 123.1h0M211.3 123.5h0M214.8 124.3h0M208.0 124.9h0M208.8 121.4h0M213.7 121.9h0M211.3 125.2h0M214.6 126.0h0M212.8 122.1h0M211.1 124.2h0M206.8 125.2h0M211.3 121.0h0M207.4 123.6h0M209.1 125.1h0M215.8 123.0h0M211.1 121.5h0M209.9 123.3h0M204.7 121.6h0M206.6 124.4h0M216.6 123.0h0M235.4 121.0h0M235.2 125.1h0M147.3 131.1h0M162.3 128.2h0M161.6 126.4h0M156.8 128.5h0M156.2 128.2h0M158.7 125.5h0M161.9 130.4h0M165.7 128.1h0M173.0 125.3h0M174.7 126.3h0M170.0 127.6h0M168.7 127.8h0M172.5 130.9h0M179.3 127.9h0M176.4 125.4h0M177.4 126.7h0M175.4 127.2h0M185.0 126.5h0M178.0 130.8h0M195.8 129.4h0M186.0 126.3h0M185.3 126.4h0M191.3 126.4h0M190.9 127.5h0M191.7 128.9h0M200.6 127.9h0M199.8 126.6h0M195.7 128.2h0M203.8 129.5h0M204.2 129.0h0M204.8 124.8h0M211.2 129.2h0M208.1 127.4h0M205.6 126.5h0M209.3 128.8h0M207.2 127.2h0M209.8 124.5h0M216.9 127.6h0M227.2 126.7h0M228.1 125.2h0M179.3 134.7h0M181.3 131.9h0M188.1 131.9h0M190.4 132.5h0M197.5 132.9h0M200.2 133.5h0M209.2 130.0h0M205.2 133.2h0M253.6 116.5h0M258.7 117.5h0M264.8 118.0h0M200.5 137.3h0M179.5 143.3h0M293.0 95.8h0M254.0 102.3h0M199.7 78.7h0" stroke="#111" stroke-width="1.6" stroke-linecap="round" fill="none"/>
<path d="M44.6 99.5H366.9M44.6 127.0H366.9" stroke="#666" stroke-width="1.1" stroke-dasharray="2.8 1.9" fill="none"/>
<path d="M44.6 113.80000000000001H366.9" stroke="#555" stroke-width="1.1" fill="none"/>
<path d="M44.6 113.60000000000002L366.9 113.10000000000002" stroke="#f03030" stroke-width="1.1" fill="none"/>
<path d="M44.6 12V214M39.8 206.5H366.9M39.8 19.5H44.6M39.8 66.2H44.6M39.8 113H44.6M39.8 159.8H44.6M125.2 206.5V211.6M205.8 206.5V211.6M286.3 206.5V211.6M366.9 206.5V211.6" stroke="#8a8a8a" stroke-width="1.2" fill="none"/>
<text x="35.2" y="23.6" class="t" text-anchor="end">100</text>
<text x="35.2" y="70.4" class="t" text-anchor="end">50</text>
<text x="35.2" y="117.2" class="t" text-anchor="end">0</text>
<text x="35.2" y="163.9" class="t" text-anchor="end">-50</text>
<text x="35.2" y="210.7" class="t" text-anchor="end">-100</text>
<text x="44.6" y="224.9" class="t" text-anchor="middle">0</text>
<text x="125.2" y="224.9" class="t" text-anchor="middle">50</text>
<text x="205.8" y="224.9" class="t" text-anchor="middle">100</text>
<text x="286.3" y="224.9" class="t" text-anchor="middle">150</text>
<text x="366.9" y="224.9" class="t" text-anchor="middle">200</text>
<text x="205.8" y="241.5" class="al" text-anchor="middle">Average (mmHg)</text>
<text transform="translate(10.6,113.9) rotate(-90)" class="al yl" text-anchor="middle" xml:space="preserve">Difference;  VCM - Intra-arterial (mmHg)</text>
<text x="205.8" y="10.8" class="ti" text-anchor="middle">Mean arterial blood pressure</text>
<path d="M195 24.2H212.5" stroke="#555" stroke-width="1.1"/>
<path d="M195 36.4H212.5" stroke="#666" stroke-width="1.1" stroke-dasharray="2.6 2"/>
<path d="M195 47.9H212.5" stroke="#f06060" stroke-width="1.3"/>
<text x="220.9" y="27.8" class="lg">Mean bias</text>
<text x="220.9" y="39.3" class="lg">Limits of agreement</text>
<text x="220.9" y="51.5" class="lg">Correlation between bias and mean</text>
<text x="223.6" y="64" class="lg">r<tspan dy="-4" font-size="7.5">2</tspan><tspan dy="4" dx="-0.6"> : 0.00 (95% CI 0.00-0.00)</tspan></text>
</g>
<g transform="translate(408.2,269.7)">
<path d="M164.9 94.2h0M192.9 94.2h0M193.4 91.7h0M207.6 92.4h0M221.7 90.3h0M211.4 94.2h0M266.8 90.8h0M154.3 101.1h0M160.0 100.5h0M174.8 95.0h0M172.9 100.1h0M185.3 97.1h0M193.1 97.0h0M199.3 96.4h0M212.3 99.3h0M205.3 98.3h0M209.0 95.6h0M202.9 100.2h0M210.6 100.8h0M205.6 98.6h0M235.0 95.9h0M142.3 103.6h0M131.9 100.4h0M149.9 103.3h0M143.3 101.6h0M147.9 105.4h0M146.6 102.2h0M150.1 100.2h0M147.0 104.6h0M155.0 100.9h0M154.5 100.2h0M156.5 101.5h0M159.8 103.8h0M159.8 100.8h0M153.2 103.0h0M171.0 103.6h0M171.2 105.5h0M168.5 100.3h0M171.4 102.3h0M164.5 103.7h0M165.0 101.0h0M172.8 101.3h0M177.2 101.8h0M175.9 102.7h0M175.0 101.4h0M174.6 104.1h0M174.2 106.4h0M173.0 102.8h0M174.4 104.3h0M176.3 103.4h0M172.4 102.1h0M177.1 101.9h0M173.0 105.2h0M172.7 103.4h0M179.6 103.9h0M175.2 101.4h0M174.7 102.2h0M180.4 101.0h0M172.9 103.2h0M189.6 100.5h0M182.4 102.0h0M182.9 104.8h0M180.8 102.0h0M183.6 106.4h0M191.1 100.3h0M187.2 103.7h0M192.6 100.5h0M189.7 101.7h0M191.4 100.8h0M182.4 103.6h0M187.5 103.1h0M192.0 102.6h0M190.5 103.3h0M191.3 101.0h0M185.3 102.4h0M190.8 106.1h0M185.7 104.8h0M198.5 101.8h0M199.4 102.1h0M201.4 100.2h0M200.4 104.0h0M200.3 99.6h0M192.1 102.5h0M197.8 102.1h0M192.6 103.3h0M201.2 102.4h0M191.9 101.8h0M195.8 102.7h0M192.3 104.3h0M198.7 104.4h0M192.6 103.0h0M193.3 103.4h0M194.4 103.6h0M199.2 105.2h0M198.3 101.5h0M203.6 106.0h0M204.0 100.8h0M205.9 103.6h0M207.1 105.0h0M203.2 104.2h0M208.2 102.8h0M200.2 102.6h0M209.6 100.8h0M208.9 102.6h0M205.5 105.4h0M210.6 103.4h0M211.7 104.7h0M208.0 101.9h0M208.2 100.9h0M203.6 104.4h0M207.7 102.4h0M212.3 99.8h0M208.4 101.6h0M217.2 99.5h0M221.6 102.7h0M216.1 102.5h0M220.3 104.4h0M219.9 99.9h0M218.5 100.2h0M224.9 104.5h0M225.6 103.4h0M230.1 101.4h0M228.0 100.5h0M221.9 101.9h0M222.8 102.9h0M237.7 102.5h0M238.2 103.7h0M236.7 101.2h0M238.9 101.2h0M237.7 101.4h0M236.8 104.1h0M248.6 102.9h0M146.4 106.2h0M145.0 110.0h0M145.1 108.4h0M142.0 110.7h0M149.4 105.9h0M144.8 109.9h0M154.7 109.8h0M159.1 105.6h0M159.6 105.7h0M156.6 106.4h0M154.5 108.1h0M160.6 109.8h0M154.3 106.4h0M158.9 108.2h0M154.1 108.8h0M159.6 106.8h0M154.2 105.2h0M159.0 110.7h0M153.2 106.6h0M159.1 108.9h0M156.6 109.3h0M156.5 105.4h0M158.4 107.6h0M154.8 110.6h0M162.2 106.5h0M167.4 107.5h0M168.7 106.4h0M172.7 107.1h0M164.1 108.3h0M165.6 105.3h0M169.0 109.7h0M165.9 104.3h0M165.0 107.3h0M166.2 106.2h0M171.8 107.9h0M166.4 110.1h0M170.9 110.2h0M168.2 109.5h0M170.6 106.6h0M166.5 109.4h0M165.2 105.7h0M169.4 106.0h0M174.6 108.0h0M171.2 108.0h0M177.7 109.8h0M181.6 109.0h0M172.2 107.1h0M179.4 107.4h0M179.4 105.7h0M173.0 108.4h0M175.5 109.1h0M177.0 109.5h0M182.2 107.5h0M176.4 106.2h0M171.4 105.4h0M179.5 106.2h0M177.0 109.5h0M178.3 109.6h0M182.5 105.1h0M172.7 109.0h0M180.6 106.1h0M171.6 107.0h0M178.2 106.6h0M175.3 106.3h0M179.9 108.8h0M171.8 108.8h0M173.1 108.1h0M175.2 106.8h0M177.5 106.3h0M176.8 107.9h0M179.7 109.9h0M181.8 107.2h0M177.4 108.1h0M177.1 109.2h0M173.9 109.4h0M177.7 109.9h0M181.4 105.8h0M181.8 106.2h0M172.8 107.0h0M174.2 107.2h0M174.4 109.1h0M181.3 108.0h0M176.6 106.0h0M171.8 106.6h0M180.6 108.7h0M170.6 108.1h0M175.3 104.9h0M178.3 109.9h0M178.9 110.8h0M172.0 108.7h0M172.7 107.6h0M178.0 109.8h0M190.8 106.0h0M185.6 107.2h0M187.6 111.1h0M185.9 107.4h0M183.4 106.5h0M191.2 106.8h0M187.2 109.5h0M191.2 108.6h0M183.9 109.9h0M189.4 105.8h0M184.8 109.6h0M183.7 108.6h0M191.5 110.2h0M189.7 105.0h0M192.8 108.4h0M184.1 107.2h0M182.0 106.0h0M183.6 106.7h0M186.3 108.7h0M185.7 108.0h0M187.0 108.2h0M181.4 106.5h0M189.6 108.2h0M183.6 109.4h0M189.7 110.0h0M190.1 108.5h0M191.3 106.0h0M186.9 109.6h0M185.1 108.4h0M188.0 110.6h0M190.9 107.9h0M187.3 105.6h0M184.9 108.5h0M191.7 106.1h0M184.7 106.3h0M180.9 108.0h0M186.1 106.0h0M188.7 109.7h0M189.7 108.2h0M185.6 109.8h0M186.1 108.8h0M192.5 107.2h0M188.1 105.5h0M188.8 110.2h0M191.3 108.5h0M186.6 107.9h0M191.9 109.3h0M189.3 106.8h0M188.1 108.1h0M191.1 109.5h0M200.7 107.0h0M195.1 107.5h0M192.8 107.8h0M192.2 106.0h0M199.8 108.5h0M199.6 107.9h0M200.0 106.3h0M200.9 107.0h0M198.6 109.6h0M201.0 104.6h0M198.7 108.5h0M200.3 110.6h0M198.9 109.3h0M199.0 106.0h0M195.0 109.6h0M190.3 106.5h0M197.7 109.5h0M200.3 109.3h0M194.7 109.4h0M197.0 108.1h0M198.2 109.7h0M200.0 109.3h0M194.8 108.4h0M195.6 109.5h0M192.3 107.0h0M193.2 109.8h0M197.4 109.6h0M196.8 108.5h0M198.3 106.2h0M198.9 106.1h0M195.1 109.4h0M198.5 107.5h0M196.5 110.1h0M197.5 109.5h0M198.6 109.9h0M196.9 110.5h0M194.6 107.4h0M197.6 107.2h0M191.4 109.1h0M201.7 108.8h0M201.6 105.7h0M196.6 106.6h0M193.1 109.2h0M200.5 110.1h0M192.0 106.7h0M194.7 107.6h0M200.9 108.5h0M192.4 107.8h0M200.6 109.7h0M198.8 111.6h0M203.8 107.1h0M204.9 107.6h0M201.7 108.5h0M208.2 108.7h0M205.3 105.6h0M201.8 109.5h0M211.3 108.9h0M202.8 109.1h0M205.4 106.5h0M200.4 108.4h0M207.7 107.1h0M208.6 107.9h0M204.2 110.1h0M202.3 105.6h0M200.5 109.8h0M208.6 109.2h0M211.6 107.0h0M207.7 109.7h0M205.9 108.9h0M203.7 107.1h0M206.4 107.7h0M208.7 106.7h0M210.3 106.6h0M208.4 106.4h0M206.0 107.8h0M203.8 106.6h0M209.1 109.5h0M207.8 106.4h0M203.7 109.7h0M203.7 110.0h0M201.8 107.8h0M202.2 108.0h0M209.9 107.1h0M204.4 108.4h0M210.3 107.0h0M204.5 107.9h0M209.4 107.0h0M211.4 106.8h0M202.5 107.4h0M204.4 110.4h0M211.6 107.8h0M204.4 107.7h0M206.7 107.0h0M203.9 106.2h0M208.8 110.2h0M207.0 108.0h0M209.2 107.1h0M203.3 108.8h0M208.3 107.4h0M212.1 105.8h0M216.1 108.9h0M216.6 106.6h0M221.5 105.9h0M213.4 107.7h0M216.8 108.2h0M221.3 107.7h0M220.2 106.4h0M218.5 106.2h0M214.8 107.2h0M220.9 107.9h0M211.6 106.5h0M221.2 108.2h0M213.1 106.9h0M222.0 109.7h0M219.2 106.0h0M219.4 108.3h0M216.0 105.2h0M219.1 106.2h0M215.4 108.6h0M216.4 109.2h0M216.4 107.5h0M221.5 108.8h0M221.2 105.3h0M220.9 106.4h0M215.0 109.7h0M213.9 110.0h0M213.9 108.4h0M218.5 109.8h0M213.1 106.7h0M214.2 108.0h0M219.5 109.3h0M219.0 104.9h0M220.4 108.6h0M214.8 108.3h0M217.4 106.8h0M222.6 110.3h0M214.4 108.6h0M211.4 105.1h0M212.4 109.2h0M216.9 108.1h0M219.6 110.6h0M218.5 105.7h0M216.4 110.1h0M220.6 108.5h0M218.4 107.1h0M213.1 105.6h0M216.2 110.5h0M213.4 110.1h0M213.1 107.9h0M218.3 105.1h0M227.8 106.6h0M228.9 110.8h0M225.7 106.9h0M229.1 106.5h0M227.0 109.0h0M223.9 108.6h0M231.3 109.0h0M224.7 108.8h0M222.6 108.1h0M225.6 107.6h0M231.2 108.0h0M225.2 108.7h0M230.7 108.4h0M223.7 107.1h0M221.2 109.9h0M227.0 110.5h0M223.2 107.8h0M230.4 110.3h0M231.1 107.3h0M237.1 108.7h0M232.5 109.6h0M241.8 106.4h0M240.7 107.8h0M236.4 105.9h0M239.2 109.0h0M234.1 107.9h0M233.2 108.1h0M240.7 107.4h0M240.4 110.5h0M231.9 109.4h0M234.1 108.5h0M237.4 107.5h0M233.4 105.1h0M232.0 109.3h0M237.4 109.8h0M236.7 108.5h0M248.2 108.1h0M244.8 108.5h0M249.3 106.4h0M249.1 106.5h0M243.6 108.9h0M245.7 105.6h0M251.5 106.7h0M258.9 105.5h0M271.7 109.5h0M272.8 108.4h0M266.0 109.3h0M264.5 109.5h0M268.5 105.6h0M260.6 109.0h0M272.7 109.5h0M274.2 106.3h0M139.6 114.7h0M148.0 113.8h0M153.0 112.0h0M158.0 113.6h0M154.0 116.0h0M152.7 112.9h0M162.3 110.5h0M154.2 112.3h0M172.6 114.0h0M167.0 114.8h0M167.0 113.6h0M162.9 111.9h0M168.5 114.8h0M165.1 113.6h0M173.1 110.2h0M173.6 114.4h0M174.7 111.9h0M176.9 112.8h0M172.5 111.8h0M178.3 114.2h0M178.2 114.8h0M179.9 115.0h0M177.5 112.4h0M179.1 114.2h0M176.8 115.0h0M174.0 111.0h0M174.8 114.9h0M177.6 111.0h0M182.1 114.8h0M174.8 115.7h0M181.6 112.6h0M179.5 112.8h0M183.7 111.0h0M183.1 111.3h0M185.3 112.4h0M186.4 112.1h0M186.5 113.0h0M191.1 113.5h0M188.2 113.2h0M181.7 111.1h0M187.9 113.7h0M183.0 111.7h0M183.1 112.5h0M189.8 112.9h0M191.8 113.4h0M186.9 112.3h0M183.3 111.4h0M187.1 112.4h0M182.3 113.2h0M190.5 111.0h0M186.4 112.7h0M183.9 111.3h0M189.9 113.5h0M182.7 114.0h0M191.5 112.7h0M183.6 112.4h0M185.2 114.9h0M184.9 115.2h0M189.0 112.0h0M189.3 112.9h0M189.9 113.0h0M181.2 112.5h0M188.6 114.4h0M182.2 111.2h0M184.7 114.1h0M186.8 110.8h0M190.0 113.3h0M190.7 111.0h0M188.3 112.4h0M186.7 111.8h0M188.1 114.0h0M183.5 111.8h0M185.0 114.4h0M183.0 112.7h0M184.0 115.2h0M190.8 114.7h0M187.8 109.7h0M189.0 110.5h0M192.0 113.9h0M190.1 111.2h0M184.5 113.8h0M183.8 111.7h0M189.4 114.8h0M191.2 111.6h0M188.1 114.9h0M185.1 112.2h0M190.6 111.3h0M190.8 111.3h0M189.0 114.2h0M181.6 115.3h0M191.0 111.2h0M191.0 112.6h0M185.8 110.9h0M186.8 109.3h0M184.9 112.6h0M187.7 112.4h0M189.6 112.4h0M190.6 111.5h0M189.7 111.2h0M184.5 115.2h0M184.1 114.0h0M186.6 113.3h0M182.9 112.1h0M181.8 114.4h0M189.2 115.8h0M183.2 111.3h0M183.0 113.9h0M190.2 115.7h0M185.5 113.1h0M185.1 114.6h0M187.2 110.6h0M190.3 111.1h0M188.8 112.1h0M187.6 114.0h0M183.6 112.8h0M182.2 114.6h0M184.9 115.5h0M185.5 112.6h0M185.9 112.9h0M191.5 112.6h0M183.9 113.9h0M185.3 112.9h0M186.1 110.4h0M184.0 112.1h0M187.6 112.1h0M192.2 115.0h0M181.9 115.0h0M187.1 110.5h0M182.2 110.9h0M189.1 112.8h0M184.7 110.8h0M190.9 112.0h0M184.0 111.3h0M188.8 114.5h0M182.4 114.4h0M187.5 113.6h0M192.2 114.8h0M182.5 112.9h0M191.9 110.8h0M183.1 111.0h0M183.2 113.7h0M187.2 111.7h0M195.8 115.6h0M198.9 110.0h0M201.1 112.7h0M196.0 115.2h0M195.3 112.4h0M200.1 112.3h0M201.0 115.5h0M202.2 114.7h0M193.1 111.5h0M201.9 112.2h0M190.4 113.2h0M195.1 110.8h0M199.5 111.6h0M196.6 112.7h0M195.1 112.5h0M197.8 111.8h0M195.9 111.0h0M192.0 111.2h0M198.1 114.6h0M197.2 111.2h0M194.7 110.2h0M200.7 115.8h0M197.0 112.1h0M191.5 114.6h0M194.4 111.9h0M200.0 110.4h0M199.5 112.8h0M193.4 110.5h0M198.7 110.8h0M194.5 110.9h0M198.0 114.8h0M198.4 113.9h0M192.8 113.2h0M193.9 112.4h0M197.7 111.6h0M198.7 112.5h0M192.5 114.5h0M195.1 113.5h0M201.0 112.5h0M200.7 113.9h0M199.0 112.7h0M200.2 114.3h0M199.6 114.9h0M197.3 112.9h0M200.6 111.7h0M194.4 113.4h0M195.6 114.7h0M199.6 113.9h0M200.5 113.1h0M198.4 111.8h0M197.6 112.0h0M194.3 110.9h0M195.9 113.3h0M200.7 113.2h0M201.7 113.1h0M200.2 115.1h0M200.9 112.0h0M198.5 111.7h0M191.9 111.7h0M193.9 111.6h0M198.8 113.2h0M198.7 112.2h0M194.3 114.8h0M192.5 111.0h0M199.8 110.7h0M201.6 110.4h0M199.9 110.8h0M191.3 110.2h0M195.3 109.9h0M194.5 110.8h0M192.1 112.6h0M200.7 114.3h0M194.3 111.3h0M195.9 113.6h0M195.4 114.7h0M195.8 114.8h0M200.9 112.4h0M197.1 115.3h0M191.7 114.2h0M198.8 111.2h0M200.7 113.8h0M196.9 114.2h0M199.5 112.9h0M193.0 112.5h0M192.5 110.8h0M195.2 112.5h0M195.6 111.3h0M191.6 115.1h0M198.6 113.8h0M193.6 111.1h0M192.2 113.3h0M196.5 110.8h0M194.6 110.5h0M195.9 110.4h0M198.2 113.7h0M199.0 112.4h0M191.8 113.8h0M198.8 112.7h0M192.3 111.9h0M192.6 115.0h0M194.0 112.2h0M193.6 110.3h0M201.4 113.4h0M197.1 111.7h0M192.4 111.4h0M196.8 112.1h0M197.1 111.5h0M193.9 113.6h0M199.5 112.7h0M199.1 111.8h0M203.2 116.2h0M201.1 111.6h0M209.8 110.8h0M203.4 110.7h0M204.4 112.9h0M212.5 113.5h0M208.3 115.6h0M209.2 110.9h0M208.1 113.6h0M203.6 111.5h0M211.8 111.4h0M209.8 111.5h0M206.6 114.2h0M207.8 109.9h0M209.1 112.1h0M202.8 114.0h0M206.6 114.0h0M210.0 115.2h0M210.9 111.4h0M205.0 112.0h0M202.0 110.3h0M210.4 109.2h0M212.3 112.6h0M205.3 113.9h0M208.6 113.7h0M207.6 114.4h0M202.5 115.2h0M202.7 111.6h0M208.6 111.8h0M206.9 115.5h0M208.3 114.8h0M211.8 113.9h0M209.2 110.9h0M202.6 114.7h0M203.1 113.5h0M209.5 112.8h0M207.8 113.3h0M210.1 113.5h0M205.9 115.0h0M203.3 112.2h0M204.9 112.9h0M204.3 113.3h0M208.6 111.2h0M207.3 115.4h0M205.4 114.5h0M206.9 110.8h0M208.1 112.9h0M206.8 113.3h0M202.6 112.2h0M211.8 109.9h0M205.8 111.1h0M209.2 111.6h0M208.6 112.1h0M211.6 110.9h0M201.8 112.2h0M210.1 111.5h0M205.3 111.8h0M209.8 112.4h0M208.2 111.2h0M205.5 112.3h0M211.0 110.5h0M202.7 113.3h0M204.3 115.8h0M210.9 113.4h0M211.9 112.7h0M212.9 114.8h0M210.8 111.3h0M207.5 111.4h0M207.6 112.7h0M202.9 111.6h0M211.6 110.2h0M205.5 114.5h0M202.9 113.4h0M204.5 111.0h0M209.1 114.2h0M211.5 112.6h0M208.8 111.7h0M202.8 112.9h0M210.6 111.9h0M203.2 112.2h0M210.6 110.6h0M206.6 112.4h0M210.2 112.3h0M208.6 111.1h0M201.9 116.3h0M204.0 111.4h0M208.5 111.2h0M211.9 110.4h0M205.6 113.8h0M206.7 112.7h0M203.1 111.7h0M210.9 114.5h0M204.6 111.4h0M207.2 114.1h0M202.3 112.3h0M208.1 115.4h0M211.5 113.9h0M210.8 113.9h0M203.9 113.6h0M204.7 111.7h0M203.4 115.1h0M210.7 111.8h0M211.3 114.8h0M205.3 111.3h0M204.6 113.9h0M206.0 112.8h0M203.5 112.4h0M204.9 114.2h0M210.6 112.0h0M211.2 111.3h0M215.9 113.6h0M213.1 111.4h0M220.1 115.4h0M220.8 113.7h0M216.2 115.6h0M215.1 114.6h0M214.1 114.2h0M214.1 112.8h0M217.8 113.9h0M212.7 113.6h0M215.4 111.1h0M213.1 111.7h0M211.7 111.7h0M217.7 110.6h0M214.7 113.3h0M217.5 111.0h0M219.1 112.6h0M222.2 114.2h0M210.8 115.1h0M220.1 112.4h0M212.8 111.8h0M216.0 112.8h0M215.4 111.8h0M213.4 111.8h0M214.9 115.1h0M217.2 110.8h0M212.8 114.5h0M221.2 112.3h0M216.4 111.0h0M217.0 112.7h0M219.4 114.9h0M218.3 111.2h0M218.7 112.7h0M215.4 111.5h0M215.3 112.9h0M213.4 109.6h0M217.7 114.4h0M214.1 111.9h0M219.1 112.7h0M215.4 111.5h0M217.7 111.4h0M215.1 114.6h0M216.8 109.7h0M221.0 112.6h0M213.4 111.4h0M212.6 112.7h0M216.8 113.1h0M222.4 114.8h0M214.1 113.1h0M215.7 113.8h0M215.3 110.9h0M217.0 115.1h0M214.0 115.5h0M221.7 110.5h0M214.4 114.9h0M217.9 112.4h0M216.8 114.2h0M214.0 112.2h0M219.0 113.5h0M218.3 109.6h0M217.9 113.8h0M217.7 113.8h0M217.7 110.8h0M214.6 111.1h0M213.9 113.6h0M213.7 109.5h0M220.8 112.8h0M220.6 111.0h0M216.3 111.1h0M214.0 113.2h0M213.7 113.7h0M214.7 112.6h0M218.6 110.6h0M221.1 114.3h0M214.6 113.6h0M212.6 113.9h0M215.0 110.6h0M219.8 114.0h0M219.5 113.5h0M215.3 112.8h0M218.5 111.0h0M216.9 114.6h0M220.7 113.7h0M213.5 110.3h0M221.4 112.5h0M211.9 110.3h0M212.2 112.3h0M215.3 111.9h0M216.6 111.1h0M215.8 114.5h0M219.8 112.1h0M221.0 115.0h0M219.3 111.0h0M215.6 113.1h0M216.7 110.5h0M217.0 111.5h0M215.9 115.6h0M217.0 111.2h0M222.1 113.9h0M217.3 115.2h0M220.4 110.3h0M212.8 115.8h0M215.2 111.0h0M220.1 112.0h0M211.8 114.3h0M220.4 111.2h0M212.8 109.6h0M215.9 111.6h0M219.7 111.2h0M214.2 113.7h0M229.8 113.3h0M230.4 112.4h0M224.6 112.7h0M227.8 113.1h0M224.2 115.4h0M226.8 111.5h0M222.8 113.0h0M230.7 112.4h0M230.0 111.3h0M228.9 115.2h0M222.2 112.5h0M225.5 112.7h0M223.4 112.3h0M230.9 111.6h0M224.6 109.8h0M230.4 114.3h0M225.9 111.9h0M226.3 112.9h0M228.1 112.4h0M221.0 111.1h0M224.4 113.5h0M230.0 115.4h0M224.9 113.8h0M221.4 111.6h0M227.1 113.5h0M231.5 114.5h0M231.2 114.8h0M227.1 115.3h0M223.0 113.5h0M229.7 112.1h0M224.7 111.6h0M222.3 114.6h0M228.6 114.4h0M229.7 109.9h0M226.8 115.1h0M225.2 113.1h0M232.7 113.9h0M221.2 111.1h0M223.8 110.6h0M229.5 110.4h0M222.6 113.8h0M227.6 116.1h0M226.3 109.9h0M226.8 113.0h0M230.0 110.1h0M226.7 115.1h0M220.9 113.2h0M223.6 113.5h0M224.7 114.1h0M222.5 112.8h0M234.8 110.5h0M236.2 110.6h0M239.5 111.8h0M239.5 113.3h0M242.1 113.0h0M239.5 113.6h0M237.5 110.9h0M237.0 114.3h0M238.7 114.5h0M232.3 114.1h0M240.1 112.1h0M239.5 111.1h0M240.6 113.9h0M240.9 115.5h0M234.6 115.1h0M236.1 114.7h0M234.1 113.6h0M239.7 114.1h0M250.6 111.3h0M251.1 112.0h0M245.4 112.7h0M244.0 114.3h0M248.9 112.1h0M248.5 113.1h0M246.9 113.7h0M245.2 115.1h0M244.3 110.3h0M250.3 111.8h0M245.3 114.4h0M246.7 115.2h0M251.5 115.2h0M246.4 112.5h0M242.4 115.7h0M243.3 113.3h0M244.5 115.0h0M243.9 113.3h0M254.8 112.6h0M253.8 111.1h0M258.5 110.0h0M256.4 112.8h0M259.7 113.0h0M254.3 113.7h0M259.2 111.8h0M258.1 111.6h0M253.4 115.2h0M254.9 114.5h0M256.0 112.0h0M252.1 111.5h0M253.9 111.4h0M260.4 112.4h0M259.8 110.6h0M256.2 113.4h0M260.3 114.5h0M258.6 111.0h0M264.1 112.4h0M269.7 111.9h0M265.3 114.9h0M263.5 112.1h0M264.6 113.7h0M265.4 113.4h0M274.4 110.5h0M276.2 112.3h0M141.2 115.1h0M139.6 120.1h0M144.4 115.6h0M151.4 116.5h0M142.8 120.8h0M150.9 115.4h0M143.3 116.7h0M148.8 116.8h0M153.7 118.8h0M153.2 116.3h0M159.2 116.4h0M153.3 116.0h0M153.9 118.3h0M158.7 117.2h0M167.4 117.6h0M168.9 119.3h0M171.8 115.8h0M164.5 116.7h0M172.7 119.0h0M170.4 119.5h0M173.7 117.3h0M180.8 118.0h0M174.1 119.1h0M182.1 117.2h0M174.2 120.2h0M175.7 119.5h0M175.3 118.7h0M174.5 116.7h0M172.1 120.9h0M177.4 118.9h0M175.9 117.8h0M179.8 116.1h0M179.0 117.6h0M180.9 116.4h0M181.6 115.3h0M179.9 120.8h0M179.5 116.4h0M175.6 117.6h0M184.8 117.3h0M189.9 119.9h0M191.8 117.3h0M190.8 117.6h0M187.5 115.4h0M187.1 116.0h0M190.8 118.8h0M190.7 119.7h0M186.5 116.1h0M184.3 116.6h0M191.7 118.6h0M189.3 118.2h0M183.4 119.4h0M186.1 115.2h0M183.9 119.0h0M190.5 116.3h0M184.6 119.6h0M184.8 118.9h0M184.2 119.4h0M190.8 117.4h0M188.2 115.2h0M183.7 114.1h0M183.7 116.4h0M185.0 116.0h0M187.6 120.6h0M182.0 115.0h0M183.9 115.6h0M192.0 119.5h0M191.5 117.6h0M186.2 114.3h0M184.4 120.0h0M186.4 116.0h0M185.7 116.7h0M183.0 118.2h0M184.8 116.2h0M182.4 117.9h0M180.8 117.2h0M187.0 117.6h0M185.9 115.9h0M183.9 117.4h0M186.4 118.3h0M190.5 118.3h0M185.1 117.9h0M188.4 118.4h0M182.2 115.9h0M181.6 117.8h0M191.9 118.5h0M183.3 117.6h0M192.5 119.9h0M187.0 115.5h0M197.8 117.3h0M199.5 116.7h0M202.0 118.9h0M199.6 116.9h0M200.9 117.6h0M199.3 117.5h0M195.6 119.7h0M195.0 116.4h0M198.3 117.8h0M199.9 120.7h0M193.5 118.8h0M200.3 119.4h0M197.0 118.9h0M197.1 118.7h0M197.8 118.5h0M193.2 120.8h0M193.4 118.1h0M198.9 119.1h0M198.1 118.7h0M195.2 119.1h0M195.8 117.4h0M190.9 119.6h0M193.8 119.2h0M193.8 118.6h0M193.5 118.1h0M198.3 120.3h0M191.4 117.2h0M199.0 117.7h0M197.6 118.1h0M197.9 119.8h0M199.4 119.3h0M196.9 119.4h0M196.9 119.4h0M201.7 117.0h0M199.5 116.8h0M200.0 116.2h0M199.0 119.8h0M200.9 118.8h0M193.0 115.8h0M199.5 117.0h0M197.5 117.8h0M193.6 115.4h0M198.7 117.6h0M195.7 119.3h0M191.3 117.6h0M197.2 116.0h0M193.9 119.9h0M197.8 115.6h0M196.7 117.3h0M194.5 114.9h0M196.0 117.9h0M192.6 120.5h0M193.0 118.5h0M197.3 117.3h0M198.0 116.9h0M194.5 116.1h0M198.6 119.1h0M199.6 118.3h0M201.3 116.0h0M195.1 116.3h0M193.0 118.0h0M195.1 118.1h0M198.8 119.7h0M194.9 117.8h0M197.6 116.6h0M193.9 117.9h0M194.9 115.4h0M197.2 116.9h0M196.9 118.6h0M201.2 117.7h0M196.9 119.9h0M197.8 120.0h0M199.7 119.6h0M192.4 115.6h0M199.5 116.0h0M198.1 119.2h0M196.5 118.3h0M193.5 118.9h0M197.8 117.2h0M201.2 116.3h0M194.2 119.7h0M202.5 119.7h0M199.3 116.3h0M200.4 118.0h0M196.7 116.8h0M200.1 119.6h0M199.5 119.3h0M195.7 116.9h0M201.2 117.6h0M197.8 119.4h0M192.8 117.4h0M199.1 115.1h0M193.8 117.4h0M195.0 117.5h0M193.1 117.5h0M199.8 117.0h0M195.2 115.3h0M198.9 117.0h0M192.7 116.3h0M200.9 117.8h0M201.6 119.5h0M198.8 119.4h0M195.5 116.3h0M192.6 118.3h0M201.3 120.1h0M197.1 117.2h0M196.0 118.6h0M197.5 119.5h0M202.3 115.6h0M199.2 117.0h0M204.9 118.8h0M206.5 118.5h0M203.2 118.0h0M207.2 116.1h0M209.2 117.0h0M209.9 116.4h0M211.5 117.0h0M202.0 116.3h0M201.5 117.1h0M209.3 116.5h0M202.2 119.8h0M204.3 116.0h0M207.9 116.0h0M202.3 117.7h0M203.9 116.3h0M202.8 118.1h0M208.9 119.5h0M209.9 117.9h0M209.9 116.5h0M207.5 118.5h0M201.6 117.6h0M210.7 119.1h0M208.3 117.7h0M207.3 116.0h0M205.3 120.2h0M212.9 119.7h0M205.4 120.3h0M203.8 120.5h0M204.8 116.3h0M209.8 116.9h0M210.7 116.3h0M211.1 119.0h0M205.1 119.6h0M202.7 117.2h0M211.4 119.7h0M205.8 116.2h0M208.9 118.0h0M204.2 120.0h0M204.6 115.8h0M206.4 116.3h0M210.8 116.6h0M209.5 119.6h0M204.0 118.6h0M206.8 119.6h0M205.9 120.7h0M204.9 118.3h0M205.0 118.9h0M203.6 117.0h0M207.1 119.2h0M206.6 117.5h0M202.8 118.8h0M208.5 116.4h0M206.0 116.7h0M204.2 118.1h0M202.9 115.9h0M207.1 119.2h0M204.3 117.1h0M211.0 114.7h0M210.9 116.8h0M205.3 120.0h0M211.0 119.4h0M202.5 120.9h0M208.8 119.6h0M205.7 117.9h0M211.1 119.8h0M203.8 118.0h0M208.6 118.7h0M210.5 118.8h0M206.3 117.3h0M201.8 117.4h0M208.3 117.2h0M209.6 115.9h0M202.1 116.7h0M206.0 117.4h0M209.0 118.0h0M210.0 118.0h0M203.3 119.3h0M209.2 117.3h0M208.5 118.8h0M211.8 119.8h0M209.6 118.9h0M205.9 118.0h0M210.4 119.3h0M200.8 118.6h0M206.1 120.3h0M208.3 118.4h0M210.4 117.1h0M206.5 118.5h0M207.4 117.9h0M206.6 119.8h0M203.5 116.9h0M203.3 118.4h0M202.8 119.9h0M210.8 116.9h0M205.7 118.5h0M203.9 117.6h0M207.9 119.6h0M211.5 118.7h0M208.2 117.2h0M209.5 115.8h0M208.3 115.6h0M203.1 117.7h0M205.5 114.7h0M206.6 120.8h0M204.8 118.8h0M207.1 115.1h0M209.1 117.5h0M210.2 116.0h0M204.5 118.4h0M210.3 115.3h0M211.4 114.5h0M213.9 115.2h0M215.2 116.0h0M214.3 115.7h0M220.6 119.0h0M221.7 119.3h0M211.0 116.6h0M217.7 117.3h0M219.0 117.1h0M219.6 115.6h0M216.7 120.3h0M213.9 117.7h0M220.4 115.7h0M212.8 115.5h0M217.3 116.1h0M213.6 116.4h0M214.7 116.6h0M219.6 117.5h0M216.8 117.3h0M212.7 118.2h0M218.1 116.9h0M220.1 119.5h0M216.5 118.0h0M219.7 116.0h0M220.3 119.9h0M214.2 115.2h0M213.6 117.8h0M217.2 118.8h0M220.1 116.9h0M219.3 115.9h0M216.7 114.9h0M215.7 120.0h0M217.8 119.9h0M218.7 117.9h0M214.5 115.4h0M222.1 116.6h0M217.0 115.4h0M214.0 115.9h0M218.9 119.5h0M219.9 119.1h0M223.2 118.7h0M217.9 114.9h0M219.6 117.5h0M220.8 116.5h0M223.2 117.1h0M213.5 115.7h0M213.4 115.2h0M218.6 117.5h0M217.2 114.0h0M215.8 119.6h0M221.2 119.5h0M221.2 119.3h0M215.5 117.7h0M214.1 119.0h0M217.7 118.6h0M217.3 117.7h0M221.6 119.5h0M215.5 117.4h0M215.5 118.7h0M214.9 118.0h0M211.4 118.2h0M214.8 117.7h0M222.4 117.1h0M212.9 117.5h0M214.3 115.6h0M218.2 120.4h0M215.6 118.7h0M218.7 118.1h0M221.7 115.8h0M218.2 116.0h0M219.0 117.3h0M216.3 115.8h0M220.8 118.5h0M215.9 115.4h0M216.2 119.3h0M218.0 117.3h0M217.6 118.9h0M217.9 117.0h0M218.1 116.7h0M220.1 117.9h0M215.3 121.0h0M217.1 119.3h0M216.7 115.8h0M214.2 119.8h0M219.4 117.0h0M214.0 117.8h0M218.8 116.7h0M217.2 118.2h0M212.2 119.0h0M218.6 115.6h0M213.7 116.6h0M219.2 117.9h0M218.5 117.2h0M213.9 114.1h0M211.2 116.1h0M218.9 115.6h0M213.8 118.9h0M219.5 116.7h0M219.3 119.0h0M213.2 115.8h0M221.1 117.0h0M218.3 120.3h0M214.4 115.8h0M215.1 116.2h0M212.1 115.9h0M218.5 120.0h0M214.3 118.3h0M217.1 120.1h0M216.6 118.1h0M216.2 114.8h0M223.0 115.7h0M228.9 119.4h0M220.2 117.3h0M225.9 117.5h0M222.3 116.2h0M222.5 117.4h0M221.9 115.1h0M222.6 119.6h0M223.9 117.9h0M225.2 118.6h0M225.9 114.8h0M230.2 120.1h0M232.2 120.5h0M221.4 117.9h0M226.1 118.3h0M229.3 118.6h0M224.1 117.0h0M227.4 117.3h0M230.3 115.6h0M224.7 118.4h0M227.4 118.5h0M224.2 116.0h0M228.8 120.1h0M229.3 117.3h0M231.9 117.0h0M229.0 116.8h0M221.6 116.4h0M229.2 117.1h0M231.5 119.9h0M226.8 119.5h0M227.5 117.5h0M226.7 121.1h0M222.8 116.8h0M226.0 116.5h0M222.0 120.4h0M222.3 119.1h0M230.2 118.0h0M224.2 119.1h0M223.1 119.5h0M222.3 120.8h0M226.1 116.6h0M226.2 115.7h0M231.3 116.4h0M230.5 117.2h0M229.2 118.5h0M227.1 118.4h0M226.1 118.4h0M228.7 115.8h0M226.3 119.2h0M223.9 115.5h0M234.7 115.3h0M233.3 115.9h0M236.5 115.6h0M238.2 118.7h0M232.8 117.2h0M235.2 118.5h0M239.2 116.3h0M234.2 118.2h0M236.0 115.7h0M233.7 115.7h0M232.7 115.7h0M238.8 117.8h0M233.8 119.2h0M233.4 118.5h0M233.6 117.9h0M238.0 118.1h0M236.4 117.2h0M240.6 117.1h0M237.5 116.8h0M241.0 116.4h0M232.3 115.8h0M238.1 117.3h0M233.8 118.5h0M240.1 114.7h0M239.7 116.3h0M239.4 118.6h0M234.1 121.0h0M240.1 119.9h0M237.9 117.5h0M232.9 115.4h0M234.0 119.4h0M233.7 115.4h0M240.4 118.2h0M233.1 117.5h0M233.6 116.3h0M236.9 116.1h0M236.1 116.3h0M235.5 117.9h0M241.6 120.2h0M238.5 117.2h0M241.1 118.2h0M237.6 118.1h0M233.6 119.0h0M233.0 117.2h0M237.9 116.8h0M240.2 117.1h0M236.4 115.1h0M240.1 118.8h0M232.8 116.9h0M237.9 116.6h0M252.8 119.7h0M242.6 116.2h0M249.7 119.6h0M246.2 118.9h0M245.3 119.7h0M244.1 119.1h0M251.9 119.6h0M245.1 121.1h0M247.0 115.9h0M248.6 119.6h0M241.6 118.1h0M250.1 117.1h0M244.4 119.8h0M244.6 117.6h0M247.2 117.4h0M245.7 117.8h0M243.9 116.1h0M247.5 117.5h0M257.7 115.8h0M258.1 118.6h0M254.6 117.4h0M260.4 115.1h0M261.1 115.2h0M251.8 116.3h0M255.0 116.3h0M260.1 116.4h0M257.4 118.8h0M259.1 119.6h0M251.8 117.5h0M262.4 115.5h0M261.3 118.9h0M255.1 118.6h0M257.8 116.2h0M257.8 117.9h0M256.9 118.6h0M260.1 115.5h0M266.4 119.9h0M265.5 114.4h0M268.1 119.9h0M265.3 118.0h0M261.7 119.0h0M266.1 117.2h0M279.7 115.4h0M159.0 122.1h0M161.1 121.8h0M171.4 123.3h0M172.5 122.2h0M179.8 122.1h0M176.2 121.4h0M179.7 121.7h0M174.9 122.1h0M181.9 121.6h0M176.9 125.3h0M187.6 120.4h0M184.8 120.7h0M180.9 120.0h0M184.0 120.4h0M190.3 125.0h0M187.9 124.4h0M200.3 123.7h0M196.9 124.1h0M192.1 124.2h0M192.1 122.0h0M199.9 123.6h0M195.6 123.8h0M204.0 121.5h0M210.2 123.1h0M209.3 124.9h0M205.1 124.7h0M205.9 124.7h0M203.0 121.6h0M205.4 119.7h0M203.7 122.7h0M201.4 124.4h0M206.0 120.7h0M202.9 121.7h0M208.1 122.3h0M203.2 122.8h0M209.7 124.2h0M212.3 123.6h0M208.0 124.4h0M208.5 125.8h0M208.8 122.2h0M218.5 119.6h0M220.6 122.1h0M213.1 124.7h0M216.0 126.3h0M216.8 125.4h0M221.0 122.3h0M211.8 125.0h0M219.6 122.7h0M222.1 122.0h0M216.7 124.4h0M218.7 121.2h0M216.1 125.1h0M213.8 122.3h0M212.3 121.1h0M222.1 121.2h0M213.7 120.8h0M212.4 121.4h0M213.3 124.4h0M230.7 123.5h0M227.7 119.7h0M226.2 121.0h0M224.5 122.2h0M221.8 121.8h0M222.7 122.2h0M226.3 122.3h0M228.8 125.6h0M225.9 124.1h0M226.7 121.8h0M230.4 123.2h0M222.8 125.1h0M228.9 121.5h0M231.0 121.3h0M230.2 124.7h0M224.1 124.3h0M229.2 122.0h0M230.9 124.9h0M233.3 121.0h0M234.2 122.1h0M239.7 123.2h0M232.9 120.8h0M240.2 120.5h0M236.6 121.0h0M242.0 122.8h0M241.8 122.1h0M235.0 120.8h0M241.5 121.7h0M236.1 122.3h0M234.5 119.7h0M234.5 121.4h0M236.0 120.1h0M234.1 122.7h0M235.2 123.4h0M236.9 122.5h0M236.3 120.4h0M252.1 123.1h0M248.0 120.8h0M249.6 122.5h0M251.0 123.8h0M245.7 121.6h0M244.5 124.3h0M258.8 120.3h0M255.3 123.9h0M260.6 122.4h0M259.3 122.7h0M252.8 121.8h0M260.9 124.5h0M263.8 124.5h0M261.0 122.7h0M268.4 124.6h0M264.4 124.9h0M268.5 119.3h0M265.6 123.4h0M277.5 122.6h0M174.4 126.6h0M190.0 127.8h0M184.2 129.7h0M208.8 125.4h0M209.5 125.2h0M205.8 128.3h0M203.8 125.8h0M204.0 126.5h0M202.8 128.7h0M215.2 124.8h0M216.0 127.0h0M227.0 128.2h0M233.6 125.8h0M232.3 125.0h0M243.3 130.8h0M249.2 126.8h0M263.0 127.1h0M270.5 131.7h0M191.9 66.1h0M217.5 65.0h0M222.0 57.6h0M150.0 73.8h0M158.1 74.7h0M202.1 74.7h0M221.5 77.8h0M229.1 74.7h0M220.3 82.4h0M226.8 81.7h0M251.3 79.4h0M177.9 82.4h0M188.4 83.6h0M170.9 88.7h0M183.5 88.7h0M201.2 88.7h0M265.7 87.8h0M265.7 91.7h0M167.9 94.1h0M240.8 87.1h0M159.3 137.6h0M166.8 136.7h0M169.1 134.8h0M199.3 134.3h0M179.5 141.3h0M179.5 148.8h0M209.3 133.0h0M213.3 138.3h0M226.1 140.6h0M223.8 148.3h0M235.0 147.6h0M243.1 134.3h0M252.4 136.7h0M219.1 154.6h0M217.5 159.3h0M201.7 163.9h0M199.8 173.7h0M262.2 154.6h0M128.8 102.3h0M135.2 112.0h0M106.3 113.9h0M107.2 118.1h0M114.9 119.0h0M100.4 121.3h0M120.3 122.3h0M125.4 162.9h0M177.8 141.9h0M179.0 147.0h0M179.7 150.0h0M236.0 97.1h0M240.0 96.4h0M311.1 99.5h0M318.0 107.4h0M302.9 106.2h0M282.6 109.3h0M287.8 108.1h0M293.6 109.9h0M273.8 106.9h0M305.2 116.9h0M243.0 133.3h0M244.6 134.9h0M252.8 136.8h0M235.3 148.4h0M234.6 150.0h0M262.1 154.3h0" stroke="#111" stroke-width="1.6" stroke-linecap="round" fill="none"/>
<path d="M44.6 102.80000000000001H366.9M44.6 123.30000000000001H366.9" stroke="#666" stroke-width="1.1" stroke-dasharray="2.8 1.9" fill="none"/>
<path d="M44.6 113.30000000000001H366.9" stroke="#555" stroke-width="1.1" fill="none"/>
<path d="M44.6 103.40000000000003L366.9 122.80000000000001" stroke="#f03030" stroke-width="1.1" fill="none"/>
<path d="M44.6 12V214M39.8 206.5H366.9M39.8 19.5H44.6M39.8 66.2H44.6M39.8 113H44.6M39.8 159.8H44.6M125.2 206.5V211.6M205.8 206.5V211.6M286.3 206.5V211.6M366.9 206.5V211.6" stroke="#8a8a8a" stroke-width="1.2" fill="none"/>
<text x="35.2" y="23.6" class="t" text-anchor="end">100</text>
<text x="35.2" y="70.4" class="t" text-anchor="end">50</text>
<text x="35.2" y="117.2" class="t" text-anchor="end">0</text>
<text x="35.2" y="163.9" class="t" text-anchor="end">-50</text>
<text x="35.2" y="210.7" class="t" text-anchor="end">-100</text>
<text x="44.6" y="224.9" class="t" text-anchor="middle">-100</text>
<text x="125.2" y="224.9" class="t" text-anchor="middle">-50</text>
<text x="205.8" y="224.9" class="t" text-anchor="middle">0</text>
<text x="286.3" y="224.9" class="t" text-anchor="middle">50</text>
<text x="366.9" y="224.9" class="t" text-anchor="middle">100</text>
<text x="205.8" y="241.5" class="al" text-anchor="middle">Average (mmHg)</text>
<text transform="translate(10.6,113.9) rotate(-90)" class="al yl" text-anchor="middle" xml:space="preserve">Difference;  VCM - Intra-arterial (mmHg)</text>
<text x="205.8" y="10.8" class="ti" text-anchor="middle">Systolic beat-to-beat blood pressure changes</text>
<path d="M195 24.2H212.5" stroke="#555" stroke-width="1.1"/>
<path d="M195 36.4H212.5" stroke="#666" stroke-width="1.1" stroke-dasharray="2.6 2"/>
<path d="M195 47.9H212.5" stroke="#f06060" stroke-width="1.3"/>
<text x="220.9" y="27.8" class="lg">Mean bias</text>
<text x="220.9" y="39.3" class="lg">Limits of agreement</text>
<text x="220.9" y="51.5" class="lg">Correlation between bias and mean</text>
<text x="223.6" y="64" class="lg">r<tspan dy="-4" font-size="7.5">2</tspan><tspan dy="4" dx="-0.6"> : 0.04 (95% CI 0.03-0.06)</tspan></text>
</g>
</svg>
</body></html>
